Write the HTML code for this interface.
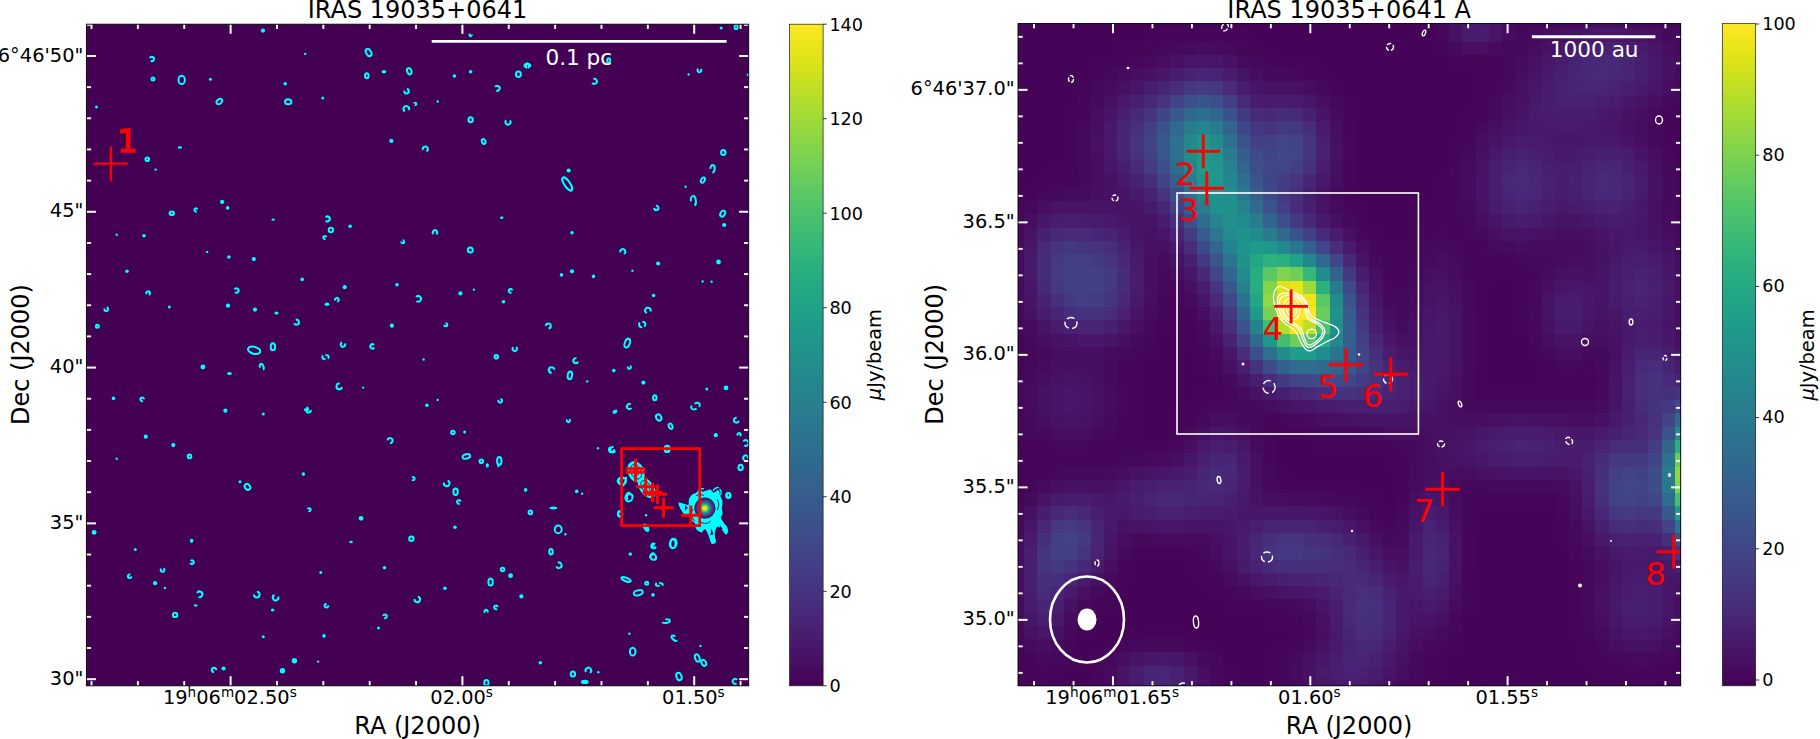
<!DOCTYPE html>
<html lang="en"><head><meta charset="utf-8"><title>IRAS 19035+0641</title>
<style>html,body{margin:0;padding:0;background:#fff;overflow:hidden}svg{display:block}text{font-family:'DejaVu Sans','Liberation Sans',sans-serif}</style>
</head><body>
<svg width="1820" height="739" viewBox="0 0 1820 739">
<defs>
<linearGradient id="vir" x1="0" y1="0" x2="0" y2="1"><stop offset="0.0000" stop-color="#fde725"/><stop offset="0.0312" stop-color="#ece51b"/><stop offset="0.0625" stop-color="#d8e219"/><stop offset="0.0938" stop-color="#c2df23"/><stop offset="0.1250" stop-color="#addc30"/><stop offset="0.1562" stop-color="#98d83e"/><stop offset="0.1875" stop-color="#84d44b"/><stop offset="0.2188" stop-color="#70cf57"/><stop offset="0.2500" stop-color="#5ec962"/><stop offset="0.2812" stop-color="#4ec36b"/><stop offset="0.3125" stop-color="#3fbc73"/><stop offset="0.3438" stop-color="#32b67a"/><stop offset="0.3750" stop-color="#28ae80"/><stop offset="0.4062" stop-color="#22a785"/><stop offset="0.4375" stop-color="#1fa088"/><stop offset="0.4688" stop-color="#1f988b"/><stop offset="0.5000" stop-color="#21918c"/><stop offset="0.5312" stop-color="#23898e"/><stop offset="0.5625" stop-color="#26828e"/><stop offset="0.5938" stop-color="#297a8e"/><stop offset="0.6250" stop-color="#2c728e"/><stop offset="0.6562" stop-color="#2f6b8e"/><stop offset="0.6875" stop-color="#33638d"/><stop offset="0.7188" stop-color="#375b8d"/><stop offset="0.7500" stop-color="#3b528b"/><stop offset="0.7812" stop-color="#3e4989"/><stop offset="0.8125" stop-color="#424086"/><stop offset="0.8438" stop-color="#453781"/><stop offset="0.8750" stop-color="#472d7b"/><stop offset="0.9062" stop-color="#482374"/><stop offset="0.9375" stop-color="#48186a"/><stop offset="0.9688" stop-color="#470d60"/><stop offset="1.0000" stop-color="#440154"/></linearGradient>
<clipPath id="c1"><rect x="86.40" y="24.20" width="662.30" height="661.60"/></clipPath>
<clipPath id="c2"><rect x="1018.00" y="23.60" width="662.70" height="662.20"/></clipPath>
</defs>
<rect x="0.00" y="0.00" width="1820.00" height="739.00" fill="#fff"/>
<rect x="86.40" y="24.20" width="662.30" height="661.60" fill="#440154"/>
<g clip-path="url(#c1)">
<ellipse cx="263.0" cy="30.6" rx="2.1" ry="2.1" fill="#00ffff"/>
<ellipse cx="305.2" cy="53.9" rx="1.2" ry="1.2" fill="#00ffff"/>
<ellipse cx="151.8" cy="59.0" rx="2.2" ry="2.2" fill="none" stroke="#00ffff" stroke-width="2.0" stroke-dasharray="9.7 3.8" transform="rotate(201 151.8 59.0)"/>
<ellipse cx="153.0" cy="79.0" rx="1.5" ry="1.5" fill="none" stroke="#00ffff" stroke-width="2.0"/>
<ellipse cx="181.7" cy="79.9" rx="3.2" ry="4.2" fill="none" stroke="#00ffff" stroke-width="2.0"/>
<ellipse cx="210.4" cy="79.3" rx="1.5" ry="1.5" fill="#00ffff"/>
<ellipse cx="285.2" cy="83.8" rx="1.8" ry="1.8" fill="#00ffff"/>
<ellipse cx="219.4" cy="101.5" rx="3.2" ry="2.2" fill="none" stroke="#00ffff" stroke-width="2.0" transform="rotate(-40 219.4 101.5)"/>
<ellipse cx="288.2" cy="101.8" rx="3.2" ry="2.5" fill="none" stroke="#00ffff" stroke-width="2.0"/>
<ellipse cx="96.5" cy="107.1" rx="1.5" ry="1.5" fill="#00ffff"/>
<ellipse cx="179.9" cy="147.5" rx="2.1" ry="1.2" fill="#00ffff"/>
<ellipse cx="147.3" cy="159.2" rx="1.8" ry="1.8" fill="none" stroke="#00ffff" stroke-width="2.0"/>
<ellipse cx="155.7" cy="169.6" rx="1.2" ry="1.2" fill="#00ffff"/>
<ellipse cx="222.1" cy="201.9" rx="2.1" ry="2.1" fill="#00ffff"/>
<ellipse cx="227.7" cy="207.9" rx="1.8" ry="1.8" fill="#00ffff"/>
<ellipse cx="171.8" cy="213.3" rx="2.2" ry="1.8" fill="none" stroke="#00ffff" stroke-width="2.0"/>
<ellipse cx="196.0" cy="210.0" rx="1.5" ry="1.5" fill="none" stroke="#00ffff" stroke-width="2.0" stroke-dasharray="6.6 2.6" transform="rotate(59 196.0 210.0)"/>
<ellipse cx="273.2" cy="219.6" rx="1.8" ry="1.2" fill="#00ffff"/>
<ellipse cx="116.8" cy="234.8" rx="1.2" ry="1.2" fill="#00ffff"/>
<ellipse cx="144.0" cy="235.7" rx="1.8" ry="1.8" fill="#00ffff"/>
<ellipse cx="470.6" cy="35.1" rx="1.1" ry="1.1" fill="none" stroke="#00ffff" stroke-width="2.0" stroke-dasharray="5.1 2.0" transform="rotate(327 470.6 35.1)"/>
<ellipse cx="368.6" cy="52.4" rx="2.5" ry="3.9" fill="none" stroke="#00ffff" stroke-width="2.0" transform="rotate(-30 368.6 52.4)"/>
<ellipse cx="366.8" cy="75.7" rx="1.8" ry="2.5" fill="none" stroke="#00ffff" stroke-width="2.0"/>
<ellipse cx="383.9" cy="71.8" rx="2.4" ry="1.8" fill="#00ffff"/>
<ellipse cx="409.3" cy="71.2" rx="2.2" ry="3.2" fill="none" stroke="#00ffff" stroke-width="2.0" transform="rotate(-20 409.3 71.2)"/>
<ellipse cx="454.4" cy="76.0" rx="1.8" ry="1.8" fill="#00ffff"/>
<ellipse cx="470.6" cy="71.8" rx="1.8" ry="1.8" fill="#00ffff"/>
<ellipse cx="518.4" cy="74.2" rx="2.5" ry="2.8" fill="none" stroke="#00ffff" stroke-width="2.0"/>
<ellipse cx="526.8" cy="65.9" rx="2.2" ry="2.2" fill="none" stroke="#00ffff" stroke-width="2.0" stroke-dasharray="9.7 3.8" transform="rotate(143 526.8 65.9)"/>
<ellipse cx="497.2" cy="88.3" rx="2.5" ry="2.5" fill="none" stroke="#00ffff" stroke-width="2.0" stroke-dasharray="11.3 4.4" transform="rotate(210 497.2 88.3)"/>
<ellipse cx="406.6" cy="91.3" rx="2.2" ry="2.2" fill="none" stroke="#00ffff" stroke-width="2.0" stroke-dasharray="9.7 3.8" transform="rotate(277 406.6 91.3)"/>
<ellipse cx="322.8" cy="97.9" rx="1.5" ry="1.5" fill="#00ffff"/>
<ellipse cx="437.7" cy="101.5" rx="1.2" ry="1.2" fill="#00ffff"/>
<ellipse cx="406.3" cy="108.9" rx="2.8" ry="2.8" fill="none" stroke="#00ffff" stroke-width="2.0" stroke-dasharray="12.8 5.0" transform="rotate(118 406.3 108.9)"/>
<ellipse cx="415.3" cy="103.8" rx="1.1" ry="1.1" fill="none" stroke="#00ffff" stroke-width="2.0" stroke-dasharray="5.1 2.0" transform="rotate(185 415.3 103.8)"/>
<ellipse cx="470.6" cy="119.7" rx="2.2" ry="2.5" fill="none" stroke="#00ffff" stroke-width="2.0"/>
<ellipse cx="508.0" cy="122.1" rx="2.5" ry="2.5" fill="none" stroke="#00ffff" stroke-width="2.0" stroke-dasharray="11.3 4.4" transform="rotate(319 508.0 122.1)"/>
<ellipse cx="391.3" cy="140.9" rx="2.1" ry="2.1" fill="#00ffff"/>
<ellipse cx="483.7" cy="141.5" rx="1.8" ry="2.5" fill="none" stroke="#00ffff" stroke-width="2.0" transform="rotate(-20 483.7 141.5)"/>
<ellipse cx="425.4" cy="149.0" rx="2.5" ry="2.5" fill="none" stroke="#00ffff" stroke-width="2.0" stroke-dasharray="11.3 4.4" transform="rotate(160 425.4 149.0)"/>
<ellipse cx="327.3" cy="219.0" rx="2.5" ry="2.5" fill="none" stroke="#00ffff" stroke-width="2.0" stroke-dasharray="11.3 4.4" transform="rotate(227 327.3 219.0)"/>
<ellipse cx="330.9" cy="230.0" rx="2.2" ry="2.2" fill="none" stroke="#00ffff" stroke-width="2.0"/>
<ellipse cx="350.1" cy="226.2" rx="1.8" ry="1.8" fill="#00ffff"/>
<ellipse cx="324.9" cy="237.5" rx="1.5" ry="1.5" fill="none" stroke="#00ffff" stroke-width="2.0" stroke-dasharray="6.6 2.6" transform="rotate(68 324.9 237.5)"/>
<ellipse cx="435.0" cy="232.4" rx="2.2" ry="2.2" fill="none" stroke="#00ffff" stroke-width="2.0" stroke-dasharray="9.7 3.8" transform="rotate(135 435.0 232.4)"/>
<ellipse cx="501.7" cy="217.8" rx="1.8" ry="1.2" fill="#00ffff"/>
<ellipse cx="402.7" cy="241.7" rx="1.5" ry="1.5" fill="none" stroke="#00ffff" stroke-width="2.0" stroke-dasharray="6.6 2.6" transform="rotate(269 402.7 241.7)"/>
<ellipse cx="721.2" cy="27.9" rx="1.5" ry="1.5" fill="#00ffff"/>
<ellipse cx="736.1" cy="27.0" rx="1.5" ry="2.2" fill="none" stroke="#00ffff" stroke-width="2.0"/>
<ellipse cx="528.0" cy="65.9" rx="2.2" ry="2.2" fill="none" stroke="#00ffff" stroke-width="2.0" stroke-dasharray="9.7 3.8" transform="rotate(110 528.0 65.9)"/>
<ellipse cx="608.7" cy="60.5" rx="1.5" ry="2.2" fill="none" stroke="#00ffff" stroke-width="2.0"/>
<ellipse cx="594.4" cy="81.4" rx="2.5" ry="2.5" fill="none" stroke="#00ffff" stroke-width="2.0" stroke-dasharray="11.3 4.4" transform="rotate(244 594.4 81.4)"/>
<ellipse cx="699.4" cy="70.4" rx="1.8" ry="1.8" fill="none" stroke="#00ffff" stroke-width="2.0" stroke-dasharray="8.2 3.2" transform="rotate(311 699.4 70.4)"/>
<ellipse cx="688.6" cy="74.5" rx="1.2" ry="1.2" fill="#00ffff"/>
<ellipse cx="747.8" cy="74.8" rx="1.2" ry="1.2" fill="#00ffff"/>
<ellipse cx="723.3" cy="152.6" rx="2.2" ry="2.5" fill="none" stroke="#00ffff" stroke-width="2.0"/>
<ellipse cx="712.5" cy="169.0" rx="2.2" ry="3.9" fill="none" stroke="#00ffff" stroke-width="2.0" stroke-dasharray="13.6 5.3" transform="rotate(189 712.5 169.0)"/>
<ellipse cx="702.9" cy="180.1" rx="1.8" ry="2.8" fill="none" stroke="#00ffff" stroke-width="2.0" transform="rotate(30 702.9 180.1)"/>
<ellipse cx="568.7" cy="170.5" rx="2.1" ry="2.1" fill="#00ffff"/>
<ellipse cx="567.2" cy="184.0" rx="2.8" ry="7.7" fill="none" stroke="#00ffff" stroke-width="2.0" transform="rotate(-35 567.2 184.0)"/>
<ellipse cx="685.6" cy="186.7" rx="1.2" ry="1.2" fill="#00ffff"/>
<ellipse cx="693.4" cy="201.0" rx="2.5" ry="4.9" fill="none" stroke="#00ffff" stroke-width="2.0" stroke-dasharray="16.7 6.5" transform="rotate(174 693.4 201.0)"/>
<ellipse cx="656.3" cy="207.9" rx="2.2" ry="2.2" fill="none" stroke="#00ffff" stroke-width="2.0" stroke-dasharray="9.7 3.8" transform="rotate(261 656.3 207.9)"/>
<ellipse cx="722.7" cy="213.6" rx="2.2" ry="3.2" fill="none" stroke="#00ffff" stroke-width="2.0" transform="rotate(30 722.7 213.6)"/>
<ellipse cx="724.2" cy="225.0" rx="2.1" ry="2.1" fill="#00ffff"/>
<ellipse cx="572.0" cy="232.7" rx="1.8" ry="1.8" fill="#00ffff"/>
<ellipse cx="207.1" cy="251.9" rx="1.2" ry="1.2" fill="#00ffff"/>
<ellipse cx="228.9" cy="257.0" rx="1.8" ry="1.8" fill="#00ffff"/>
<ellipse cx="253.8" cy="259.1" rx="2.1" ry="2.1" fill="#00ffff"/>
<ellipse cx="127.0" cy="271.3" rx="1.8" ry="1.8" fill="#00ffff"/>
<ellipse cx="302.2" cy="279.4" rx="1.8" ry="1.8" fill="#00ffff"/>
<ellipse cx="148.2" cy="293.1" rx="1.8" ry="1.8" fill="none" stroke="#00ffff" stroke-width="2.0" stroke-dasharray="8.2 3.2" transform="rotate(144 148.2 293.1)"/>
<ellipse cx="236.4" cy="290.5" rx="2.2" ry="2.2" fill="none" stroke="#00ffff" stroke-width="2.0" stroke-dasharray="9.7 3.8" transform="rotate(211 236.4 290.5)"/>
<ellipse cx="106.3" cy="309.3" rx="1.8" ry="1.8" fill="none" stroke="#00ffff" stroke-width="2.0" stroke-dasharray="8.2 3.2" transform="rotate(278 106.3 309.3)"/>
<ellipse cx="169.4" cy="306.9" rx="1.5" ry="1.5" fill="#00ffff"/>
<ellipse cx="228.0" cy="305.7" rx="2.1" ry="2.1" fill="#00ffff"/>
<ellipse cx="255.0" cy="309.6" rx="2.1" ry="2.1" fill="#00ffff"/>
<ellipse cx="276.5" cy="312.9" rx="2.1" ry="1.5" fill="#00ffff"/>
<ellipse cx="296.5" cy="322.2" rx="2.5" ry="2.5" fill="none" stroke="#00ffff" stroke-width="2.0" stroke-dasharray="11.3 4.4" transform="rotate(253 296.5 322.2)"/>
<ellipse cx="97.4" cy="326.3" rx="1.5" ry="1.5" fill="none" stroke="#00ffff" stroke-width="2.0"/>
<ellipse cx="272.9" cy="346.7" rx="2.2" ry="3.5" fill="none" stroke="#00ffff" stroke-width="2.0"/>
<ellipse cx="254.1" cy="350.3" rx="6.3" ry="3.5" fill="none" stroke="#00ffff" stroke-width="2.0" transform="rotate(15 254.1 350.3)"/>
<ellipse cx="261.8" cy="367.0" rx="1.8" ry="3.2" fill="none" stroke="#00ffff" stroke-width="2.0" stroke-dasharray="11.3 4.4" transform="rotate(161 261.8 367.0)"/>
<ellipse cx="202.9" cy="367.0" rx="2.4" ry="2.4" fill="#00ffff"/>
<ellipse cx="229.5" cy="373.6" rx="2.4" ry="1.5" fill="#00ffff"/>
<ellipse cx="113.5" cy="398.4" rx="1.8" ry="1.8" fill="#00ffff"/>
<ellipse cx="142.2" cy="399.3" rx="1.8" ry="1.8" fill="none" stroke="#00ffff" stroke-width="2.0" stroke-dasharray="8.2 3.2" transform="rotate(69 142.2 399.3)"/>
<ellipse cx="225.4" cy="410.7" rx="2.1" ry="2.1" fill="#00ffff"/>
<ellipse cx="263.3" cy="414.0" rx="1.5" ry="1.5" fill="#00ffff"/>
<ellipse cx="306.4" cy="408.9" rx="1.5" ry="1.5" fill="none" stroke="#00ffff" stroke-width="2.0" stroke-dasharray="6.6 2.6" transform="rotate(270 306.4 408.9)"/>
<ellipse cx="145.8" cy="436.7" rx="2.1" ry="2.1" fill="#00ffff"/>
<ellipse cx="173.3" cy="445.1" rx="2.1" ry="2.1" fill="#00ffff"/>
<ellipse cx="189.5" cy="456.4" rx="1.8" ry="1.8" fill="none" stroke="#00ffff" stroke-width="2.0"/>
<ellipse cx="116.8" cy="458.8" rx="1.2" ry="1.2" fill="#00ffff"/>
<ellipse cx="470.3" cy="250.1" rx="2.5" ry="2.5" fill="none" stroke="#00ffff" stroke-width="2.0"/>
<ellipse cx="344.7" cy="287.2" rx="2.1" ry="2.1" fill="#00ffff"/>
<ellipse cx="397.0" cy="284.8" rx="1.8" ry="1.8" fill="#00ffff"/>
<ellipse cx="327.0" cy="304.2" rx="2.4" ry="1.8" fill="#00ffff"/>
<ellipse cx="336.9" cy="299.7" rx="1.8" ry="1.8" fill="none" stroke="#00ffff" stroke-width="2.0" stroke-dasharray="8.2 3.2" transform="rotate(153 336.9 299.7)"/>
<ellipse cx="418.2" cy="298.8" rx="2.8" ry="2.8" fill="none" stroke="#00ffff" stroke-width="2.0" stroke-dasharray="12.8 5.0" transform="rotate(220 418.2 298.8)"/>
<ellipse cx="460.4" cy="293.4" rx="2.1" ry="2.1" fill="#00ffff"/>
<ellipse cx="473.9" cy="289.6" rx="1.2" ry="1.2" fill="#00ffff"/>
<ellipse cx="510.6" cy="290.8" rx="1.8" ry="1.8" fill="none" stroke="#00ffff" stroke-width="2.0" stroke-dasharray="8.2 3.2" transform="rotate(61 510.6 290.8)"/>
<ellipse cx="503.5" cy="301.8" rx="1.8" ry="1.8" fill="#00ffff"/>
<ellipse cx="391.9" cy="325.7" rx="2.1" ry="2.1" fill="#00ffff"/>
<ellipse cx="445.8" cy="324.8" rx="1.5" ry="1.5" fill="none" stroke="#00ffff" stroke-width="2.0" stroke-dasharray="6.6 2.6" transform="rotate(262 445.8 324.8)"/>
<ellipse cx="342.9" cy="344.6" rx="2.2" ry="2.2" fill="none" stroke="#00ffff" stroke-width="2.0" stroke-dasharray="9.7 3.8" transform="rotate(329 342.9 344.6)"/>
<ellipse cx="372.5" cy="346.4" rx="2.2" ry="2.2" fill="none" stroke="#00ffff" stroke-width="2.0" stroke-dasharray="9.7 3.8" transform="rotate(36 372.5 346.4)"/>
<ellipse cx="325.5" cy="357.1" rx="2.2" ry="3.2" fill="none" stroke="#00ffff" stroke-width="2.0" stroke-dasharray="6.0 2.3" transform="rotate(90 325.5 357.1)"/>
<ellipse cx="423.6" cy="359.5" rx="1.2" ry="1.2" fill="#00ffff"/>
<ellipse cx="496.3" cy="356.8" rx="1.8" ry="1.8" fill="none" stroke="#00ffff" stroke-width="2.0"/>
<ellipse cx="514.8" cy="348.8" rx="2.2" ry="2.2" fill="none" stroke="#00ffff" stroke-width="2.0" stroke-dasharray="9.7 3.8" transform="rotate(304 514.8 348.8)"/>
<ellipse cx="339.3" cy="386.4" rx="2.8" ry="2.8" fill="none" stroke="#00ffff" stroke-width="2.0" stroke-dasharray="12.8 5.0" transform="rotate(11 339.3 386.4)"/>
<ellipse cx="363.2" cy="387.6" rx="1.2" ry="1.2" fill="#00ffff"/>
<ellipse cx="426.9" cy="405.3" rx="1.8" ry="1.8" fill="#00ffff"/>
<ellipse cx="437.7" cy="399.9" rx="1.2" ry="1.2" fill="#00ffff"/>
<ellipse cx="500.2" cy="400.8" rx="1.8" ry="1.8" fill="none" stroke="#00ffff" stroke-width="2.0" stroke-dasharray="8.2 3.2" transform="rotate(279 500.2 400.8)"/>
<ellipse cx="308.5" cy="410.4" rx="2.2" ry="2.2" fill="none" stroke="#00ffff" stroke-width="2.0" stroke-dasharray="9.7 3.8" transform="rotate(346 308.5 410.4)"/>
<ellipse cx="452.9" cy="432.5" rx="1.8" ry="1.8" fill="none" stroke="#00ffff" stroke-width="2.0"/>
<ellipse cx="464.6" cy="431.9" rx="1.5" ry="1.5" fill="#00ffff"/>
<ellipse cx="390.1" cy="440.6" rx="2.5" ry="2.5" fill="none" stroke="#00ffff" stroke-width="2.0" stroke-dasharray="11.3 4.4" transform="rotate(187 390.1 440.6)"/>
<ellipse cx="466.4" cy="456.4" rx="3.9" ry="2.2" fill="none" stroke="#00ffff" stroke-width="2.0" transform="rotate(-15 466.4 456.4)"/>
<ellipse cx="481.3" cy="461.2" rx="1.8" ry="1.8" fill="none" stroke="#00ffff" stroke-width="2.0"/>
<ellipse cx="487.3" cy="464.8" rx="1.5" ry="1.5" fill="#00ffff"/>
<ellipse cx="499.3" cy="460.9" rx="2.2" ry="3.9" fill="none" stroke="#00ffff" stroke-width="2.0"/>
<ellipse cx="622.8" cy="251.6" rx="2.5" ry="2.5" fill="none" stroke="#00ffff" stroke-width="2.0" stroke-dasharray="11.3 4.4" transform="rotate(162 622.8 251.6)"/>
<ellipse cx="658.1" cy="263.5" rx="2.1" ry="2.1" fill="#00ffff"/>
<ellipse cx="718.5" cy="262.0" rx="2.4" ry="2.4" fill="#00ffff"/>
<ellipse cx="561.5" cy="274.9" rx="1.8" ry="1.8" fill="#00ffff"/>
<ellipse cx="572.0" cy="271.3" rx="2.1" ry="2.1" fill="#00ffff"/>
<ellipse cx="593.5" cy="276.4" rx="1.8" ry="1.8" fill="#00ffff"/>
<ellipse cx="632.4" cy="270.7" rx="1.2" ry="1.2" fill="#00ffff"/>
<ellipse cx="702.6" cy="281.5" rx="1.2" ry="1.2" fill="#00ffff"/>
<ellipse cx="711.6" cy="281.8" rx="1.2" ry="1.2" fill="#00ffff"/>
<ellipse cx="653.6" cy="295.5" rx="1.8" ry="1.8" fill="#00ffff"/>
<ellipse cx="647.9" cy="310.5" rx="2.8" ry="2.8" fill="none" stroke="#00ffff" stroke-width="2.0" stroke-dasharray="12.8 5.0" transform="rotate(112 647.9 310.5)"/>
<ellipse cx="548.3" cy="326.0" rx="2.5" ry="2.5" fill="none" stroke="#00ffff" stroke-width="2.0" stroke-dasharray="11.3 4.4" transform="rotate(179 548.3 326.0)"/>
<ellipse cx="642.2" cy="324.5" rx="2.8" ry="3.2" fill="none" stroke="#00ffff" stroke-width="2.0" stroke-dasharray="6.8 2.6" transform="rotate(90 642.2 324.5)"/>
<ellipse cx="627.3" cy="343.1" rx="2.5" ry="4.6" fill="none" stroke="#00ffff" stroke-width="2.0" transform="rotate(20 627.3 343.1)"/>
<ellipse cx="575.8" cy="360.7" rx="2.5" ry="2.5" fill="none" stroke="#00ffff" stroke-width="2.0" stroke-dasharray="11.3 4.4" transform="rotate(20 575.8 360.7)"/>
<ellipse cx="551.6" cy="370.0" rx="2.8" ry="2.8" fill="none" stroke="#00ffff" stroke-width="2.0" stroke-dasharray="12.8 5.0" transform="rotate(87 551.6 370.0)"/>
<ellipse cx="569.9" cy="375.4" rx="2.2" ry="3.9" fill="none" stroke="#00ffff" stroke-width="2.0" transform="rotate(10 569.9 375.4)"/>
<ellipse cx="613.8" cy="370.6" rx="1.8" ry="1.8" fill="#00ffff"/>
<ellipse cx="629.4" cy="367.3" rx="1.5" ry="1.5" fill="none" stroke="#00ffff" stroke-width="2.0" stroke-dasharray="6.6 2.6" transform="rotate(288 629.4 367.3)"/>
<ellipse cx="587.2" cy="381.4" rx="1.2" ry="1.2" fill="#00ffff"/>
<ellipse cx="643.4" cy="382.6" rx="2.1" ry="2.1" fill="#00ffff"/>
<ellipse cx="706.8" cy="389.1" rx="1.5" ry="1.5" fill="#00ffff"/>
<ellipse cx="726.0" cy="387.9" rx="2.4" ry="2.4" fill="#00ffff"/>
<ellipse cx="654.8" cy="397.8" rx="1.8" ry="2.5" fill="none" stroke="#00ffff" stroke-width="2.0"/>
<ellipse cx="695.5" cy="406.2" rx="2.8" ry="4.6" fill="none" stroke="#00ffff" stroke-width="2.0" stroke-dasharray="8.4 3.3" transform="rotate(65 695.5 406.2)"/>
<ellipse cx="629.4" cy="406.5" rx="2.5" ry="2.5" fill="none" stroke="#00ffff" stroke-width="2.0" stroke-dasharray="11.3 4.4" transform="rotate(37 629.4 406.5)"/>
<ellipse cx="615.0" cy="411.6" rx="2.7" ry="1.8" fill="#00ffff" transform="rotate(-30 615.0 411.6)"/>
<ellipse cx="658.7" cy="417.5" rx="2.5" ry="3.2" fill="none" stroke="#00ffff" stroke-width="2.0" transform="rotate(-30 658.7 417.5)"/>
<ellipse cx="670.6" cy="426.2" rx="1.8" ry="2.8" fill="none" stroke="#00ffff" stroke-width="2.0" transform="rotate(-20 670.6 426.2)"/>
<ellipse cx="568.4" cy="420.5" rx="1.5" ry="1.5" fill="none" stroke="#00ffff" stroke-width="2.0" stroke-dasharray="6.6 2.6" transform="rotate(305 568.4 420.5)"/>
<ellipse cx="736.4" cy="420.2" rx="2.5" ry="2.5" fill="none" stroke="#00ffff" stroke-width="2.0" stroke-dasharray="11.3 4.4" transform="rotate(12 736.4 420.2)"/>
<ellipse cx="715.8" cy="435.2" rx="2.1" ry="2.1" fill="#00ffff"/>
<ellipse cx="739.1" cy="434.6" rx="1.5" ry="1.5" fill="none" stroke="#00ffff" stroke-width="2.0" stroke-dasharray="6.6 2.6" transform="rotate(146 739.1 434.6)"/>
<ellipse cx="745.7" cy="443.0" rx="2.8" ry="2.8" fill="none" stroke="#00ffff" stroke-width="2.0" stroke-dasharray="12.8 5.0" transform="rotate(213 745.7 443.0)"/>
<ellipse cx="598.0" cy="448.3" rx="1.2" ry="1.2" fill="#00ffff"/>
<ellipse cx="611.4" cy="449.8" rx="2.5" ry="2.5" fill="none" stroke="#00ffff" stroke-width="2.0" stroke-dasharray="11.3 4.4" transform="rotate(347 611.4 449.8)"/>
<ellipse cx="666.8" cy="448.9" rx="1.8" ry="2.8" fill="none" stroke="#00ffff" stroke-width="2.0"/>
<ellipse cx="745.7" cy="457.9" rx="2.5" ry="2.5" fill="none" stroke="#00ffff" stroke-width="2.0" stroke-dasharray="11.3 4.4" transform="rotate(121 745.7 457.9)"/>
<ellipse cx="303.4" cy="474.1" rx="1.8" ry="1.8" fill="#00ffff"/>
<ellipse cx="240.0" cy="481.8" rx="1.5" ry="1.5" fill="#00ffff"/>
<ellipse cx="247.5" cy="486.9" rx="2.5" ry="3.2" fill="none" stroke="#00ffff" stroke-width="2.0" transform="rotate(-40 247.5 486.9)"/>
<ellipse cx="94.1" cy="532.4" rx="2.4" ry="2.4" fill="#00ffff"/>
<ellipse cx="191.6" cy="540.8" rx="1.8" ry="2.1" fill="#00ffff"/>
<ellipse cx="135.3" cy="549.4" rx="1.5" ry="1.5" fill="#00ffff"/>
<ellipse cx="191.9" cy="562.3" rx="1.8" ry="1.8" fill="none" stroke="#00ffff" stroke-width="2.0" stroke-dasharray="8.2 3.2" transform="rotate(230 191.9 562.3)"/>
<ellipse cx="162.6" cy="570.1" rx="1.8" ry="1.8" fill="none" stroke="#00ffff" stroke-width="2.0" stroke-dasharray="8.2 3.2" transform="rotate(297 162.6 570.1)"/>
<ellipse cx="129.7" cy="576.3" rx="1.8" ry="1.8" fill="none" stroke="#00ffff" stroke-width="2.0" stroke-dasharray="8.2 3.2" transform="rotate(4 129.7 576.3)"/>
<ellipse cx="155.1" cy="583.2" rx="2.1" ry="2.1" fill="#00ffff"/>
<ellipse cx="164.9" cy="588.0" rx="1.2" ry="1.2" fill="#00ffff"/>
<ellipse cx="199.6" cy="594.3" rx="2.8" ry="2.8" fill="none" stroke="#00ffff" stroke-width="2.0" stroke-dasharray="12.8 5.0" transform="rotate(205 199.6 594.3)"/>
<ellipse cx="256.8" cy="594.6" rx="2.8" ry="2.8" fill="none" stroke="#00ffff" stroke-width="2.0" stroke-dasharray="12.8 5.0" transform="rotate(272 256.8 594.6)"/>
<ellipse cx="275.6" cy="597.6" rx="2.8" ry="2.8" fill="none" stroke="#00ffff" stroke-width="2.0" stroke-dasharray="12.8 5.0" transform="rotate(339 275.6 597.6)"/>
<ellipse cx="195.7" cy="605.4" rx="1.8" ry="1.2" fill="#00ffff"/>
<ellipse cx="272.6" cy="610.1" rx="1.8" ry="1.5" fill="#00ffff"/>
<ellipse cx="175.1" cy="614.9" rx="2.2" ry="2.2" fill="none" stroke="#00ffff" stroke-width="2.0"/>
<ellipse cx="263.3" cy="636.8" rx="1.5" ry="1.5" fill="#00ffff"/>
<ellipse cx="294.4" cy="660.7" rx="2.7" ry="2.7" fill="#00ffff"/>
<ellipse cx="282.5" cy="670.8" rx="2.7" ry="2.7" fill="#00ffff"/>
<ellipse cx="214.0" cy="669.9" rx="2.2" ry="2.2" fill="none" stroke="#00ffff" stroke-width="2.0" stroke-dasharray="9.7 3.8" transform="rotate(88 214.0 669.9)"/>
<ellipse cx="223.6" cy="668.5" rx="2.1" ry="2.1" fill="#00ffff"/>
<ellipse cx="413.2" cy="478.6" rx="1.5" ry="1.5" fill="none" stroke="#00ffff" stroke-width="2.0" stroke-dasharray="6.6 2.6" transform="rotate(222 413.2 478.6)"/>
<ellipse cx="446.7" cy="483.3" rx="2.8" ry="2.8" fill="none" stroke="#00ffff" stroke-width="2.0" stroke-dasharray="12.8 5.0" transform="rotate(289 446.7 483.3)"/>
<ellipse cx="455.6" cy="491.7" rx="2.2" ry="3.2" fill="none" stroke="#00ffff" stroke-width="2.0"/>
<ellipse cx="458.9" cy="501.9" rx="1.8" ry="1.8" fill="none" stroke="#00ffff" stroke-width="2.0" stroke-dasharray="8.2 3.2" transform="rotate(63 458.9 501.9)"/>
<ellipse cx="525.6" cy="489.9" rx="1.8" ry="1.8" fill="#00ffff"/>
<ellipse cx="309.1" cy="509.7" rx="1.5" ry="1.5" fill="none" stroke="#00ffff" stroke-width="2.0" stroke-dasharray="6.6 2.6" transform="rotate(197 309.1 509.7)"/>
<ellipse cx="361.1" cy="518.3" rx="2.4" ry="2.4" fill="#00ffff"/>
<ellipse cx="455.0" cy="527.3" rx="1.8" ry="1.8" fill="#00ffff"/>
<ellipse cx="411.4" cy="538.7" rx="2.2" ry="2.2" fill="none" stroke="#00ffff" stroke-width="2.0"/>
<ellipse cx="351.0" cy="542.0" rx="1.8" ry="1.2" fill="#00ffff"/>
<ellipse cx="384.5" cy="567.7" rx="1.8" ry="1.8" fill="#00ffff"/>
<ellipse cx="320.8" cy="572.5" rx="1.5" ry="1.5" fill="#00ffff"/>
<ellipse cx="502.6" cy="569.5" rx="1.8" ry="1.8" fill="none" stroke="#00ffff" stroke-width="2.0"/>
<ellipse cx="510.6" cy="575.7" rx="2.4" ry="2.4" fill="#00ffff"/>
<ellipse cx="490.6" cy="582.0" rx="2.2" ry="3.5" fill="none" stroke="#00ffff" stroke-width="2.0"/>
<ellipse cx="444.9" cy="588.3" rx="1.8" ry="1.8" fill="#00ffff"/>
<ellipse cx="521.4" cy="596.4" rx="2.1" ry="2.1" fill="#00ffff"/>
<ellipse cx="417.3" cy="599.4" rx="2.8" ry="2.8" fill="none" stroke="#00ffff" stroke-width="2.0" stroke-dasharray="12.8 5.0" transform="rotate(281 417.3 599.4)"/>
<ellipse cx="326.4" cy="605.7" rx="1.8" ry="1.8" fill="none" stroke="#00ffff" stroke-width="2.0" stroke-dasharray="8.2 3.2" transform="rotate(348 326.4 605.7)"/>
<ellipse cx="496.0" cy="607.4" rx="1.8" ry="1.8" fill="none" stroke="#00ffff" stroke-width="2.0" stroke-dasharray="8.2 3.2" transform="rotate(55 496.0 607.4)"/>
<ellipse cx="486.1" cy="611.3" rx="1.5" ry="1.5" fill="none" stroke="#00ffff" stroke-width="2.0" stroke-dasharray="6.6 2.6" transform="rotate(122 486.1 611.3)"/>
<ellipse cx="385.1" cy="616.4" rx="1.8" ry="1.8" fill="none" stroke="#00ffff" stroke-width="2.0" stroke-dasharray="8.2 3.2" transform="rotate(189 385.1 616.4)"/>
<ellipse cx="378.5" cy="628.1" rx="1.5" ry="1.5" fill="#00ffff"/>
<ellipse cx="324.0" cy="635.9" rx="1.8" ry="1.8" fill="#00ffff"/>
<ellipse cx="318.1" cy="661.6" rx="1.2" ry="1.2" fill="#00ffff"/>
<ellipse cx="486.4" cy="682.8" rx="2.2" ry="2.8" fill="none" stroke="#00ffff" stroke-width="2.0"/>
<ellipse cx="487.3" cy="466.0" rx="1.5" ry="1.5" fill="#00ffff"/>
<ellipse cx="498.4" cy="466.0" rx="1.2" ry="1.2" fill="#00ffff"/>
<ellipse cx="740.6" cy="467.5" rx="2.2" ry="2.8" fill="none" stroke="#00ffff" stroke-width="2.0"/>
<ellipse cx="576.7" cy="491.4" rx="1.8" ry="1.8" fill="#00ffff"/>
<ellipse cx="582.1" cy="493.8" rx="1.2" ry="1.2" fill="#00ffff"/>
<ellipse cx="728.4" cy="495.3" rx="1.8" ry="2.2" fill="none" stroke="#00ffff" stroke-width="2.0"/>
<ellipse cx="553.4" cy="507.9" rx="3.9" ry="1.5" fill="#00ffff"/>
<ellipse cx="530.4" cy="512.4" rx="1.8" ry="1.8" fill="none" stroke="#00ffff" stroke-width="2.0"/>
<ellipse cx="558.2" cy="529.4" rx="3.5" ry="3.9" fill="none" stroke="#00ffff" stroke-width="2.0"/>
<ellipse cx="565.4" cy="534.2" rx="1.2" ry="1.2" fill="#00ffff"/>
<ellipse cx="724.5" cy="527.9" rx="1.8" ry="2.5" fill="none" stroke="#00ffff" stroke-width="2.0" transform="rotate(-30 724.5 527.9)"/>
<ellipse cx="551.0" cy="551.8" rx="1.8" ry="2.8" fill="none" stroke="#00ffff" stroke-width="2.0"/>
<ellipse cx="558.8" cy="565.3" rx="2.8" ry="2.8" fill="none" stroke="#00ffff" stroke-width="2.0" stroke-dasharray="12.8 5.0" transform="rotate(248 558.8 565.3)"/>
<ellipse cx="673.0" cy="543.8" rx="2.5" ry="4.2" fill="none" stroke="#00ffff" stroke-width="2.0"/>
<ellipse cx="653.9" cy="546.1" rx="1.5" ry="1.5" fill="none" stroke="#00ffff" stroke-width="2.0" stroke-dasharray="6.6 2.6" transform="rotate(22 653.9 546.1)"/>
<ellipse cx="630.3" cy="554.2" rx="1.5" ry="1.5" fill="#00ffff"/>
<ellipse cx="653.3" cy="557.2" rx="2.8" ry="2.8" fill="none" stroke="#00ffff" stroke-width="2.0" stroke-dasharray="12.8 5.0" transform="rotate(156 653.3 557.2)"/>
<ellipse cx="646.1" cy="527.6" rx="1.1" ry="2.8" fill="none" stroke="#00ffff" stroke-width="2.0" transform="rotate(-30 646.1 527.6)"/>
<ellipse cx="626.1" cy="579.6" rx="4.9" ry="1.8" fill="none" stroke="#00ffff" stroke-width="2.0" transform="rotate(20 626.1 579.6)"/>
<ellipse cx="646.7" cy="583.2" rx="1.5" ry="1.5" fill="none" stroke="#00ffff" stroke-width="2.0"/>
<ellipse cx="659.3" cy="584.4" rx="1.5" ry="3.5" fill="none" stroke="#00ffff" stroke-width="2.0" stroke-dasharray="5.6 2.2" transform="rotate(90 659.3 584.4)"/>
<ellipse cx="638.3" cy="592.8" rx="4.6" ry="2.5" fill="none" stroke="#00ffff" stroke-width="2.0" transform="rotate(-15 638.3 592.8)"/>
<ellipse cx="653.0" cy="594.9" rx="1.8" ry="1.8" fill="#00ffff"/>
<ellipse cx="665.9" cy="621.2" rx="1.8" ry="3.9" fill="none" stroke="#00ffff" stroke-width="2.0" stroke-dasharray="12.8 5.0" transform="rotate(265 665.9 621.2)"/>
<ellipse cx="629.4" cy="633.8" rx="1.2" ry="1.2" fill="#00ffff"/>
<ellipse cx="674.5" cy="638.2" rx="3.5" ry="1.8" fill="none" stroke="#00ffff" stroke-width="2.0" stroke-dasharray="12.1 4.7" transform="rotate(39 674.5 638.2)"/>
<ellipse cx="700.5" cy="646.0" rx="1.2" ry="1.2" fill="#00ffff"/>
<ellipse cx="632.7" cy="651.7" rx="2.8" ry="3.9" fill="none" stroke="#00ffff" stroke-width="2.0"/>
<ellipse cx="697.3" cy="658.0" rx="2.2" ry="3.9" fill="none" stroke="#00ffff" stroke-width="2.0" transform="rotate(-20 697.3 658.0)"/>
<ellipse cx="703.8" cy="662.8" rx="2.2" ry="3.2" fill="none" stroke="#00ffff" stroke-width="2.0" transform="rotate(-30 703.8 662.8)"/>
<ellipse cx="540.3" cy="662.8" rx="1.8" ry="1.8" fill="#00ffff"/>
<ellipse cx="572.9" cy="674.1" rx="2.2" ry="2.5" fill="none" stroke="#00ffff" stroke-width="2.0"/>
<ellipse cx="588.4" cy="670.5" rx="2.8" ry="2.8" fill="none" stroke="#00ffff" stroke-width="2.0" stroke-dasharray="12.8 5.0" transform="rotate(148 588.4 670.5)"/>
<ellipse cx="598.3" cy="672.3" rx="1.2" ry="1.2" fill="#00ffff"/>
<ellipse cx="584.8" cy="681.9" rx="3.9" ry="2.1" fill="#00ffff"/>
<ellipse cx="679.0" cy="676.5" rx="2.5" ry="3.9" fill="none" stroke="#00ffff" stroke-width="2.0" transform="rotate(-20 679.0 676.5)"/>
<ellipse cx="735.2" cy="681.3" rx="2.5" ry="2.5" fill="none" stroke="#00ffff" stroke-width="2.0" stroke-dasharray="11.3 4.4" transform="rotate(56 735.2 681.3)"/>
<ellipse cx="629.7" cy="496.8" rx="2.8" ry="2.8" fill="none" stroke="#00ffff" stroke-width="2.0" stroke-dasharray="12.8 5.0" transform="rotate(123 629.7 496.8)"/>
<ellipse cx="620.1" cy="513.8" rx="1.8" ry="2.5" fill="none" stroke="#00ffff" stroke-width="2.0"/>
<ellipse cx="646.1" cy="515.3" rx="1.2" ry="1.2" fill="#00ffff"/>
<ellipse cx="621.9" cy="481.0" rx="4.2" ry="3.5" fill="none" stroke="#00ffff" stroke-width="2.0"/>
<ellipse cx="636.0" cy="471.8" rx="8.3" ry="11.2" fill="#00ffff" transform="rotate(-25 636.0 471.8)"/>
<ellipse cx="636.0" cy="471.8" rx="5.0" ry="7.6" fill="none" stroke="#440154" stroke-width="0.8" transform="rotate(-25 636.0 471.8)"/>
<ellipse cx="636.0" cy="471.8" rx="2.2" ry="3.8" fill="none" stroke="#440154" stroke-width="0.7" transform="rotate(-25 636.0 471.8)"/>
<ellipse cx="646.8" cy="487.9" rx="7.0" ry="11.6" fill="#00ffff" transform="rotate(-36 646.8 487.9)"/>
<ellipse cx="646.8" cy="487.9" rx="4.2" ry="8.4" fill="none" stroke="#440154" stroke-width="0.8" transform="rotate(-36 646.8 487.9)"/>
<ellipse cx="646.8" cy="487.9" rx="1.8" ry="4.8" fill="none" stroke="#440154" stroke-width="0.7" transform="rotate(-36 646.8 487.9)"/>
<path d="M617.6 480.6 L626.4 477.6 L623.6 485.6 Z" fill="none" stroke="#00ffff" stroke-width="1.6" stroke-linejoin="round"/>
<ellipse cx="629.1" cy="497.2" rx="3.6" ry="4.4" fill="none" stroke="#00ffff" stroke-width="2.0" stroke-dasharray="18.1 7.0" transform="rotate(20 629.1 497.2)"/>
<ellipse cx="620.1" cy="513.9" rx="2.2" ry="2.8" fill="none" stroke="#00ffff" stroke-width="2.0" transform="rotate(0 620.1 513.9)"/>
<ellipse cx="667.2" cy="448.9" rx="2.6" ry="3.2" fill="none" stroke="#00ffff" stroke-width="2.0" transform="rotate(0 667.2 448.9)"/>
<ellipse cx="646.1" cy="515.2" rx="0.9" ry="0.9" fill="#00ffff"/>
<ellipse cx="646.1" cy="527.7" rx="1.6" ry="3.6" fill="none" stroke="#00ffff" stroke-width="2.0" transform="rotate(-30 646.1 527.7)"/>
<ellipse cx="673.2" cy="543.4" rx="3.4" ry="4.8" fill="none" stroke="#00ffff" stroke-width="2.0" transform="rotate(10 673.2 543.4)"/>
<ellipse cx="653.7" cy="545.9" rx="2.4" ry="2.4" fill="none" stroke="#00ffff" stroke-width="2.0" stroke-dasharray="10.9 4.2" transform="rotate(20 653.7 545.9)"/>
<ellipse cx="653.4" cy="556.6" rx="3.2" ry="3.2" fill="none" stroke="#00ffff" stroke-width="2.0" stroke-dasharray="14.5 5.6" transform="rotate(20 653.4 556.6)"/>
<ellipse cx="630.2" cy="553.7" rx="1.6" ry="1.2" fill="#00ffff"/>
<ellipse cx="728.4" cy="495.5" rx="2.2" ry="2.6" fill="none" stroke="#00ffff" stroke-width="2.0" transform="rotate(0 728.4 495.5)"/>
<ellipse cx="612.8" cy="449.7" rx="2.6" ry="2.6" fill="none" stroke="#00ffff" stroke-width="2.0" stroke-dasharray="11.8 4.6" transform="rotate(20 612.8 449.7)"/>
<path d="M704.9 491.1C706.2 490.8 708.9 489.2 710.4 489.5C711.9 489.8 712.4 492.7 713.7 492.8C715.0 492.9 717.0 489.5 718.1 490.1C719.2 490.6 719.6 494.2 720.3 496.1C721.0 498.0 722.2 499.6 722.5 501.6C722.8 503.6 721.9 506.2 721.9 508.2C721.9 510.2 722.7 512.1 722.5 513.7C722.3 515.4 720.7 516.6 720.9 518.1C721.0 519.6 722.4 520.5 723.6 522.5C724.8 524.5 727.6 528.2 728.0 530.2C728.4 532.2 726.9 534.8 725.8 534.6C724.7 534.4 722.9 530.4 721.4 529.1C719.9 527.8 718.1 526.0 717.0 526.9C715.9 527.8 715.0 532.0 714.8 534.6C714.6 537.2 716.4 540.8 715.9 542.3C715.4 543.8 712.8 544.7 711.5 543.4C710.2 542.1 709.3 537.0 708.2 534.6C707.1 532.2 706.0 529.5 704.9 529.1C703.8 528.7 703.1 532.4 701.6 532.4C700.1 532.4 697.2 530.6 696.1 529.1C695.0 527.6 695.9 525.2 695.0 523.6C694.1 522.0 691.5 520.9 690.6 519.2C689.7 517.6 690.4 514.4 689.5 513.7C688.6 513.0 686.6 515.5 685.1 514.8C683.6 514.1 681.8 511.3 680.7 509.3C679.6 507.3 678.0 503.6 678.5 502.7C679.0 501.8 682.4 503.4 684.0 503.8C685.6 504.2 687.6 505.6 688.4 504.9C689.2 504.2 688.4 501.0 688.9 499.4C689.5 497.8 690.5 496.1 691.7 495.0C692.9 493.9 694.8 493.8 696.1 492.8C697.4 491.8 698.3 489.1 699.4 488.9C700.5 488.8 701.8 491.3 702.7 491.7C703.6 492.1 703.6 491.5 704.9 491.1Z" fill="#00ffff"/>
<path d="M684.9 505.2 l3 2.5 l-3 3 z" fill="#440154"/>
<path d="M711.4 528.2 l2 6 l-3 1 z" fill="#440154"/>
<path d="M719.9 525.2 l3 4 l-3.4 0 z" fill="#440154"/>
<path d="M695.9 495.7 q4 -3 8 0" fill="none" stroke="#440154" stroke-width="0.9"/>
<path d="M717.4 499.2 q3 5 0 11" fill="none" stroke="#440154" stroke-width="0.9"/>
<path d="M692.9 509.2 q-4 6 2 12" fill="none" stroke="#440154" stroke-width="0.9"/>
<path d="M700.9 522.2 q5 3 10 -1" fill="none" stroke="#440154" stroke-width="0.9"/>
<path d="M698.9 490.2 q2 -3 5 -1" fill="none" stroke="#00ffff" stroke-width="1.4"/>
<path d="M712.9 490.7 q3 -4 6 -3" fill="none" stroke="#00ffff" stroke-width="1.4"/>
<path d="M719.4 489.2 q3 2 1 6" fill="none" stroke="#00ffff" stroke-width="1.4"/>
<defs><radialGradient id="src" cx="0.5" cy="0.5" r="0.5"><stop offset="0.000" stop-color="#fde725"/><stop offset="0.062" stop-color="#fde725"/><stop offset="0.125" stop-color="#eae51a"/><stop offset="0.188" stop-color="#c0df25"/><stop offset="0.250" stop-color="#8bd646"/><stop offset="0.312" stop-color="#54c568"/><stop offset="0.375" stop-color="#2ab07f"/><stop offset="0.438" stop-color="#1f988b"/><stop offset="0.500" stop-color="#26828e"/><stop offset="0.562" stop-color="#2f6c8e"/><stop offset="0.625" stop-color="#38588c"/><stop offset="0.688" stop-color="#404588"/><stop offset="0.750" stop-color="#453581"/><stop offset="0.812" stop-color="#482878"/><stop offset="0.875" stop-color="#481c6e"/><stop offset="0.938" stop-color="#481467"/><stop offset="1.000" stop-color="#470d60"/></radialGradient></defs>
<circle cx="704.9" cy="508.2" r="10.6" fill="url(#src)"/>
<rect x="621.6" y="448.6" width="78.1" height="77.0" fill="none" stroke="#ff0000" stroke-width="2.7"/>
<line x1="625.80" y1="468.70" x2="645.20" y2="468.70" stroke="#ff0000" stroke-width="3.00" />
<line x1="635.50" y1="459.00" x2="635.50" y2="478.40" stroke="#ff0000" stroke-width="3.00" />
<line x1="625.90" y1="472.30" x2="645.30" y2="472.30" stroke="#ff0000" stroke-width="3.00" />
<line x1="635.60" y1="462.60" x2="635.60" y2="482.00" stroke="#ff0000" stroke-width="3.00" />
<line x1="636.00" y1="486.70" x2="655.40" y2="486.70" stroke="#ff0000" stroke-width="3.00" />
<line x1="645.70" y1="477.00" x2="645.70" y2="496.40" stroke="#ff0000" stroke-width="3.00" />
<line x1="642.80" y1="492.60" x2="662.20" y2="492.60" stroke="#ff0000" stroke-width="3.00" />
<line x1="652.50" y1="482.90" x2="652.50" y2="502.30" stroke="#ff0000" stroke-width="3.00" />
<line x1="647.80" y1="494.30" x2="667.20" y2="494.30" stroke="#ff0000" stroke-width="3.00" />
<line x1="657.50" y1="484.60" x2="657.50" y2="504.00" stroke="#ff0000" stroke-width="3.00" />
<line x1="653.80" y1="507.80" x2="673.20" y2="507.80" stroke="#ff0000" stroke-width="3.00" />
<line x1="663.50" y1="498.10" x2="663.50" y2="517.50" stroke="#ff0000" stroke-width="3.00" />
<line x1="681.10" y1="515.20" x2="700.50" y2="515.20" stroke="#ff0000" stroke-width="3.00" />
<line x1="690.80" y1="505.50" x2="690.80" y2="524.90" stroke="#ff0000" stroke-width="3.00" />
<line x1="93.80" y1="163.70" x2="127.80" y2="163.70" stroke="#ff0000" stroke-width="2.30" />
<line x1="110.80" y1="146.70" x2="110.80" y2="180.70" stroke="#ff0000" stroke-width="2.30" />
<text x="127.20" y="152.20" font-size="32.20" text-anchor="middle" fill="#ff0000" stroke="#ff0000" stroke-width="1.3">1</text>
<line x1="431.70" y1="41.40" x2="726.60" y2="41.40" stroke="#fff" stroke-width="2.80" />
<text x="578.80" y="64.50" font-size="21.60" text-anchor="middle" fill="#fff" >0.1 pc</text>
</g>
<line x1="230.60" y1="24.20" x2="230.60" y2="33.80" stroke="#fff" stroke-width="2.00" />
<line x1="230.60" y1="685.80" x2="230.60" y2="676.20" stroke="#fff" stroke-width="2.00" />
<line x1="462.40" y1="24.20" x2="462.40" y2="33.80" stroke="#fff" stroke-width="2.00" />
<line x1="462.40" y1="685.80" x2="462.40" y2="676.20" stroke="#fff" stroke-width="2.00" />
<line x1="694.20" y1="24.20" x2="694.20" y2="33.80" stroke="#fff" stroke-width="2.00" />
<line x1="694.20" y1="685.80" x2="694.20" y2="676.20" stroke="#fff" stroke-width="2.00" />
<line x1="91.52" y1="24.20" x2="91.52" y2="28.90" stroke="#fff" stroke-width="1.90" />
<line x1="91.52" y1="685.80" x2="91.52" y2="681.10" stroke="#fff" stroke-width="1.90" />
<line x1="137.88" y1="24.20" x2="137.88" y2="28.90" stroke="#fff" stroke-width="1.90" />
<line x1="137.88" y1="685.80" x2="137.88" y2="681.10" stroke="#fff" stroke-width="1.90" />
<line x1="184.24" y1="24.20" x2="184.24" y2="28.90" stroke="#fff" stroke-width="1.90" />
<line x1="184.24" y1="685.80" x2="184.24" y2="681.10" stroke="#fff" stroke-width="1.90" />
<line x1="276.96" y1="24.20" x2="276.96" y2="28.90" stroke="#fff" stroke-width="1.90" />
<line x1="276.96" y1="685.80" x2="276.96" y2="681.10" stroke="#fff" stroke-width="1.90" />
<line x1="323.32" y1="24.20" x2="323.32" y2="28.90" stroke="#fff" stroke-width="1.90" />
<line x1="323.32" y1="685.80" x2="323.32" y2="681.10" stroke="#fff" stroke-width="1.90" />
<line x1="369.68" y1="24.20" x2="369.68" y2="28.90" stroke="#fff" stroke-width="1.90" />
<line x1="369.68" y1="685.80" x2="369.68" y2="681.10" stroke="#fff" stroke-width="1.90" />
<line x1="416.04" y1="24.20" x2="416.04" y2="28.90" stroke="#fff" stroke-width="1.90" />
<line x1="416.04" y1="685.80" x2="416.04" y2="681.10" stroke="#fff" stroke-width="1.90" />
<line x1="508.76" y1="24.20" x2="508.76" y2="28.90" stroke="#fff" stroke-width="1.90" />
<line x1="508.76" y1="685.80" x2="508.76" y2="681.10" stroke="#fff" stroke-width="1.90" />
<line x1="555.12" y1="24.20" x2="555.12" y2="28.90" stroke="#fff" stroke-width="1.90" />
<line x1="555.12" y1="685.80" x2="555.12" y2="681.10" stroke="#fff" stroke-width="1.90" />
<line x1="601.48" y1="24.20" x2="601.48" y2="28.90" stroke="#fff" stroke-width="1.90" />
<line x1="601.48" y1="685.80" x2="601.48" y2="681.10" stroke="#fff" stroke-width="1.90" />
<line x1="647.84" y1="24.20" x2="647.84" y2="28.90" stroke="#fff" stroke-width="1.90" />
<line x1="647.84" y1="685.80" x2="647.84" y2="681.10" stroke="#fff" stroke-width="1.90" />
<line x1="740.56" y1="24.20" x2="740.56" y2="28.90" stroke="#fff" stroke-width="1.90" />
<line x1="740.56" y1="685.80" x2="740.56" y2="681.10" stroke="#fff" stroke-width="1.90" />
<line x1="86.40" y1="55.97" x2="96.00" y2="55.97" stroke="#fff" stroke-width="2.00" />
<line x1="748.70" y1="55.97" x2="739.10" y2="55.97" stroke="#fff" stroke-width="2.00" />
<line x1="86.40" y1="211.77" x2="96.00" y2="211.77" stroke="#fff" stroke-width="2.00" />
<line x1="748.70" y1="211.77" x2="739.10" y2="211.77" stroke="#fff" stroke-width="2.00" />
<line x1="86.40" y1="367.57" x2="96.00" y2="367.57" stroke="#fff" stroke-width="2.00" />
<line x1="748.70" y1="367.57" x2="739.10" y2="367.57" stroke="#fff" stroke-width="2.00" />
<line x1="86.40" y1="523.37" x2="96.00" y2="523.37" stroke="#fff" stroke-width="2.00" />
<line x1="748.70" y1="523.37" x2="739.10" y2="523.37" stroke="#fff" stroke-width="2.00" />
<line x1="86.40" y1="679.17" x2="96.00" y2="679.17" stroke="#fff" stroke-width="2.00" />
<line x1="748.70" y1="679.17" x2="739.10" y2="679.17" stroke="#fff" stroke-width="2.00" />
<line x1="86.40" y1="24.81" x2="91.10" y2="24.81" stroke="#fff" stroke-width="1.90" />
<line x1="748.70" y1="24.81" x2="744.00" y2="24.81" stroke="#fff" stroke-width="1.90" />
<line x1="86.40" y1="87.13" x2="91.10" y2="87.13" stroke="#fff" stroke-width="1.90" />
<line x1="748.70" y1="87.13" x2="744.00" y2="87.13" stroke="#fff" stroke-width="1.90" />
<line x1="86.40" y1="118.29" x2="91.10" y2="118.29" stroke="#fff" stroke-width="1.90" />
<line x1="748.70" y1="118.29" x2="744.00" y2="118.29" stroke="#fff" stroke-width="1.90" />
<line x1="86.40" y1="149.45" x2="91.10" y2="149.45" stroke="#fff" stroke-width="1.90" />
<line x1="748.70" y1="149.45" x2="744.00" y2="149.45" stroke="#fff" stroke-width="1.90" />
<line x1="86.40" y1="180.61" x2="91.10" y2="180.61" stroke="#fff" stroke-width="1.90" />
<line x1="748.70" y1="180.61" x2="744.00" y2="180.61" stroke="#fff" stroke-width="1.90" />
<line x1="86.40" y1="242.93" x2="91.10" y2="242.93" stroke="#fff" stroke-width="1.90" />
<line x1="748.70" y1="242.93" x2="744.00" y2="242.93" stroke="#fff" stroke-width="1.90" />
<line x1="86.40" y1="274.09" x2="91.10" y2="274.09" stroke="#fff" stroke-width="1.90" />
<line x1="748.70" y1="274.09" x2="744.00" y2="274.09" stroke="#fff" stroke-width="1.90" />
<line x1="86.40" y1="305.25" x2="91.10" y2="305.25" stroke="#fff" stroke-width="1.90" />
<line x1="748.70" y1="305.25" x2="744.00" y2="305.25" stroke="#fff" stroke-width="1.90" />
<line x1="86.40" y1="336.41" x2="91.10" y2="336.41" stroke="#fff" stroke-width="1.90" />
<line x1="748.70" y1="336.41" x2="744.00" y2="336.41" stroke="#fff" stroke-width="1.90" />
<line x1="86.40" y1="398.73" x2="91.10" y2="398.73" stroke="#fff" stroke-width="1.90" />
<line x1="748.70" y1="398.73" x2="744.00" y2="398.73" stroke="#fff" stroke-width="1.90" />
<line x1="86.40" y1="429.89" x2="91.10" y2="429.89" stroke="#fff" stroke-width="1.90" />
<line x1="748.70" y1="429.89" x2="744.00" y2="429.89" stroke="#fff" stroke-width="1.90" />
<line x1="86.40" y1="461.05" x2="91.10" y2="461.05" stroke="#fff" stroke-width="1.90" />
<line x1="748.70" y1="461.05" x2="744.00" y2="461.05" stroke="#fff" stroke-width="1.90" />
<line x1="86.40" y1="492.21" x2="91.10" y2="492.21" stroke="#fff" stroke-width="1.90" />
<line x1="748.70" y1="492.21" x2="744.00" y2="492.21" stroke="#fff" stroke-width="1.90" />
<line x1="86.40" y1="554.53" x2="91.10" y2="554.53" stroke="#fff" stroke-width="1.90" />
<line x1="748.70" y1="554.53" x2="744.00" y2="554.53" stroke="#fff" stroke-width="1.90" />
<line x1="86.40" y1="585.69" x2="91.10" y2="585.69" stroke="#fff" stroke-width="1.90" />
<line x1="748.70" y1="585.69" x2="744.00" y2="585.69" stroke="#fff" stroke-width="1.90" />
<line x1="86.40" y1="616.85" x2="91.10" y2="616.85" stroke="#fff" stroke-width="1.90" />
<line x1="748.70" y1="616.85" x2="744.00" y2="616.85" stroke="#fff" stroke-width="1.90" />
<line x1="86.40" y1="648.01" x2="91.10" y2="648.01" stroke="#fff" stroke-width="1.90" />
<line x1="748.70" y1="648.01" x2="744.00" y2="648.01" stroke="#fff" stroke-width="1.90" />
<rect x="86.40" y="24.20" width="662.30" height="661.60" fill="none" stroke="#000" stroke-width="0.90"/>
<text x="229.80" y="703.70" font-size="19.40" text-anchor="middle" fill="#000" ><tspan dy="0.00" font-size="19.40">19</tspan><tspan dy="-6.98" font-size="13.58">h</tspan><tspan dy="6.98" font-size="19.40">06</tspan><tspan dy="-6.98" font-size="13.58">m</tspan><tspan dy="6.98" font-size="19.40">02.50</tspan><tspan dy="-6.98" font-size="13.58">s</tspan></text>
<text x="461.60" y="703.70" font-size="19.40" text-anchor="middle" fill="#000" ><tspan dy="0.00" font-size="19.40">02.00</tspan><tspan dy="-6.98" font-size="13.58">s</tspan></text>
<text x="693.40" y="703.70" font-size="19.40" text-anchor="middle" fill="#000" ><tspan dy="0.00" font-size="19.40">01.50</tspan><tspan dy="-6.98" font-size="13.58">s</tspan></text>
<text x="83.40" y="61.57" font-size="19.40" text-anchor="end" fill="#000" >6°46'50"</text>
<text x="83.40" y="217.37" font-size="19.40" text-anchor="end" fill="#000" >45"</text>
<text x="83.40" y="373.17" font-size="19.40" text-anchor="end" fill="#000" >40"</text>
<text x="83.40" y="528.97" font-size="19.40" text-anchor="end" fill="#000" >35"</text>
<text x="83.40" y="684.77" font-size="19.40" text-anchor="end" fill="#000" >30"</text>
<text x="417.50" y="733.70" font-size="24.00" text-anchor="middle" fill="#000" >RA (J2000)</text>
<text x="417.50" y="17.90" font-size="24.00" text-anchor="middle" fill="#000" >IRAS 19035+0641</text>
<text transform="translate(29.1,354.5) rotate(-90)" font-size="24.00" text-anchor="middle" fill="#000">Dec (J2000)</text>
<rect x="789.60" y="24.20" width="33.50" height="661.60" fill="url(#vir)" stroke="#1a1a1a" stroke-width="0.7"/>
<line x1="823.10" y1="685.80" x2="826.70" y2="685.80" stroke="#000" stroke-width="0.80" />
<text x="829.40" y="692.30" font-size="17.60" text-anchor="start" fill="#000" >0</text>
<line x1="823.10" y1="591.29" x2="826.70" y2="591.29" stroke="#000" stroke-width="0.80" />
<text x="829.40" y="597.79" font-size="17.60" text-anchor="start" fill="#000" >20</text>
<line x1="823.10" y1="496.77" x2="826.70" y2="496.77" stroke="#000" stroke-width="0.80" />
<text x="829.40" y="503.27" font-size="17.60" text-anchor="start" fill="#000" >40</text>
<line x1="823.10" y1="402.26" x2="826.70" y2="402.26" stroke="#000" stroke-width="0.80" />
<text x="829.40" y="408.76" font-size="17.60" text-anchor="start" fill="#000" >60</text>
<line x1="823.10" y1="307.74" x2="826.70" y2="307.74" stroke="#000" stroke-width="0.80" />
<text x="829.40" y="314.24" font-size="17.60" text-anchor="start" fill="#000" >80</text>
<line x1="823.10" y1="213.23" x2="826.70" y2="213.23" stroke="#000" stroke-width="0.80" />
<text x="829.40" y="219.73" font-size="17.60" text-anchor="start" fill="#000" >100</text>
<line x1="823.10" y1="118.71" x2="826.70" y2="118.71" stroke="#000" stroke-width="0.80" />
<text x="829.40" y="125.21" font-size="17.60" text-anchor="start" fill="#000" >120</text>
<line x1="823.10" y1="24.20" x2="826.70" y2="24.20" stroke="#000" stroke-width="0.80" />
<text x="829.40" y="30.70" font-size="17.60" text-anchor="start" fill="#000" >140</text>
<text transform="translate(881.0,354.6) rotate(-90)" font-size="19.40" text-anchor="middle" fill="#000"><tspan font-style="italic">μ</tspan>Jy/beam</text>
<rect x="1018.00" y="23.60" width="662.70" height="662.20" fill="#440154"/>
<g clip-path="url(#c2)">
<g shape-rendering="crispEdges">
<rect x="1010.92" y="15.04" width="172.94" height="13.58" fill="#450457"/>
<rect x="1183.56" y="15.04" width="40.14" height="13.58" fill="#450559"/>
<rect x="1223.40" y="15.04" width="212.78" height="13.58" fill="#450457"/>
<rect x="1435.88" y="15.04" width="13.58" height="13.58" fill="#46085c"/>
<rect x="1449.16" y="15.04" width="13.58" height="13.58" fill="#471164"/>
<rect x="1462.44" y="15.04" width="13.58" height="13.58" fill="#481c6e"/>
<rect x="1475.72" y="15.04" width="13.58" height="13.58" fill="#481d6f"/>
<rect x="1489.00" y="15.04" width="13.58" height="13.58" fill="#481467"/>
<rect x="1502.28" y="15.04" width="13.58" height="13.58" fill="#460b5e"/>
<rect x="1515.56" y="15.04" width="26.86" height="13.58" fill="#46075a"/>
<rect x="1542.12" y="15.04" width="13.58" height="13.58" fill="#46085c"/>
<rect x="1555.40" y="15.04" width="13.58" height="13.58" fill="#460a5d"/>
<rect x="1568.68" y="15.04" width="13.58" height="13.58" fill="#460b5e"/>
<rect x="1581.96" y="15.04" width="40.14" height="13.58" fill="#470d60"/>
<rect x="1621.80" y="15.04" width="13.58" height="13.58" fill="#460b5e"/>
<rect x="1635.08" y="15.04" width="13.58" height="13.58" fill="#460a5d"/>
<rect x="1648.36" y="15.04" width="13.58" height="13.58" fill="#46085c"/>
<rect x="1661.64" y="15.04" width="13.58" height="13.58" fill="#46075a"/>
<rect x="1674.92" y="15.04" width="13.58" height="13.58" fill="#450559"/>
<rect x="1010.92" y="28.32" width="133.10" height="13.58" fill="#450457"/>
<rect x="1143.72" y="28.32" width="26.86" height="13.58" fill="#450559"/>
<rect x="1170.28" y="28.32" width="66.70" height="13.58" fill="#46075a"/>
<rect x="1236.68" y="28.32" width="13.58" height="13.58" fill="#450559"/>
<rect x="1249.96" y="28.32" width="186.22" height="13.58" fill="#450457"/>
<rect x="1435.88" y="28.32" width="13.58" height="13.58" fill="#46085c"/>
<rect x="1449.16" y="28.32" width="13.58" height="13.58" fill="#471164"/>
<rect x="1462.44" y="28.32" width="13.58" height="13.58" fill="#481b6d"/>
<rect x="1475.72" y="28.32" width="13.58" height="13.58" fill="#481c6e"/>
<rect x="1489.00" y="28.32" width="13.58" height="13.58" fill="#481467"/>
<rect x="1502.28" y="28.32" width="13.58" height="13.58" fill="#460b5e"/>
<rect x="1515.56" y="28.32" width="13.58" height="13.58" fill="#46085c"/>
<rect x="1528.84" y="28.32" width="13.58" height="13.58" fill="#460a5d"/>
<rect x="1542.12" y="28.32" width="13.58" height="13.58" fill="#470d60"/>
<rect x="1555.40" y="28.32" width="13.58" height="13.58" fill="#471063"/>
<rect x="1568.68" y="28.32" width="13.58" height="13.58" fill="#471365"/>
<rect x="1581.96" y="28.32" width="13.58" height="13.58" fill="#481668"/>
<rect x="1595.24" y="28.32" width="26.86" height="13.58" fill="#481769"/>
<rect x="1621.80" y="28.32" width="13.58" height="13.58" fill="#481467"/>
<rect x="1635.08" y="28.32" width="13.58" height="13.58" fill="#471164"/>
<rect x="1648.36" y="28.32" width="13.58" height="13.58" fill="#470e61"/>
<rect x="1661.64" y="28.32" width="13.58" height="13.58" fill="#460a5d"/>
<rect x="1674.92" y="28.32" width="13.58" height="13.58" fill="#46085c"/>
<rect x="1010.92" y="41.60" width="106.54" height="13.58" fill="#450457"/>
<rect x="1117.16" y="41.60" width="26.86" height="13.58" fill="#450559"/>
<rect x="1143.72" y="41.60" width="13.58" height="13.58" fill="#46075a"/>
<rect x="1157.00" y="41.60" width="13.58" height="13.58" fill="#46085c"/>
<rect x="1170.28" y="41.60" width="13.58" height="13.58" fill="#460a5d"/>
<rect x="1183.56" y="41.60" width="13.58" height="13.58" fill="#460b5e"/>
<rect x="1196.84" y="41.60" width="13.58" height="13.58" fill="#470d60"/>
<rect x="1210.12" y="41.60" width="13.58" height="13.58" fill="#460b5e"/>
<rect x="1223.40" y="41.60" width="13.58" height="13.58" fill="#460a5d"/>
<rect x="1236.68" y="41.60" width="13.58" height="13.58" fill="#46075a"/>
<rect x="1249.96" y="41.60" width="13.58" height="13.58" fill="#450559"/>
<rect x="1263.24" y="41.60" width="172.94" height="13.58" fill="#450457"/>
<rect x="1435.88" y="41.60" width="13.58" height="13.58" fill="#450559"/>
<rect x="1449.16" y="41.60" width="13.58" height="13.58" fill="#460a5d"/>
<rect x="1462.44" y="41.60" width="26.86" height="13.58" fill="#470e61"/>
<rect x="1489.00" y="41.60" width="13.58" height="13.58" fill="#460b5e"/>
<rect x="1502.28" y="41.60" width="13.58" height="13.58" fill="#46085c"/>
<rect x="1515.56" y="41.60" width="13.58" height="13.58" fill="#460a5d"/>
<rect x="1528.84" y="41.60" width="13.58" height="13.58" fill="#470d60"/>
<rect x="1542.12" y="41.60" width="13.58" height="13.58" fill="#471164"/>
<rect x="1555.40" y="41.60" width="13.58" height="13.58" fill="#481769"/>
<rect x="1568.68" y="41.60" width="13.58" height="13.58" fill="#481c6e"/>
<rect x="1581.96" y="41.60" width="13.58" height="13.58" fill="#482071"/>
<rect x="1595.24" y="41.60" width="26.86" height="13.58" fill="#482173"/>
<rect x="1621.80" y="41.60" width="13.58" height="13.58" fill="#481d6f"/>
<rect x="1635.08" y="41.60" width="13.58" height="13.58" fill="#481a6c"/>
<rect x="1648.36" y="41.60" width="13.58" height="13.58" fill="#481467"/>
<rect x="1661.64" y="41.60" width="13.58" height="13.58" fill="#470e61"/>
<rect x="1674.92" y="41.60" width="13.58" height="13.58" fill="#460a5d"/>
<rect x="1010.92" y="54.88" width="79.98" height="13.58" fill="#450457"/>
<rect x="1090.60" y="54.88" width="26.86" height="13.58" fill="#450559"/>
<rect x="1117.16" y="54.88" width="13.58" height="13.58" fill="#46075a"/>
<rect x="1130.44" y="54.88" width="13.58" height="13.58" fill="#46085c"/>
<rect x="1143.72" y="54.88" width="13.58" height="13.58" fill="#460b5e"/>
<rect x="1157.00" y="54.88" width="13.58" height="13.58" fill="#470d60"/>
<rect x="1170.28" y="54.88" width="13.58" height="13.58" fill="#471164"/>
<rect x="1183.56" y="54.88" width="13.58" height="13.58" fill="#481668"/>
<rect x="1196.84" y="54.88" width="13.58" height="13.58" fill="#481769"/>
<rect x="1210.12" y="54.88" width="13.58" height="13.58" fill="#481668"/>
<rect x="1223.40" y="54.88" width="13.58" height="13.58" fill="#471164"/>
<rect x="1236.68" y="54.88" width="13.58" height="13.58" fill="#460b5e"/>
<rect x="1249.96" y="54.88" width="13.58" height="13.58" fill="#46085c"/>
<rect x="1263.24" y="54.88" width="13.58" height="13.58" fill="#46075a"/>
<rect x="1276.52" y="54.88" width="40.14" height="13.58" fill="#450559"/>
<rect x="1316.36" y="54.88" width="133.10" height="13.58" fill="#450457"/>
<rect x="1449.16" y="54.88" width="26.86" height="13.58" fill="#450559"/>
<rect x="1475.72" y="54.88" width="26.86" height="13.58" fill="#46075a"/>
<rect x="1502.28" y="54.88" width="13.58" height="13.58" fill="#46085c"/>
<rect x="1515.56" y="54.88" width="13.58" height="13.58" fill="#460b5e"/>
<rect x="1528.84" y="54.88" width="13.58" height="13.58" fill="#471063"/>
<rect x="1542.12" y="54.88" width="13.58" height="13.58" fill="#481769"/>
<rect x="1555.40" y="54.88" width="13.58" height="13.58" fill="#481c6e"/>
<rect x="1568.68" y="54.88" width="13.58" height="13.58" fill="#482374"/>
<rect x="1581.96" y="54.88" width="13.58" height="13.58" fill="#482878"/>
<rect x="1595.24" y="54.88" width="13.58" height="13.58" fill="#482979"/>
<rect x="1608.52" y="54.88" width="13.58" height="13.58" fill="#482878"/>
<rect x="1621.80" y="54.88" width="13.58" height="13.58" fill="#482475"/>
<rect x="1635.08" y="54.88" width="13.58" height="13.58" fill="#481f70"/>
<rect x="1648.36" y="54.88" width="13.58" height="13.58" fill="#48186a"/>
<rect x="1661.64" y="54.88" width="13.58" height="13.58" fill="#471164"/>
<rect x="1674.92" y="54.88" width="13.58" height="13.58" fill="#470d60"/>
<rect x="1010.92" y="68.16" width="79.98" height="13.58" fill="#450457"/>
<rect x="1090.60" y="68.16" width="13.58" height="13.58" fill="#450559"/>
<rect x="1103.88" y="68.16" width="13.58" height="13.58" fill="#46085c"/>
<rect x="1117.16" y="68.16" width="13.58" height="13.58" fill="#460b5e"/>
<rect x="1130.44" y="68.16" width="13.58" height="13.58" fill="#470e61"/>
<rect x="1143.72" y="68.16" width="13.58" height="13.58" fill="#471164"/>
<rect x="1157.00" y="68.16" width="13.58" height="13.58" fill="#481769"/>
<rect x="1170.28" y="68.16" width="13.58" height="13.58" fill="#481d6f"/>
<rect x="1183.56" y="68.16" width="13.58" height="13.58" fill="#482374"/>
<rect x="1196.84" y="68.16" width="13.58" height="13.58" fill="#482677"/>
<rect x="1210.12" y="68.16" width="13.58" height="13.58" fill="#482374"/>
<rect x="1223.40" y="68.16" width="13.58" height="13.58" fill="#481b6d"/>
<rect x="1236.68" y="68.16" width="13.58" height="13.58" fill="#471365"/>
<rect x="1249.96" y="68.16" width="13.58" height="13.58" fill="#470d60"/>
<rect x="1263.24" y="68.16" width="26.86" height="13.58" fill="#460a5d"/>
<rect x="1289.80" y="68.16" width="13.58" height="13.58" fill="#46085c"/>
<rect x="1303.08" y="68.16" width="13.58" height="13.58" fill="#46075a"/>
<rect x="1316.36" y="68.16" width="13.58" height="13.58" fill="#450559"/>
<rect x="1329.64" y="68.16" width="146.38" height="13.58" fill="#450457"/>
<rect x="1475.72" y="68.16" width="13.58" height="13.58" fill="#450559"/>
<rect x="1489.00" y="68.16" width="13.58" height="13.58" fill="#46075a"/>
<rect x="1502.28" y="68.16" width="13.58" height="13.58" fill="#46085c"/>
<rect x="1515.56" y="68.16" width="13.58" height="13.58" fill="#470d60"/>
<rect x="1528.84" y="68.16" width="13.58" height="13.58" fill="#471365"/>
<rect x="1542.12" y="68.16" width="13.58" height="13.58" fill="#481a6c"/>
<rect x="1555.40" y="68.16" width="13.58" height="13.58" fill="#482071"/>
<rect x="1568.68" y="68.16" width="13.58" height="13.58" fill="#482576"/>
<rect x="1581.96" y="68.16" width="13.58" height="13.58" fill="#482979"/>
<rect x="1595.24" y="68.16" width="13.58" height="13.58" fill="#472a7a"/>
<rect x="1608.52" y="68.16" width="13.58" height="13.58" fill="#482979"/>
<rect x="1621.80" y="68.16" width="13.58" height="13.58" fill="#482576"/>
<rect x="1635.08" y="68.16" width="13.58" height="13.58" fill="#481f70"/>
<rect x="1648.36" y="68.16" width="13.58" height="13.58" fill="#48186a"/>
<rect x="1661.64" y="68.16" width="13.58" height="13.58" fill="#471164"/>
<rect x="1674.92" y="68.16" width="13.58" height="13.58" fill="#460b5e"/>
<rect x="1010.92" y="81.44" width="66.70" height="13.58" fill="#450457"/>
<rect x="1077.32" y="81.44" width="13.58" height="13.58" fill="#450559"/>
<rect x="1090.60" y="81.44" width="13.58" height="13.58" fill="#46085c"/>
<rect x="1103.88" y="81.44" width="13.58" height="13.58" fill="#460b5e"/>
<rect x="1117.16" y="81.44" width="13.58" height="13.58" fill="#471063"/>
<rect x="1130.44" y="81.44" width="13.58" height="13.58" fill="#481668"/>
<rect x="1143.72" y="81.44" width="13.58" height="13.58" fill="#481c6e"/>
<rect x="1157.00" y="81.44" width="13.58" height="13.58" fill="#482475"/>
<rect x="1170.28" y="81.44" width="13.58" height="13.58" fill="#472e7c"/>
<rect x="1183.56" y="81.44" width="13.58" height="13.58" fill="#453882"/>
<rect x="1196.84" y="81.44" width="13.58" height="13.58" fill="#443b84"/>
<rect x="1210.12" y="81.44" width="13.58" height="13.58" fill="#453781"/>
<rect x="1223.40" y="81.44" width="13.58" height="13.58" fill="#472a7a"/>
<rect x="1236.68" y="81.44" width="13.58" height="13.58" fill="#481d6f"/>
<rect x="1249.96" y="81.44" width="13.58" height="13.58" fill="#481467"/>
<rect x="1263.24" y="81.44" width="26.86" height="13.58" fill="#471164"/>
<rect x="1289.80" y="81.44" width="13.58" height="13.58" fill="#471063"/>
<rect x="1303.08" y="81.44" width="13.58" height="13.58" fill="#470d60"/>
<rect x="1316.36" y="81.44" width="13.58" height="13.58" fill="#46085c"/>
<rect x="1329.64" y="81.44" width="13.58" height="13.58" fill="#450559"/>
<rect x="1342.92" y="81.44" width="133.10" height="13.58" fill="#450457"/>
<rect x="1475.72" y="81.44" width="13.58" height="13.58" fill="#450559"/>
<rect x="1489.00" y="81.44" width="13.58" height="13.58" fill="#46075a"/>
<rect x="1502.28" y="81.44" width="13.58" height="13.58" fill="#460a5d"/>
<rect x="1515.56" y="81.44" width="13.58" height="13.58" fill="#471063"/>
<rect x="1528.84" y="81.44" width="13.58" height="13.58" fill="#481668"/>
<rect x="1542.12" y="81.44" width="13.58" height="13.58" fill="#481c6e"/>
<rect x="1555.40" y="81.44" width="13.58" height="13.58" fill="#482173"/>
<rect x="1568.68" y="81.44" width="13.58" height="13.58" fill="#482576"/>
<rect x="1581.96" y="81.44" width="13.58" height="13.58" fill="#482677"/>
<rect x="1595.24" y="81.44" width="13.58" height="13.58" fill="#482576"/>
<rect x="1608.52" y="81.44" width="13.58" height="13.58" fill="#482374"/>
<rect x="1621.80" y="81.44" width="13.58" height="13.58" fill="#481f70"/>
<rect x="1635.08" y="81.44" width="13.58" height="13.58" fill="#481a6c"/>
<rect x="1648.36" y="81.44" width="13.58" height="13.58" fill="#481467"/>
<rect x="1661.64" y="81.44" width="13.58" height="13.58" fill="#470e61"/>
<rect x="1674.92" y="81.44" width="13.58" height="13.58" fill="#460a5d"/>
<rect x="1010.92" y="94.72" width="66.70" height="13.58" fill="#450457"/>
<rect x="1077.32" y="94.72" width="13.58" height="13.58" fill="#46075a"/>
<rect x="1090.60" y="94.72" width="13.58" height="13.58" fill="#460a5d"/>
<rect x="1103.88" y="94.72" width="13.58" height="13.58" fill="#471063"/>
<rect x="1117.16" y="94.72" width="13.58" height="13.58" fill="#48186a"/>
<rect x="1130.44" y="94.72" width="13.58" height="13.58" fill="#482071"/>
<rect x="1143.72" y="94.72" width="13.58" height="13.58" fill="#482979"/>
<rect x="1157.00" y="94.72" width="13.58" height="13.58" fill="#463480"/>
<rect x="1170.28" y="94.72" width="13.58" height="13.58" fill="#414287"/>
<rect x="1183.56" y="94.72" width="13.58" height="13.58" fill="#3c508b"/>
<rect x="1196.84" y="94.72" width="13.58" height="13.58" fill="#39558c"/>
<rect x="1210.12" y="94.72" width="13.58" height="13.58" fill="#3c4f8a"/>
<rect x="1223.40" y="94.72" width="13.58" height="13.58" fill="#433e85"/>
<rect x="1236.68" y="94.72" width="13.58" height="13.58" fill="#472a7a"/>
<rect x="1249.96" y="94.72" width="13.58" height="13.58" fill="#481d6f"/>
<rect x="1263.24" y="94.72" width="13.58" height="13.58" fill="#481b6d"/>
<rect x="1276.52" y="94.72" width="13.58" height="13.58" fill="#481c6e"/>
<rect x="1289.80" y="94.72" width="13.58" height="13.58" fill="#481b6d"/>
<rect x="1303.08" y="94.72" width="13.58" height="13.58" fill="#481668"/>
<rect x="1316.36" y="94.72" width="13.58" height="13.58" fill="#470e61"/>
<rect x="1329.64" y="94.72" width="13.58" height="13.58" fill="#46085c"/>
<rect x="1342.92" y="94.72" width="13.58" height="13.58" fill="#450559"/>
<rect x="1356.20" y="94.72" width="119.82" height="13.58" fill="#450457"/>
<rect x="1475.72" y="94.72" width="13.58" height="13.58" fill="#450559"/>
<rect x="1489.00" y="94.72" width="13.58" height="13.58" fill="#46085c"/>
<rect x="1502.28" y="94.72" width="13.58" height="13.58" fill="#470d60"/>
<rect x="1515.56" y="94.72" width="13.58" height="13.58" fill="#471164"/>
<rect x="1528.84" y="94.72" width="13.58" height="13.58" fill="#48186a"/>
<rect x="1542.12" y="94.72" width="13.58" height="13.58" fill="#481d6f"/>
<rect x="1555.40" y="94.72" width="40.14" height="13.58" fill="#482173"/>
<rect x="1595.24" y="94.72" width="13.58" height="13.58" fill="#481f70"/>
<rect x="1608.52" y="94.72" width="13.58" height="13.58" fill="#481b6d"/>
<rect x="1621.80" y="94.72" width="13.58" height="13.58" fill="#481769"/>
<rect x="1635.08" y="94.72" width="13.58" height="13.58" fill="#471365"/>
<rect x="1648.36" y="94.72" width="13.58" height="13.58" fill="#470e61"/>
<rect x="1661.64" y="94.72" width="13.58" height="13.58" fill="#460a5d"/>
<rect x="1674.92" y="94.72" width="13.58" height="13.58" fill="#46085c"/>
<rect x="1010.92" y="108.00" width="53.42" height="13.58" fill="#450457"/>
<rect x="1064.04" y="108.00" width="13.58" height="13.58" fill="#450559"/>
<rect x="1077.32" y="108.00" width="13.58" height="13.58" fill="#46075a"/>
<rect x="1090.60" y="108.00" width="13.58" height="13.58" fill="#470d60"/>
<rect x="1103.88" y="108.00" width="13.58" height="13.58" fill="#481467"/>
<rect x="1117.16" y="108.00" width="13.58" height="13.58" fill="#481f70"/>
<rect x="1130.44" y="108.00" width="13.58" height="13.58" fill="#482979"/>
<rect x="1143.72" y="108.00" width="13.58" height="13.58" fill="#453581"/>
<rect x="1157.00" y="108.00" width="13.58" height="13.58" fill="#404588"/>
<rect x="1170.28" y="108.00" width="13.58" height="13.58" fill="#38588c"/>
<rect x="1183.56" y="108.00" width="13.58" height="13.58" fill="#31688e"/>
<rect x="1196.84" y="108.00" width="13.58" height="13.58" fill="#2e6f8e"/>
<rect x="1210.12" y="108.00" width="13.58" height="13.58" fill="#31678e"/>
<rect x="1223.40" y="108.00" width="13.58" height="13.58" fill="#3b518b"/>
<rect x="1236.68" y="108.00" width="13.58" height="13.58" fill="#443983"/>
<rect x="1249.96" y="108.00" width="13.58" height="13.58" fill="#472a7a"/>
<rect x="1263.24" y="108.00" width="13.58" height="13.58" fill="#482878"/>
<rect x="1276.52" y="108.00" width="13.58" height="13.58" fill="#472c7a"/>
<rect x="1289.80" y="108.00" width="13.58" height="13.58" fill="#482979"/>
<rect x="1303.08" y="108.00" width="13.58" height="13.58" fill="#482071"/>
<rect x="1316.36" y="108.00" width="13.58" height="13.58" fill="#481467"/>
<rect x="1329.64" y="108.00" width="13.58" height="13.58" fill="#460b5e"/>
<rect x="1342.92" y="108.00" width="13.58" height="13.58" fill="#450559"/>
<rect x="1356.20" y="108.00" width="106.54" height="13.58" fill="#450457"/>
<rect x="1462.44" y="108.00" width="13.58" height="13.58" fill="#450559"/>
<rect x="1475.72" y="108.00" width="13.58" height="13.58" fill="#46075a"/>
<rect x="1489.00" y="108.00" width="13.58" height="13.58" fill="#460a5d"/>
<rect x="1502.28" y="108.00" width="13.58" height="13.58" fill="#471063"/>
<rect x="1515.56" y="108.00" width="13.58" height="13.58" fill="#481467"/>
<rect x="1528.84" y="108.00" width="13.58" height="13.58" fill="#481a6c"/>
<rect x="1542.12" y="108.00" width="13.58" height="13.58" fill="#481c6e"/>
<rect x="1555.40" y="108.00" width="26.86" height="13.58" fill="#481d6f"/>
<rect x="1581.96" y="108.00" width="13.58" height="13.58" fill="#481c6e"/>
<rect x="1595.24" y="108.00" width="13.58" height="13.58" fill="#48186a"/>
<rect x="1608.52" y="108.00" width="13.58" height="13.58" fill="#481668"/>
<rect x="1621.80" y="108.00" width="13.58" height="13.58" fill="#471164"/>
<rect x="1635.08" y="108.00" width="13.58" height="13.58" fill="#470d60"/>
<rect x="1648.36" y="108.00" width="13.58" height="13.58" fill="#460a5d"/>
<rect x="1661.64" y="108.00" width="13.58" height="13.58" fill="#46075a"/>
<rect x="1674.92" y="108.00" width="13.58" height="13.58" fill="#450559"/>
<rect x="1010.92" y="121.28" width="53.42" height="13.58" fill="#450457"/>
<rect x="1064.04" y="121.28" width="13.58" height="13.58" fill="#450559"/>
<rect x="1077.32" y="121.28" width="13.58" height="13.58" fill="#46085c"/>
<rect x="1090.60" y="121.28" width="13.58" height="13.58" fill="#470e61"/>
<rect x="1103.88" y="121.28" width="13.58" height="13.58" fill="#48186a"/>
<rect x="1117.16" y="121.28" width="13.58" height="13.58" fill="#482475"/>
<rect x="1130.44" y="121.28" width="13.58" height="13.58" fill="#46307e"/>
<rect x="1143.72" y="121.28" width="13.58" height="13.58" fill="#423f85"/>
<rect x="1157.00" y="121.28" width="13.58" height="13.58" fill="#3b528b"/>
<rect x="1170.28" y="121.28" width="13.58" height="13.58" fill="#31688e"/>
<rect x="1183.56" y="121.28" width="13.58" height="13.58" fill="#287c8e"/>
<rect x="1196.84" y="121.28" width="13.58" height="13.58" fill="#25858e"/>
<rect x="1210.12" y="121.28" width="13.58" height="13.58" fill="#287c8e"/>
<rect x="1223.40" y="121.28" width="13.58" height="13.58" fill="#32648e"/>
<rect x="1236.68" y="121.28" width="13.58" height="13.58" fill="#3f4788"/>
<rect x="1249.96" y="121.28" width="13.58" height="13.58" fill="#453781"/>
<rect x="1263.24" y="121.28" width="13.58" height="13.58" fill="#453581"/>
<rect x="1276.52" y="121.28" width="13.58" height="13.58" fill="#443a83"/>
<rect x="1289.80" y="121.28" width="13.58" height="13.58" fill="#453882"/>
<rect x="1303.08" y="121.28" width="13.58" height="13.58" fill="#472c7a"/>
<rect x="1316.36" y="121.28" width="13.58" height="13.58" fill="#481b6d"/>
<rect x="1329.64" y="121.28" width="13.58" height="13.58" fill="#470e61"/>
<rect x="1342.92" y="121.28" width="13.58" height="13.58" fill="#46075a"/>
<rect x="1356.20" y="121.28" width="106.54" height="13.58" fill="#450457"/>
<rect x="1462.44" y="121.28" width="13.58" height="13.58" fill="#450559"/>
<rect x="1475.72" y="121.28" width="13.58" height="13.58" fill="#460a5d"/>
<rect x="1489.00" y="121.28" width="13.58" height="13.58" fill="#470e61"/>
<rect x="1502.28" y="121.28" width="13.58" height="13.58" fill="#471365"/>
<rect x="1515.56" y="121.28" width="13.58" height="13.58" fill="#481769"/>
<rect x="1528.84" y="121.28" width="53.42" height="13.58" fill="#481a6c"/>
<rect x="1581.96" y="121.28" width="13.58" height="13.58" fill="#48186a"/>
<rect x="1595.24" y="121.28" width="13.58" height="13.58" fill="#481769"/>
<rect x="1608.52" y="121.28" width="13.58" height="13.58" fill="#481467"/>
<rect x="1621.80" y="121.28" width="13.58" height="13.58" fill="#471063"/>
<rect x="1635.08" y="121.28" width="13.58" height="13.58" fill="#470d60"/>
<rect x="1648.36" y="121.28" width="13.58" height="13.58" fill="#46085c"/>
<rect x="1661.64" y="121.28" width="13.58" height="13.58" fill="#46075a"/>
<rect x="1674.92" y="121.28" width="13.58" height="13.58" fill="#450559"/>
<rect x="1010.92" y="134.56" width="53.42" height="13.58" fill="#450457"/>
<rect x="1064.04" y="134.56" width="13.58" height="13.58" fill="#450559"/>
<rect x="1077.32" y="134.56" width="13.58" height="13.58" fill="#46085c"/>
<rect x="1090.60" y="134.56" width="13.58" height="13.58" fill="#471063"/>
<rect x="1103.88" y="134.56" width="13.58" height="13.58" fill="#481a6c"/>
<rect x="1117.16" y="134.56" width="13.58" height="13.58" fill="#482576"/>
<rect x="1130.44" y="134.56" width="13.58" height="13.58" fill="#463480"/>
<rect x="1143.72" y="134.56" width="13.58" height="13.58" fill="#414487"/>
<rect x="1157.00" y="134.56" width="13.58" height="13.58" fill="#38598c"/>
<rect x="1170.28" y="134.56" width="13.58" height="13.58" fill="#2c718e"/>
<rect x="1183.56" y="134.56" width="13.58" height="13.58" fill="#23898e"/>
<rect x="1196.84" y="134.56" width="13.58" height="13.58" fill="#1f958b"/>
<rect x="1210.12" y="134.56" width="13.58" height="13.58" fill="#228c8d"/>
<rect x="1223.40" y="134.56" width="13.58" height="13.58" fill="#2c718e"/>
<rect x="1236.68" y="134.56" width="13.58" height="13.58" fill="#3a538b"/>
<rect x="1249.96" y="134.56" width="13.58" height="13.58" fill="#424186"/>
<rect x="1263.24" y="134.56" width="13.58" height="13.58" fill="#424086"/>
<rect x="1276.52" y="134.56" width="13.58" height="13.58" fill="#404688"/>
<rect x="1289.80" y="134.56" width="13.58" height="13.58" fill="#414287"/>
<rect x="1303.08" y="134.56" width="13.58" height="13.58" fill="#463480"/>
<rect x="1316.36" y="134.56" width="13.58" height="13.58" fill="#482071"/>
<rect x="1329.64" y="134.56" width="13.58" height="13.58" fill="#471063"/>
<rect x="1342.92" y="134.56" width="13.58" height="13.58" fill="#46085c"/>
<rect x="1356.20" y="134.56" width="93.26" height="13.58" fill="#450457"/>
<rect x="1449.16" y="134.56" width="13.58" height="13.58" fill="#450559"/>
<rect x="1462.44" y="134.56" width="13.58" height="13.58" fill="#46075a"/>
<rect x="1475.72" y="134.56" width="13.58" height="13.58" fill="#470d60"/>
<rect x="1489.00" y="134.56" width="13.58" height="13.58" fill="#471365"/>
<rect x="1502.28" y="134.56" width="13.58" height="13.58" fill="#48186a"/>
<rect x="1515.56" y="134.56" width="26.86" height="13.58" fill="#481b6d"/>
<rect x="1542.12" y="134.56" width="13.58" height="13.58" fill="#48186a"/>
<rect x="1555.40" y="134.56" width="26.86" height="13.58" fill="#481769"/>
<rect x="1581.96" y="134.56" width="13.58" height="13.58" fill="#48186a"/>
<rect x="1595.24" y="134.56" width="13.58" height="13.58" fill="#481a6c"/>
<rect x="1608.52" y="134.56" width="13.58" height="13.58" fill="#48186a"/>
<rect x="1621.80" y="134.56" width="13.58" height="13.58" fill="#481467"/>
<rect x="1635.08" y="134.56" width="13.58" height="13.58" fill="#470e61"/>
<rect x="1648.36" y="134.56" width="13.58" height="13.58" fill="#460a5d"/>
<rect x="1661.64" y="134.56" width="13.58" height="13.58" fill="#46075a"/>
<rect x="1674.92" y="134.56" width="13.58" height="13.58" fill="#450559"/>
<rect x="1010.92" y="147.84" width="53.42" height="13.58" fill="#450457"/>
<rect x="1064.04" y="147.84" width="13.58" height="13.58" fill="#450559"/>
<rect x="1077.32" y="147.84" width="13.58" height="13.58" fill="#46085c"/>
<rect x="1090.60" y="147.84" width="13.58" height="13.58" fill="#470e61"/>
<rect x="1103.88" y="147.84" width="13.58" height="13.58" fill="#48186a"/>
<rect x="1117.16" y="147.84" width="13.58" height="13.58" fill="#482475"/>
<rect x="1130.44" y="147.84" width="13.58" height="13.58" fill="#46327e"/>
<rect x="1143.72" y="147.84" width="13.58" height="13.58" fill="#424186"/>
<rect x="1157.00" y="147.84" width="13.58" height="13.58" fill="#38588c"/>
<rect x="1170.28" y="147.84" width="13.58" height="13.58" fill="#2c728e"/>
<rect x="1183.56" y="147.84" width="13.58" height="13.58" fill="#228d8d"/>
<rect x="1196.84" y="147.84" width="13.58" height="13.58" fill="#1e9c89"/>
<rect x="1210.12" y="147.84" width="13.58" height="13.58" fill="#1f958b"/>
<rect x="1223.40" y="147.84" width="13.58" height="13.58" fill="#297b8e"/>
<rect x="1236.68" y="147.84" width="13.58" height="13.58" fill="#365d8d"/>
<rect x="1249.96" y="147.84" width="13.58" height="13.58" fill="#3f4889"/>
<rect x="1263.24" y="147.84" width="13.58" height="13.58" fill="#404588"/>
<rect x="1276.52" y="147.84" width="13.58" height="13.58" fill="#3f4889"/>
<rect x="1289.80" y="147.84" width="13.58" height="13.58" fill="#404588"/>
<rect x="1303.08" y="147.84" width="13.58" height="13.58" fill="#453581"/>
<rect x="1316.36" y="147.84" width="13.58" height="13.58" fill="#482173"/>
<rect x="1329.64" y="147.84" width="13.58" height="13.58" fill="#471164"/>
<rect x="1342.92" y="147.84" width="13.58" height="13.58" fill="#46085c"/>
<rect x="1356.20" y="147.84" width="93.26" height="13.58" fill="#450457"/>
<rect x="1449.16" y="147.84" width="13.58" height="13.58" fill="#450559"/>
<rect x="1462.44" y="147.84" width="13.58" height="13.58" fill="#460a5d"/>
<rect x="1475.72" y="147.84" width="13.58" height="13.58" fill="#471063"/>
<rect x="1489.00" y="147.84" width="13.58" height="13.58" fill="#48186a"/>
<rect x="1502.28" y="147.84" width="13.58" height="13.58" fill="#481f70"/>
<rect x="1515.56" y="147.84" width="13.58" height="13.58" fill="#482173"/>
<rect x="1528.84" y="147.84" width="13.58" height="13.58" fill="#481f70"/>
<rect x="1542.12" y="147.84" width="13.58" height="13.58" fill="#481b6d"/>
<rect x="1555.40" y="147.84" width="13.58" height="13.58" fill="#48186a"/>
<rect x="1568.68" y="147.84" width="13.58" height="13.58" fill="#481a6c"/>
<rect x="1581.96" y="147.84" width="13.58" height="13.58" fill="#481d6f"/>
<rect x="1595.24" y="147.84" width="13.58" height="13.58" fill="#482071"/>
<rect x="1608.52" y="147.84" width="13.58" height="13.58" fill="#481f70"/>
<rect x="1621.80" y="147.84" width="13.58" height="13.58" fill="#481b6d"/>
<rect x="1635.08" y="147.84" width="13.58" height="13.58" fill="#481467"/>
<rect x="1648.36" y="147.84" width="13.58" height="13.58" fill="#470d60"/>
<rect x="1661.64" y="147.84" width="13.58" height="13.58" fill="#46085c"/>
<rect x="1674.92" y="147.84" width="13.58" height="13.58" fill="#450559"/>
<rect x="1010.92" y="161.12" width="40.14" height="13.58" fill="#450457"/>
<rect x="1050.76" y="161.12" width="26.86" height="13.58" fill="#450559"/>
<rect x="1077.32" y="161.12" width="13.58" height="13.58" fill="#46085c"/>
<rect x="1090.60" y="161.12" width="13.58" height="13.58" fill="#470d60"/>
<rect x="1103.88" y="161.12" width="13.58" height="13.58" fill="#481668"/>
<rect x="1117.16" y="161.12" width="13.58" height="13.58" fill="#481f70"/>
<rect x="1130.44" y="161.12" width="13.58" height="13.58" fill="#472a7a"/>
<rect x="1143.72" y="161.12" width="13.58" height="13.58" fill="#443983"/>
<rect x="1157.00" y="161.12" width="13.58" height="13.58" fill="#3c4f8a"/>
<rect x="1170.28" y="161.12" width="13.58" height="13.58" fill="#2f6c8e"/>
<rect x="1183.56" y="161.12" width="13.58" height="13.58" fill="#23888e"/>
<rect x="1196.84" y="161.12" width="13.58" height="13.58" fill="#1e9b8a"/>
<rect x="1210.12" y="161.12" width="13.58" height="13.58" fill="#1f988b"/>
<rect x="1223.40" y="161.12" width="13.58" height="13.58" fill="#26828e"/>
<rect x="1236.68" y="161.12" width="13.58" height="13.58" fill="#32658e"/>
<rect x="1249.96" y="161.12" width="13.58" height="13.58" fill="#3c4f8a"/>
<rect x="1263.24" y="161.12" width="13.58" height="13.58" fill="#404688"/>
<rect x="1276.52" y="161.12" width="13.58" height="13.58" fill="#404588"/>
<rect x="1289.80" y="161.12" width="13.58" height="13.58" fill="#423f85"/>
<rect x="1303.08" y="161.12" width="13.58" height="13.58" fill="#46307e"/>
<rect x="1316.36" y="161.12" width="13.58" height="13.58" fill="#481d6f"/>
<rect x="1329.64" y="161.12" width="13.58" height="13.58" fill="#471063"/>
<rect x="1342.92" y="161.12" width="13.58" height="13.58" fill="#46075a"/>
<rect x="1356.20" y="161.12" width="93.26" height="13.58" fill="#450457"/>
<rect x="1449.16" y="161.12" width="13.58" height="13.58" fill="#46075a"/>
<rect x="1462.44" y="161.12" width="13.58" height="13.58" fill="#460b5e"/>
<rect x="1475.72" y="161.12" width="13.58" height="13.58" fill="#471365"/>
<rect x="1489.00" y="161.12" width="13.58" height="13.58" fill="#481c6e"/>
<rect x="1502.28" y="161.12" width="13.58" height="13.58" fill="#482475"/>
<rect x="1515.56" y="161.12" width="13.58" height="13.58" fill="#482878"/>
<rect x="1528.84" y="161.12" width="13.58" height="13.58" fill="#482475"/>
<rect x="1542.12" y="161.12" width="13.58" height="13.58" fill="#481f70"/>
<rect x="1555.40" y="161.12" width="13.58" height="13.58" fill="#481c6e"/>
<rect x="1568.68" y="161.12" width="13.58" height="13.58" fill="#481d6f"/>
<rect x="1581.96" y="161.12" width="13.58" height="13.58" fill="#482374"/>
<rect x="1595.24" y="161.12" width="26.86" height="13.58" fill="#482677"/>
<rect x="1621.80" y="161.12" width="13.58" height="13.58" fill="#482071"/>
<rect x="1635.08" y="161.12" width="13.58" height="13.58" fill="#48186a"/>
<rect x="1648.36" y="161.12" width="13.58" height="13.58" fill="#471063"/>
<rect x="1661.64" y="161.12" width="13.58" height="13.58" fill="#460a5d"/>
<rect x="1674.92" y="161.12" width="13.58" height="13.58" fill="#450559"/>
<rect x="1010.92" y="174.40" width="26.86" height="13.58" fill="#450457"/>
<rect x="1037.48" y="174.40" width="13.58" height="13.58" fill="#450559"/>
<rect x="1050.76" y="174.40" width="26.86" height="13.58" fill="#46075a"/>
<rect x="1077.32" y="174.40" width="13.58" height="13.58" fill="#46085c"/>
<rect x="1090.60" y="174.40" width="13.58" height="13.58" fill="#470d60"/>
<rect x="1103.88" y="174.40" width="13.58" height="13.58" fill="#471164"/>
<rect x="1117.16" y="174.40" width="13.58" height="13.58" fill="#48186a"/>
<rect x="1130.44" y="174.40" width="13.58" height="13.58" fill="#482173"/>
<rect x="1143.72" y="174.40" width="13.58" height="13.58" fill="#472e7c"/>
<rect x="1157.00" y="174.40" width="13.58" height="13.58" fill="#414287"/>
<rect x="1170.28" y="174.40" width="13.58" height="13.58" fill="#355f8d"/>
<rect x="1183.56" y="174.40" width="13.58" height="13.58" fill="#287d8e"/>
<rect x="1196.84" y="174.40" width="13.58" height="13.58" fill="#20938c"/>
<rect x="1210.12" y="174.40" width="13.58" height="13.58" fill="#1f988b"/>
<rect x="1223.40" y="174.40" width="13.58" height="13.58" fill="#23888e"/>
<rect x="1236.68" y="174.40" width="13.58" height="13.58" fill="#2e6e8e"/>
<rect x="1249.96" y="174.40" width="13.58" height="13.58" fill="#39558c"/>
<rect x="1263.24" y="174.40" width="13.58" height="13.58" fill="#404588"/>
<rect x="1276.52" y="174.40" width="13.58" height="13.58" fill="#433d84"/>
<rect x="1289.80" y="174.40" width="13.58" height="13.58" fill="#463480"/>
<rect x="1303.08" y="174.40" width="13.58" height="13.58" fill="#482677"/>
<rect x="1316.36" y="174.40" width="13.58" height="13.58" fill="#48186a"/>
<rect x="1329.64" y="174.40" width="13.58" height="13.58" fill="#470d60"/>
<rect x="1342.92" y="174.40" width="13.58" height="13.58" fill="#46075a"/>
<rect x="1356.20" y="174.40" width="79.98" height="13.58" fill="#450457"/>
<rect x="1435.88" y="174.40" width="13.58" height="13.58" fill="#450559"/>
<rect x="1449.16" y="174.40" width="13.58" height="13.58" fill="#46075a"/>
<rect x="1462.44" y="174.40" width="13.58" height="13.58" fill="#460b5e"/>
<rect x="1475.72" y="174.40" width="13.58" height="13.58" fill="#481467"/>
<rect x="1489.00" y="174.40" width="13.58" height="13.58" fill="#481f70"/>
<rect x="1502.28" y="174.40" width="13.58" height="13.58" fill="#482878"/>
<rect x="1515.56" y="174.40" width="13.58" height="13.58" fill="#472a7a"/>
<rect x="1528.84" y="174.40" width="13.58" height="13.58" fill="#482677"/>
<rect x="1542.12" y="174.40" width="13.58" height="13.58" fill="#482173"/>
<rect x="1555.40" y="174.40" width="13.58" height="13.58" fill="#481d6f"/>
<rect x="1568.68" y="174.40" width="13.58" height="13.58" fill="#482071"/>
<rect x="1581.96" y="174.40" width="13.58" height="13.58" fill="#482576"/>
<rect x="1595.24" y="174.40" width="13.58" height="13.58" fill="#472a7a"/>
<rect x="1608.52" y="174.40" width="13.58" height="13.58" fill="#482979"/>
<rect x="1621.80" y="174.40" width="13.58" height="13.58" fill="#482475"/>
<rect x="1635.08" y="174.40" width="13.58" height="13.58" fill="#481b6d"/>
<rect x="1648.36" y="174.40" width="13.58" height="13.58" fill="#471164"/>
<rect x="1661.64" y="174.40" width="13.58" height="13.58" fill="#460a5d"/>
<rect x="1674.92" y="174.40" width="13.58" height="13.58" fill="#46075a"/>
<rect x="1010.92" y="187.68" width="13.58" height="13.58" fill="#450457"/>
<rect x="1024.20" y="187.68" width="13.58" height="13.58" fill="#450559"/>
<rect x="1037.48" y="187.68" width="13.58" height="13.58" fill="#46085c"/>
<rect x="1050.76" y="187.68" width="13.58" height="13.58" fill="#460a5d"/>
<rect x="1064.04" y="187.68" width="26.86" height="13.58" fill="#460b5e"/>
<rect x="1090.60" y="187.68" width="13.58" height="13.58" fill="#470e61"/>
<rect x="1103.88" y="187.68" width="13.58" height="13.58" fill="#471063"/>
<rect x="1117.16" y="187.68" width="13.58" height="13.58" fill="#481467"/>
<rect x="1130.44" y="187.68" width="13.58" height="13.58" fill="#481a6c"/>
<rect x="1143.72" y="187.68" width="13.58" height="13.58" fill="#482374"/>
<rect x="1157.00" y="187.68" width="13.58" height="13.58" fill="#463480"/>
<rect x="1170.28" y="187.68" width="13.58" height="13.58" fill="#3c508b"/>
<rect x="1183.56" y="187.68" width="13.58" height="13.58" fill="#2e6f8e"/>
<rect x="1196.84" y="187.68" width="13.58" height="13.58" fill="#23898e"/>
<rect x="1210.12" y="187.68" width="13.58" height="13.58" fill="#1f958b"/>
<rect x="1223.40" y="187.68" width="13.58" height="13.58" fill="#218e8d"/>
<rect x="1236.68" y="187.68" width="13.58" height="13.58" fill="#2a788e"/>
<rect x="1249.96" y="187.68" width="13.58" height="13.58" fill="#355f8d"/>
<rect x="1263.24" y="187.68" width="13.58" height="13.58" fill="#3f4889"/>
<rect x="1276.52" y="187.68" width="13.58" height="13.58" fill="#443983"/>
<rect x="1289.80" y="187.68" width="13.58" height="13.58" fill="#472d7b"/>
<rect x="1303.08" y="187.68" width="13.58" height="13.58" fill="#481f70"/>
<rect x="1316.36" y="187.68" width="13.58" height="13.58" fill="#471365"/>
<rect x="1329.64" y="187.68" width="13.58" height="13.58" fill="#460a5d"/>
<rect x="1342.92" y="187.68" width="13.58" height="13.58" fill="#450559"/>
<rect x="1356.20" y="187.68" width="79.98" height="13.58" fill="#450457"/>
<rect x="1435.88" y="187.68" width="13.58" height="13.58" fill="#450559"/>
<rect x="1449.16" y="187.68" width="13.58" height="13.58" fill="#46075a"/>
<rect x="1462.44" y="187.68" width="13.58" height="13.58" fill="#460b5e"/>
<rect x="1475.72" y="187.68" width="13.58" height="13.58" fill="#481467"/>
<rect x="1489.00" y="187.68" width="13.58" height="13.58" fill="#481d6f"/>
<rect x="1502.28" y="187.68" width="13.58" height="13.58" fill="#482677"/>
<rect x="1515.56" y="187.68" width="13.58" height="13.58" fill="#482979"/>
<rect x="1528.84" y="187.68" width="13.58" height="13.58" fill="#482576"/>
<rect x="1542.12" y="187.68" width="13.58" height="13.58" fill="#482071"/>
<rect x="1555.40" y="187.68" width="13.58" height="13.58" fill="#481c6e"/>
<rect x="1568.68" y="187.68" width="13.58" height="13.58" fill="#481f70"/>
<rect x="1581.96" y="187.68" width="13.58" height="13.58" fill="#482475"/>
<rect x="1595.24" y="187.68" width="26.86" height="13.58" fill="#482878"/>
<rect x="1621.80" y="187.68" width="13.58" height="13.58" fill="#482374"/>
<rect x="1635.08" y="187.68" width="13.58" height="13.58" fill="#481a6c"/>
<rect x="1648.36" y="187.68" width="13.58" height="13.58" fill="#471164"/>
<rect x="1661.64" y="187.68" width="13.58" height="13.58" fill="#460a5d"/>
<rect x="1674.92" y="187.68" width="13.58" height="13.58" fill="#46075a"/>
<rect x="1010.92" y="200.96" width="13.58" height="13.58" fill="#450559"/>
<rect x="1024.20" y="200.96" width="13.58" height="13.58" fill="#46085c"/>
<rect x="1037.48" y="200.96" width="13.58" height="13.58" fill="#470e61"/>
<rect x="1050.76" y="200.96" width="79.98" height="13.58" fill="#471365"/>
<rect x="1130.44" y="200.96" width="13.58" height="13.58" fill="#481467"/>
<rect x="1143.72" y="200.96" width="13.58" height="13.58" fill="#481a6c"/>
<rect x="1157.00" y="200.96" width="13.58" height="13.58" fill="#482677"/>
<rect x="1170.28" y="200.96" width="13.58" height="13.58" fill="#423f85"/>
<rect x="1183.56" y="200.96" width="13.58" height="13.58" fill="#355f8d"/>
<rect x="1196.84" y="200.96" width="13.58" height="13.58" fill="#287c8e"/>
<rect x="1210.12" y="200.96" width="13.58" height="13.58" fill="#218f8d"/>
<rect x="1223.40" y="200.96" width="13.58" height="13.58" fill="#21918c"/>
<rect x="1236.68" y="200.96" width="13.58" height="13.58" fill="#26828e"/>
<rect x="1249.96" y="200.96" width="13.58" height="13.58" fill="#2f6b8e"/>
<rect x="1263.24" y="200.96" width="13.58" height="13.58" fill="#3a538b"/>
<rect x="1276.52" y="200.96" width="13.58" height="13.58" fill="#433e85"/>
<rect x="1289.80" y="200.96" width="13.58" height="13.58" fill="#472d7b"/>
<rect x="1303.08" y="200.96" width="13.58" height="13.58" fill="#481f70"/>
<rect x="1316.36" y="200.96" width="13.58" height="13.58" fill="#471365"/>
<rect x="1329.64" y="200.96" width="13.58" height="13.58" fill="#460b5e"/>
<rect x="1342.92" y="200.96" width="13.58" height="13.58" fill="#46075a"/>
<rect x="1356.20" y="200.96" width="13.58" height="13.58" fill="#450559"/>
<rect x="1369.48" y="200.96" width="53.42" height="13.58" fill="#450457"/>
<rect x="1422.60" y="200.96" width="26.86" height="13.58" fill="#450559"/>
<rect x="1449.16" y="200.96" width="13.58" height="13.58" fill="#46075a"/>
<rect x="1462.44" y="200.96" width="13.58" height="13.58" fill="#460a5d"/>
<rect x="1475.72" y="200.96" width="13.58" height="13.58" fill="#471164"/>
<rect x="1489.00" y="200.96" width="13.58" height="13.58" fill="#481a6c"/>
<rect x="1502.28" y="200.96" width="13.58" height="13.58" fill="#482173"/>
<rect x="1515.56" y="200.96" width="13.58" height="13.58" fill="#482475"/>
<rect x="1528.84" y="200.96" width="13.58" height="13.58" fill="#482071"/>
<rect x="1542.12" y="200.96" width="13.58" height="13.58" fill="#481b6d"/>
<rect x="1555.40" y="200.96" width="13.58" height="13.58" fill="#48186a"/>
<rect x="1568.68" y="200.96" width="13.58" height="13.58" fill="#481a6c"/>
<rect x="1581.96" y="200.96" width="13.58" height="13.58" fill="#481d6f"/>
<rect x="1595.24" y="200.96" width="26.86" height="13.58" fill="#482173"/>
<rect x="1621.80" y="200.96" width="13.58" height="13.58" fill="#481d6f"/>
<rect x="1635.08" y="200.96" width="13.58" height="13.58" fill="#481769"/>
<rect x="1648.36" y="200.96" width="13.58" height="13.58" fill="#471063"/>
<rect x="1661.64" y="200.96" width="13.58" height="13.58" fill="#460a5d"/>
<rect x="1674.92" y="200.96" width="13.58" height="13.58" fill="#46075a"/>
<rect x="1010.92" y="214.24" width="13.58" height="13.58" fill="#46075a"/>
<rect x="1024.20" y="214.24" width="13.58" height="13.58" fill="#470d60"/>
<rect x="1037.48" y="214.24" width="13.58" height="13.58" fill="#481769"/>
<rect x="1050.76" y="214.24" width="13.58" height="13.58" fill="#481d6f"/>
<rect x="1064.04" y="214.24" width="13.58" height="13.58" fill="#481f70"/>
<rect x="1077.32" y="214.24" width="13.58" height="13.58" fill="#481d6f"/>
<rect x="1090.60" y="214.24" width="13.58" height="13.58" fill="#481b6d"/>
<rect x="1103.88" y="214.24" width="13.58" height="13.58" fill="#481a6c"/>
<rect x="1117.16" y="214.24" width="13.58" height="13.58" fill="#481668"/>
<rect x="1130.44" y="214.24" width="26.86" height="13.58" fill="#471365"/>
<rect x="1157.00" y="214.24" width="13.58" height="13.58" fill="#481c6e"/>
<rect x="1170.28" y="214.24" width="13.58" height="13.58" fill="#46307e"/>
<rect x="1183.56" y="214.24" width="13.58" height="13.58" fill="#3d4e8a"/>
<rect x="1196.84" y="214.24" width="13.58" height="13.58" fill="#2e6d8e"/>
<rect x="1210.12" y="214.24" width="13.58" height="13.58" fill="#25848e"/>
<rect x="1223.40" y="214.24" width="13.58" height="13.58" fill="#21908d"/>
<rect x="1236.68" y="214.24" width="13.58" height="13.58" fill="#228b8d"/>
<rect x="1249.96" y="214.24" width="13.58" height="13.58" fill="#297b8e"/>
<rect x="1263.24" y="214.24" width="13.58" height="13.58" fill="#32658e"/>
<rect x="1276.52" y="214.24" width="13.58" height="13.58" fill="#3d4e8a"/>
<rect x="1289.80" y="214.24" width="13.58" height="13.58" fill="#443983"/>
<rect x="1303.08" y="214.24" width="13.58" height="13.58" fill="#482878"/>
<rect x="1316.36" y="214.24" width="13.58" height="13.58" fill="#481a6c"/>
<rect x="1329.64" y="214.24" width="13.58" height="13.58" fill="#471063"/>
<rect x="1342.92" y="214.24" width="13.58" height="13.58" fill="#460a5d"/>
<rect x="1356.20" y="214.24" width="13.58" height="13.58" fill="#450559"/>
<rect x="1369.48" y="214.24" width="40.14" height="13.58" fill="#450457"/>
<rect x="1409.32" y="214.24" width="26.86" height="13.58" fill="#450559"/>
<rect x="1435.88" y="214.24" width="26.86" height="13.58" fill="#46075a"/>
<rect x="1462.44" y="214.24" width="13.58" height="13.58" fill="#46085c"/>
<rect x="1475.72" y="214.24" width="13.58" height="13.58" fill="#470e61"/>
<rect x="1489.00" y="214.24" width="13.58" height="13.58" fill="#481467"/>
<rect x="1502.28" y="214.24" width="13.58" height="13.58" fill="#481a6c"/>
<rect x="1515.56" y="214.24" width="13.58" height="13.58" fill="#481c6e"/>
<rect x="1528.84" y="214.24" width="13.58" height="13.58" fill="#481a6c"/>
<rect x="1542.12" y="214.24" width="13.58" height="13.58" fill="#481668"/>
<rect x="1555.40" y="214.24" width="26.86" height="13.58" fill="#471365"/>
<rect x="1581.96" y="214.24" width="13.58" height="13.58" fill="#481769"/>
<rect x="1595.24" y="214.24" width="13.58" height="13.58" fill="#481a6c"/>
<rect x="1608.52" y="214.24" width="13.58" height="13.58" fill="#481b6d"/>
<rect x="1621.80" y="214.24" width="13.58" height="13.58" fill="#481a6c"/>
<rect x="1635.08" y="214.24" width="13.58" height="13.58" fill="#481668"/>
<rect x="1648.36" y="214.24" width="13.58" height="13.58" fill="#471063"/>
<rect x="1661.64" y="214.24" width="13.58" height="13.58" fill="#460b5e"/>
<rect x="1674.92" y="214.24" width="13.58" height="13.58" fill="#46075a"/>
<rect x="1010.92" y="227.52" width="13.58" height="13.58" fill="#46085c"/>
<rect x="1024.20" y="227.52" width="13.58" height="13.58" fill="#471365"/>
<rect x="1037.48" y="227.52" width="13.58" height="13.58" fill="#482071"/>
<rect x="1050.76" y="227.52" width="13.58" height="13.58" fill="#482979"/>
<rect x="1064.04" y="227.52" width="13.58" height="13.58" fill="#472c7a"/>
<rect x="1077.32" y="227.52" width="13.58" height="13.58" fill="#472a7a"/>
<rect x="1090.60" y="227.52" width="13.58" height="13.58" fill="#482677"/>
<rect x="1103.88" y="227.52" width="13.58" height="13.58" fill="#482374"/>
<rect x="1117.16" y="227.52" width="13.58" height="13.58" fill="#481b6d"/>
<rect x="1130.44" y="227.52" width="13.58" height="13.58" fill="#481467"/>
<rect x="1143.72" y="227.52" width="13.58" height="13.58" fill="#471063"/>
<rect x="1157.00" y="227.52" width="13.58" height="13.58" fill="#481668"/>
<rect x="1170.28" y="227.52" width="13.58" height="13.58" fill="#482475"/>
<rect x="1183.56" y="227.52" width="13.58" height="13.58" fill="#433d84"/>
<rect x="1196.84" y="227.52" width="13.58" height="13.58" fill="#375b8d"/>
<rect x="1210.12" y="227.52" width="13.58" height="13.58" fill="#2a778e"/>
<rect x="1223.40" y="227.52" width="13.58" height="13.58" fill="#228b8d"/>
<rect x="1236.68" y="227.52" width="13.58" height="13.58" fill="#20928c"/>
<rect x="1249.96" y="227.52" width="13.58" height="13.58" fill="#228b8d"/>
<rect x="1263.24" y="227.52" width="13.58" height="13.58" fill="#287c8e"/>
<rect x="1276.52" y="227.52" width="13.58" height="13.58" fill="#31688e"/>
<rect x="1289.80" y="227.52" width="13.58" height="13.58" fill="#3a538b"/>
<rect x="1303.08" y="227.52" width="13.58" height="13.58" fill="#433e85"/>
<rect x="1316.36" y="227.52" width="13.58" height="13.58" fill="#472a7a"/>
<rect x="1329.64" y="227.52" width="13.58" height="13.58" fill="#481b6d"/>
<rect x="1342.92" y="227.52" width="13.58" height="13.58" fill="#471063"/>
<rect x="1356.20" y="227.52" width="13.58" height="13.58" fill="#46085c"/>
<rect x="1369.48" y="227.52" width="13.58" height="13.58" fill="#450559"/>
<rect x="1382.76" y="227.52" width="26.86" height="13.58" fill="#450457"/>
<rect x="1409.32" y="227.52" width="13.58" height="13.58" fill="#450559"/>
<rect x="1422.60" y="227.52" width="13.58" height="13.58" fill="#46075a"/>
<rect x="1435.88" y="227.52" width="13.58" height="13.58" fill="#46085c"/>
<rect x="1449.16" y="227.52" width="13.58" height="13.58" fill="#46075a"/>
<rect x="1462.44" y="227.52" width="13.58" height="13.58" fill="#46085c"/>
<rect x="1475.72" y="227.52" width="13.58" height="13.58" fill="#460a5d"/>
<rect x="1489.00" y="227.52" width="13.58" height="13.58" fill="#470e61"/>
<rect x="1502.28" y="227.52" width="13.58" height="13.58" fill="#471365"/>
<rect x="1515.56" y="227.52" width="13.58" height="13.58" fill="#481467"/>
<rect x="1528.84" y="227.52" width="13.58" height="13.58" fill="#471164"/>
<rect x="1542.12" y="227.52" width="13.58" height="13.58" fill="#471063"/>
<rect x="1555.40" y="227.52" width="13.58" height="13.58" fill="#470d60"/>
<rect x="1568.68" y="227.52" width="13.58" height="13.58" fill="#470e61"/>
<rect x="1581.96" y="227.52" width="13.58" height="13.58" fill="#471063"/>
<rect x="1595.24" y="227.52" width="13.58" height="13.58" fill="#481467"/>
<rect x="1608.52" y="227.52" width="13.58" height="13.58" fill="#481769"/>
<rect x="1621.80" y="227.52" width="13.58" height="13.58" fill="#48186a"/>
<rect x="1635.08" y="227.52" width="13.58" height="13.58" fill="#481668"/>
<rect x="1648.36" y="227.52" width="13.58" height="13.58" fill="#471164"/>
<rect x="1661.64" y="227.52" width="13.58" height="13.58" fill="#470d60"/>
<rect x="1674.92" y="227.52" width="13.58" height="13.58" fill="#46085c"/>
<rect x="1010.92" y="240.80" width="13.58" height="13.58" fill="#460b5e"/>
<rect x="1024.20" y="240.80" width="13.58" height="13.58" fill="#481769"/>
<rect x="1037.48" y="240.80" width="13.58" height="13.58" fill="#482878"/>
<rect x="1050.76" y="240.80" width="13.58" height="13.58" fill="#463480"/>
<rect x="1064.04" y="240.80" width="13.58" height="13.58" fill="#453882"/>
<rect x="1077.32" y="240.80" width="13.58" height="13.58" fill="#453581"/>
<rect x="1090.60" y="240.80" width="13.58" height="13.58" fill="#46327e"/>
<rect x="1103.88" y="240.80" width="13.58" height="13.58" fill="#472d7b"/>
<rect x="1117.16" y="240.80" width="13.58" height="13.58" fill="#482374"/>
<rect x="1130.44" y="240.80" width="13.58" height="13.58" fill="#481769"/>
<rect x="1143.72" y="240.80" width="26.86" height="13.58" fill="#471063"/>
<rect x="1170.28" y="240.80" width="13.58" height="13.58" fill="#481a6c"/>
<rect x="1183.56" y="240.80" width="13.58" height="13.58" fill="#472d7b"/>
<rect x="1196.84" y="240.80" width="13.58" height="13.58" fill="#3e4989"/>
<rect x="1210.12" y="240.80" width="13.58" height="13.58" fill="#31678e"/>
<rect x="1223.40" y="240.80" width="13.58" height="13.58" fill="#26828e"/>
<rect x="1236.68" y="240.80" width="13.58" height="13.58" fill="#1f948c"/>
<rect x="1249.96" y="240.80" width="13.58" height="13.58" fill="#1e9b8a"/>
<rect x="1263.24" y="240.80" width="13.58" height="13.58" fill="#1f978b"/>
<rect x="1276.52" y="240.80" width="13.58" height="13.58" fill="#23898e"/>
<rect x="1289.80" y="240.80" width="13.58" height="13.58" fill="#2a768e"/>
<rect x="1303.08" y="240.80" width="13.58" height="13.58" fill="#34608d"/>
<rect x="1316.36" y="240.80" width="13.58" height="13.58" fill="#404688"/>
<rect x="1329.64" y="240.80" width="13.58" height="13.58" fill="#472d7b"/>
<rect x="1342.92" y="240.80" width="13.58" height="13.58" fill="#481a6c"/>
<rect x="1356.20" y="240.80" width="13.58" height="13.58" fill="#470e61"/>
<rect x="1369.48" y="240.80" width="13.58" height="13.58" fill="#46075a"/>
<rect x="1382.76" y="240.80" width="26.86" height="13.58" fill="#450559"/>
<rect x="1409.32" y="240.80" width="13.58" height="13.58" fill="#46075a"/>
<rect x="1422.60" y="240.80" width="13.58" height="13.58" fill="#46085c"/>
<rect x="1435.88" y="240.80" width="13.58" height="13.58" fill="#460a5d"/>
<rect x="1449.16" y="240.80" width="13.58" height="13.58" fill="#46085c"/>
<rect x="1462.44" y="240.80" width="26.86" height="13.58" fill="#46075a"/>
<rect x="1489.00" y="240.80" width="13.58" height="13.58" fill="#460a5d"/>
<rect x="1502.28" y="240.80" width="13.58" height="13.58" fill="#460b5e"/>
<rect x="1515.56" y="240.80" width="13.58" height="13.58" fill="#470d60"/>
<rect x="1528.84" y="240.80" width="53.42" height="13.58" fill="#460b5e"/>
<rect x="1581.96" y="240.80" width="13.58" height="13.58" fill="#470d60"/>
<rect x="1595.24" y="240.80" width="13.58" height="13.58" fill="#471164"/>
<rect x="1608.52" y="240.80" width="13.58" height="13.58" fill="#481668"/>
<rect x="1621.80" y="240.80" width="26.86" height="13.58" fill="#481a6c"/>
<rect x="1648.36" y="240.80" width="13.58" height="13.58" fill="#481668"/>
<rect x="1661.64" y="240.80" width="13.58" height="13.58" fill="#471063"/>
<rect x="1674.92" y="240.80" width="13.58" height="13.58" fill="#460a5d"/>
<rect x="1010.92" y="254.08" width="13.58" height="13.58" fill="#460b5e"/>
<rect x="1024.20" y="254.08" width="13.58" height="13.58" fill="#481a6c"/>
<rect x="1037.48" y="254.08" width="13.58" height="13.58" fill="#472c7a"/>
<rect x="1050.76" y="254.08" width="13.58" height="13.58" fill="#443a83"/>
<rect x="1064.04" y="254.08" width="13.58" height="13.58" fill="#423f85"/>
<rect x="1077.32" y="254.08" width="13.58" height="13.58" fill="#433e85"/>
<rect x="1090.60" y="254.08" width="13.58" height="13.58" fill="#443a83"/>
<rect x="1103.88" y="254.08" width="13.58" height="13.58" fill="#463480"/>
<rect x="1117.16" y="254.08" width="13.58" height="13.58" fill="#482878"/>
<rect x="1130.44" y="254.08" width="13.58" height="13.58" fill="#481a6c"/>
<rect x="1143.72" y="254.08" width="13.58" height="13.58" fill="#470e61"/>
<rect x="1157.00" y="254.08" width="13.58" height="13.58" fill="#460b5e"/>
<rect x="1170.28" y="254.08" width="13.58" height="13.58" fill="#471164"/>
<rect x="1183.56" y="254.08" width="13.58" height="13.58" fill="#482071"/>
<rect x="1196.84" y="254.08" width="13.58" height="13.58" fill="#453882"/>
<rect x="1210.12" y="254.08" width="13.58" height="13.58" fill="#39568c"/>
<rect x="1223.40" y="254.08" width="13.58" height="13.58" fill="#2b758e"/>
<rect x="1236.68" y="254.08" width="13.58" height="13.58" fill="#20928c"/>
<rect x="1249.96" y="254.08" width="13.58" height="13.58" fill="#22a785"/>
<rect x="1263.24" y="254.08" width="13.58" height="13.58" fill="#2db27d"/>
<rect x="1276.52" y="254.08" width="13.58" height="13.58" fill="#2ab07f"/>
<rect x="1289.80" y="254.08" width="13.58" height="13.58" fill="#1fa287"/>
<rect x="1303.08" y="254.08" width="13.58" height="13.58" fill="#23888e"/>
<rect x="1316.36" y="254.08" width="13.58" height="13.58" fill="#31688e"/>
<rect x="1329.64" y="254.08" width="13.58" height="13.58" fill="#404688"/>
<rect x="1342.92" y="254.08" width="13.58" height="13.58" fill="#482878"/>
<rect x="1356.20" y="254.08" width="13.58" height="13.58" fill="#481467"/>
<rect x="1369.48" y="254.08" width="13.58" height="13.58" fill="#460a5d"/>
<rect x="1382.76" y="254.08" width="26.86" height="13.58" fill="#450559"/>
<rect x="1409.32" y="254.08" width="13.58" height="13.58" fill="#46075a"/>
<rect x="1422.60" y="254.08" width="13.58" height="13.58" fill="#460b5e"/>
<rect x="1435.88" y="254.08" width="13.58" height="13.58" fill="#470d60"/>
<rect x="1449.16" y="254.08" width="13.58" height="13.58" fill="#460a5d"/>
<rect x="1462.44" y="254.08" width="13.58" height="13.58" fill="#46075a"/>
<rect x="1475.72" y="254.08" width="13.58" height="13.58" fill="#450559"/>
<rect x="1489.00" y="254.08" width="26.86" height="13.58" fill="#46075a"/>
<rect x="1515.56" y="254.08" width="26.86" height="13.58" fill="#46085c"/>
<rect x="1542.12" y="254.08" width="13.58" height="13.58" fill="#460a5d"/>
<rect x="1555.40" y="254.08" width="13.58" height="13.58" fill="#460b5e"/>
<rect x="1568.68" y="254.08" width="26.86" height="13.58" fill="#470d60"/>
<rect x="1595.24" y="254.08" width="13.58" height="13.58" fill="#471164"/>
<rect x="1608.52" y="254.08" width="13.58" height="13.58" fill="#48186a"/>
<rect x="1621.80" y="254.08" width="13.58" height="13.58" fill="#481d6f"/>
<rect x="1635.08" y="254.08" width="13.58" height="13.58" fill="#481f70"/>
<rect x="1648.36" y="254.08" width="13.58" height="13.58" fill="#481b6d"/>
<rect x="1661.64" y="254.08" width="13.58" height="13.58" fill="#481467"/>
<rect x="1674.92" y="254.08" width="13.58" height="13.58" fill="#470d60"/>
<rect x="1010.92" y="267.36" width="13.58" height="13.58" fill="#460b5e"/>
<rect x="1024.20" y="267.36" width="13.58" height="13.58" fill="#481a6c"/>
<rect x="1037.48" y="267.36" width="13.58" height="13.58" fill="#472c7a"/>
<rect x="1050.76" y="267.36" width="13.58" height="13.58" fill="#443b84"/>
<rect x="1064.04" y="267.36" width="26.86" height="13.58" fill="#424186"/>
<rect x="1090.60" y="267.36" width="13.58" height="13.58" fill="#423f85"/>
<rect x="1103.88" y="267.36" width="13.58" height="13.58" fill="#443983"/>
<rect x="1117.16" y="267.36" width="13.58" height="13.58" fill="#472c7a"/>
<rect x="1130.44" y="267.36" width="13.58" height="13.58" fill="#481b6d"/>
<rect x="1143.72" y="267.36" width="13.58" height="13.58" fill="#470e61"/>
<rect x="1157.00" y="267.36" width="13.58" height="13.58" fill="#460a5d"/>
<rect x="1170.28" y="267.36" width="13.58" height="13.58" fill="#470d60"/>
<rect x="1183.56" y="267.36" width="13.58" height="13.58" fill="#481769"/>
<rect x="1196.84" y="267.36" width="13.58" height="13.58" fill="#482979"/>
<rect x="1210.12" y="267.36" width="13.58" height="13.58" fill="#404688"/>
<rect x="1223.40" y="267.36" width="13.58" height="13.58" fill="#31678e"/>
<rect x="1236.68" y="267.36" width="13.58" height="13.58" fill="#228b8d"/>
<rect x="1249.96" y="267.36" width="13.58" height="13.58" fill="#27ad81"/>
<rect x="1263.24" y="267.36" width="13.58" height="13.58" fill="#5ac864"/>
<rect x="1276.52" y="267.36" width="13.58" height="13.58" fill="#7fd34e"/>
<rect x="1289.80" y="267.36" width="13.58" height="13.58" fill="#6ece58"/>
<rect x="1303.08" y="267.36" width="13.58" height="13.58" fill="#35b779"/>
<rect x="1316.36" y="267.36" width="13.58" height="13.58" fill="#218e8d"/>
<rect x="1329.64" y="267.36" width="13.58" height="13.58" fill="#33628d"/>
<rect x="1342.92" y="267.36" width="13.58" height="13.58" fill="#443983"/>
<rect x="1356.20" y="267.36" width="13.58" height="13.58" fill="#481d6f"/>
<rect x="1369.48" y="267.36" width="13.58" height="13.58" fill="#470d60"/>
<rect x="1382.76" y="267.36" width="13.58" height="13.58" fill="#46075a"/>
<rect x="1396.04" y="267.36" width="13.58" height="13.58" fill="#450559"/>
<rect x="1409.32" y="267.36" width="13.58" height="13.58" fill="#46085c"/>
<rect x="1422.60" y="267.36" width="13.58" height="13.58" fill="#470e61"/>
<rect x="1435.88" y="267.36" width="13.58" height="13.58" fill="#471063"/>
<rect x="1449.16" y="267.36" width="13.58" height="13.58" fill="#460b5e"/>
<rect x="1462.44" y="267.36" width="13.58" height="13.58" fill="#46075a"/>
<rect x="1475.72" y="267.36" width="53.42" height="13.58" fill="#450559"/>
<rect x="1528.84" y="267.36" width="13.58" height="13.58" fill="#46075a"/>
<rect x="1542.12" y="267.36" width="13.58" height="13.58" fill="#460b5e"/>
<rect x="1555.40" y="267.36" width="13.58" height="13.58" fill="#471063"/>
<rect x="1568.68" y="267.36" width="13.58" height="13.58" fill="#471164"/>
<rect x="1581.96" y="267.36" width="13.58" height="13.58" fill="#471063"/>
<rect x="1595.24" y="267.36" width="13.58" height="13.58" fill="#471365"/>
<rect x="1608.52" y="267.36" width="13.58" height="13.58" fill="#481a6c"/>
<rect x="1621.80" y="267.36" width="13.58" height="13.58" fill="#482071"/>
<rect x="1635.08" y="267.36" width="13.58" height="13.58" fill="#482374"/>
<rect x="1648.36" y="267.36" width="13.58" height="13.58" fill="#481f70"/>
<rect x="1661.64" y="267.36" width="13.58" height="13.58" fill="#481769"/>
<rect x="1674.92" y="267.36" width="13.58" height="13.58" fill="#470e61"/>
<rect x="1010.92" y="280.64" width="13.58" height="13.58" fill="#460b5e"/>
<rect x="1024.20" y="280.64" width="13.58" height="13.58" fill="#481769"/>
<rect x="1037.48" y="280.64" width="13.58" height="13.58" fill="#482878"/>
<rect x="1050.76" y="280.64" width="13.58" height="13.58" fill="#453781"/>
<rect x="1064.04" y="280.64" width="13.58" height="13.58" fill="#423f85"/>
<rect x="1077.32" y="280.64" width="13.58" height="13.58" fill="#424186"/>
<rect x="1090.60" y="280.64" width="13.58" height="13.58" fill="#424086"/>
<rect x="1103.88" y="280.64" width="13.58" height="13.58" fill="#443983"/>
<rect x="1117.16" y="280.64" width="13.58" height="13.58" fill="#472c7a"/>
<rect x="1130.44" y="280.64" width="13.58" height="13.58" fill="#481b6d"/>
<rect x="1143.72" y="280.64" width="13.58" height="13.58" fill="#470e61"/>
<rect x="1157.00" y="280.64" width="26.86" height="13.58" fill="#46085c"/>
<rect x="1183.56" y="280.64" width="13.58" height="13.58" fill="#471063"/>
<rect x="1196.84" y="280.64" width="13.58" height="13.58" fill="#481d6f"/>
<rect x="1210.12" y="280.64" width="13.58" height="13.58" fill="#453581"/>
<rect x="1223.40" y="280.64" width="13.58" height="13.58" fill="#38588c"/>
<rect x="1236.68" y="280.64" width="13.58" height="13.58" fill="#27808e"/>
<rect x="1249.96" y="280.64" width="13.58" height="13.58" fill="#27ad81"/>
<rect x="1263.24" y="280.64" width="13.58" height="13.58" fill="#84d44b"/>
<rect x="1276.52" y="280.64" width="13.58" height="13.58" fill="#dde318"/>
<rect x="1289.80" y="280.64" width="13.58" height="13.58" fill="#eae51a"/>
<rect x="1303.08" y="280.64" width="13.58" height="13.58" fill="#9dd93b"/>
<rect x="1316.36" y="280.64" width="13.58" height="13.58" fill="#2cb17e"/>
<rect x="1329.64" y="280.64" width="13.58" height="13.58" fill="#297a8e"/>
<rect x="1342.92" y="280.64" width="13.58" height="13.58" fill="#3e4989"/>
<rect x="1356.20" y="280.64" width="13.58" height="13.58" fill="#482576"/>
<rect x="1369.48" y="280.64" width="13.58" height="13.58" fill="#471164"/>
<rect x="1382.76" y="280.64" width="13.58" height="13.58" fill="#46085c"/>
<rect x="1396.04" y="280.64" width="13.58" height="13.58" fill="#46075a"/>
<rect x="1409.32" y="280.64" width="13.58" height="13.58" fill="#460a5d"/>
<rect x="1422.60" y="280.64" width="13.58" height="13.58" fill="#471164"/>
<rect x="1435.88" y="280.64" width="13.58" height="13.58" fill="#471365"/>
<rect x="1449.16" y="280.64" width="13.58" height="13.58" fill="#470e61"/>
<rect x="1462.44" y="280.64" width="13.58" height="13.58" fill="#46085c"/>
<rect x="1475.72" y="280.64" width="13.58" height="13.58" fill="#450559"/>
<rect x="1489.00" y="280.64" width="26.86" height="13.58" fill="#450457"/>
<rect x="1515.56" y="280.64" width="13.58" height="13.58" fill="#450559"/>
<rect x="1528.84" y="280.64" width="13.58" height="13.58" fill="#46085c"/>
<rect x="1542.12" y="280.64" width="13.58" height="13.58" fill="#470e61"/>
<rect x="1555.40" y="280.64" width="13.58" height="13.58" fill="#481668"/>
<rect x="1568.68" y="280.64" width="13.58" height="13.58" fill="#481769"/>
<rect x="1581.96" y="280.64" width="26.86" height="13.58" fill="#481467"/>
<rect x="1608.52" y="280.64" width="13.58" height="13.58" fill="#481b6d"/>
<rect x="1621.80" y="280.64" width="13.58" height="13.58" fill="#482173"/>
<rect x="1635.08" y="280.64" width="13.58" height="13.58" fill="#482475"/>
<rect x="1648.36" y="280.64" width="13.58" height="13.58" fill="#482071"/>
<rect x="1661.64" y="280.64" width="13.58" height="13.58" fill="#48186a"/>
<rect x="1674.92" y="280.64" width="13.58" height="13.58" fill="#470e61"/>
<rect x="1010.92" y="293.92" width="13.58" height="13.58" fill="#460a5d"/>
<rect x="1024.20" y="293.92" width="13.58" height="13.58" fill="#481467"/>
<rect x="1037.48" y="293.92" width="13.58" height="13.58" fill="#482374"/>
<rect x="1050.76" y="293.92" width="13.58" height="13.58" fill="#46307e"/>
<rect x="1064.04" y="293.92" width="13.58" height="13.58" fill="#443983"/>
<rect x="1077.32" y="293.92" width="13.58" height="13.58" fill="#433e85"/>
<rect x="1090.60" y="293.92" width="13.58" height="13.58" fill="#433d84"/>
<rect x="1103.88" y="293.92" width="13.58" height="13.58" fill="#453581"/>
<rect x="1117.16" y="293.92" width="13.58" height="13.58" fill="#482878"/>
<rect x="1130.44" y="293.92" width="13.58" height="13.58" fill="#48186a"/>
<rect x="1143.72" y="293.92" width="13.58" height="13.58" fill="#470d60"/>
<rect x="1157.00" y="293.92" width="26.86" height="13.58" fill="#46075a"/>
<rect x="1183.56" y="293.92" width="13.58" height="13.58" fill="#460b5e"/>
<rect x="1196.84" y="293.92" width="13.58" height="13.58" fill="#481668"/>
<rect x="1210.12" y="293.92" width="13.58" height="13.58" fill="#482878"/>
<rect x="1223.40" y="293.92" width="13.58" height="13.58" fill="#3f4788"/>
<rect x="1236.68" y="293.92" width="13.58" height="13.58" fill="#2c728e"/>
<rect x="1249.96" y="293.92" width="13.58" height="13.58" fill="#22a785"/>
<rect x="1263.24" y="293.92" width="13.58" height="13.58" fill="#90d743"/>
<rect x="1276.52" y="293.92" width="26.86" height="13.58" fill="#fde725"/>
<rect x="1303.08" y="293.92" width="13.58" height="13.58" fill="#efe51c"/>
<rect x="1316.36" y="293.92" width="13.58" height="13.58" fill="#5ac864"/>
<rect x="1329.64" y="293.92" width="13.58" height="13.58" fill="#228c8d"/>
<rect x="1342.92" y="293.92" width="13.58" height="13.58" fill="#39558c"/>
<rect x="1356.20" y="293.92" width="13.58" height="13.58" fill="#472d7b"/>
<rect x="1369.48" y="293.92" width="13.58" height="13.58" fill="#481668"/>
<rect x="1382.76" y="293.92" width="13.58" height="13.58" fill="#460a5d"/>
<rect x="1396.04" y="293.92" width="13.58" height="13.58" fill="#46085c"/>
<rect x="1409.32" y="293.92" width="13.58" height="13.58" fill="#460b5e"/>
<rect x="1422.60" y="293.92" width="13.58" height="13.58" fill="#471365"/>
<rect x="1435.88" y="293.92" width="13.58" height="13.58" fill="#481668"/>
<rect x="1449.16" y="293.92" width="13.58" height="13.58" fill="#471063"/>
<rect x="1462.44" y="293.92" width="13.58" height="13.58" fill="#46085c"/>
<rect x="1475.72" y="293.92" width="13.58" height="13.58" fill="#450559"/>
<rect x="1489.00" y="293.92" width="26.86" height="13.58" fill="#450457"/>
<rect x="1515.56" y="293.92" width="13.58" height="13.58" fill="#450559"/>
<rect x="1528.84" y="293.92" width="13.58" height="13.58" fill="#46085c"/>
<rect x="1542.12" y="293.92" width="13.58" height="13.58" fill="#471365"/>
<rect x="1555.40" y="293.92" width="26.86" height="13.58" fill="#481b6d"/>
<rect x="1581.96" y="293.92" width="13.58" height="13.58" fill="#481769"/>
<rect x="1595.24" y="293.92" width="13.58" height="13.58" fill="#481467"/>
<rect x="1608.52" y="293.92" width="13.58" height="13.58" fill="#481a6c"/>
<rect x="1621.80" y="293.92" width="13.58" height="13.58" fill="#482071"/>
<rect x="1635.08" y="293.92" width="13.58" height="13.58" fill="#482374"/>
<rect x="1648.36" y="293.92" width="13.58" height="13.58" fill="#481f70"/>
<rect x="1661.64" y="293.92" width="13.58" height="13.58" fill="#481769"/>
<rect x="1674.92" y="293.92" width="13.58" height="13.58" fill="#470e61"/>
<rect x="1010.92" y="307.20" width="13.58" height="13.58" fill="#46085c"/>
<rect x="1024.20" y="307.20" width="13.58" height="13.58" fill="#471164"/>
<rect x="1037.48" y="307.20" width="13.58" height="13.58" fill="#481c6e"/>
<rect x="1050.76" y="307.20" width="13.58" height="13.58" fill="#482677"/>
<rect x="1064.04" y="307.20" width="13.58" height="13.58" fill="#472f7d"/>
<rect x="1077.32" y="307.20" width="26.86" height="13.58" fill="#46337f"/>
<rect x="1103.88" y="307.20" width="13.58" height="13.58" fill="#472d7b"/>
<rect x="1117.16" y="307.20" width="13.58" height="13.58" fill="#482173"/>
<rect x="1130.44" y="307.20" width="13.58" height="13.58" fill="#481467"/>
<rect x="1143.72" y="307.20" width="13.58" height="13.58" fill="#460b5e"/>
<rect x="1157.00" y="307.20" width="13.58" height="13.58" fill="#46075a"/>
<rect x="1170.28" y="307.20" width="13.58" height="13.58" fill="#450559"/>
<rect x="1183.56" y="307.20" width="13.58" height="13.58" fill="#46075a"/>
<rect x="1196.84" y="307.20" width="13.58" height="13.58" fill="#470e61"/>
<rect x="1210.12" y="307.20" width="13.58" height="13.58" fill="#481d6f"/>
<rect x="1223.40" y="307.20" width="13.58" height="13.58" fill="#443983"/>
<rect x="1236.68" y="307.20" width="13.58" height="13.58" fill="#33638d"/>
<rect x="1249.96" y="307.20" width="13.58" height="13.58" fill="#1f998a"/>
<rect x="1263.24" y="307.20" width="13.58" height="13.58" fill="#77d153"/>
<rect x="1276.52" y="307.20" width="40.14" height="13.58" fill="#fde725"/>
<rect x="1316.36" y="307.20" width="13.58" height="13.58" fill="#69cd5b"/>
<rect x="1329.64" y="307.20" width="13.58" height="13.58" fill="#20928c"/>
<rect x="1342.92" y="307.20" width="13.58" height="13.58" fill="#365d8d"/>
<rect x="1356.20" y="307.20" width="13.58" height="13.58" fill="#46337f"/>
<rect x="1369.48" y="307.20" width="13.58" height="13.58" fill="#481a6c"/>
<rect x="1382.76" y="307.20" width="13.58" height="13.58" fill="#470d60"/>
<rect x="1396.04" y="307.20" width="13.58" height="13.58" fill="#460a5d"/>
<rect x="1409.32" y="307.20" width="13.58" height="13.58" fill="#470d60"/>
<rect x="1422.60" y="307.20" width="13.58" height="13.58" fill="#481668"/>
<rect x="1435.88" y="307.20" width="13.58" height="13.58" fill="#48186a"/>
<rect x="1449.16" y="307.20" width="13.58" height="13.58" fill="#471365"/>
<rect x="1462.44" y="307.20" width="13.58" height="13.58" fill="#460a5d"/>
<rect x="1475.72" y="307.20" width="13.58" height="13.58" fill="#450559"/>
<rect x="1489.00" y="307.20" width="26.86" height="13.58" fill="#450457"/>
<rect x="1515.56" y="307.20" width="13.58" height="13.58" fill="#450559"/>
<rect x="1528.84" y="307.20" width="13.58" height="13.58" fill="#460a5d"/>
<rect x="1542.12" y="307.20" width="13.58" height="13.58" fill="#471365"/>
<rect x="1555.40" y="307.20" width="26.86" height="13.58" fill="#481c6e"/>
<rect x="1581.96" y="307.20" width="13.58" height="13.58" fill="#481668"/>
<rect x="1595.24" y="307.20" width="13.58" height="13.58" fill="#471365"/>
<rect x="1608.52" y="307.20" width="13.58" height="13.58" fill="#481668"/>
<rect x="1621.80" y="307.20" width="13.58" height="13.58" fill="#481c6e"/>
<rect x="1635.08" y="307.20" width="13.58" height="13.58" fill="#481f70"/>
<rect x="1648.36" y="307.20" width="13.58" height="13.58" fill="#481c6e"/>
<rect x="1661.64" y="307.20" width="13.58" height="13.58" fill="#481668"/>
<rect x="1674.92" y="307.20" width="13.58" height="13.58" fill="#470d60"/>
<rect x="1010.92" y="320.48" width="13.58" height="13.58" fill="#46075a"/>
<rect x="1024.20" y="320.48" width="13.58" height="13.58" fill="#460b5e"/>
<rect x="1037.48" y="320.48" width="13.58" height="13.58" fill="#471365"/>
<rect x="1050.76" y="320.48" width="13.58" height="13.58" fill="#481b6d"/>
<rect x="1064.04" y="320.48" width="13.58" height="13.58" fill="#482173"/>
<rect x="1077.32" y="320.48" width="26.86" height="13.58" fill="#482475"/>
<rect x="1103.88" y="320.48" width="13.58" height="13.58" fill="#482071"/>
<rect x="1117.16" y="320.48" width="13.58" height="13.58" fill="#481769"/>
<rect x="1130.44" y="320.48" width="13.58" height="13.58" fill="#470e61"/>
<rect x="1143.72" y="320.48" width="13.58" height="13.58" fill="#46085c"/>
<rect x="1157.00" y="320.48" width="13.58" height="13.58" fill="#450559"/>
<rect x="1170.28" y="320.48" width="13.58" height="13.58" fill="#450457"/>
<rect x="1183.56" y="320.48" width="13.58" height="13.58" fill="#450559"/>
<rect x="1196.84" y="320.48" width="13.58" height="13.58" fill="#460a5d"/>
<rect x="1210.12" y="320.48" width="13.58" height="13.58" fill="#481668"/>
<rect x="1223.40" y="320.48" width="13.58" height="13.58" fill="#472d7b"/>
<rect x="1236.68" y="320.48" width="13.58" height="13.58" fill="#3b528b"/>
<rect x="1249.96" y="320.48" width="13.58" height="13.58" fill="#25838e"/>
<rect x="1263.24" y="320.48" width="13.58" height="13.58" fill="#3dbc74"/>
<rect x="1276.52" y="320.48" width="13.58" height="13.58" fill="#b5de2b"/>
<rect x="1289.80" y="320.48" width="13.58" height="13.58" fill="#efe51c"/>
<rect x="1303.08" y="320.48" width="13.58" height="13.58" fill="#c2df23"/>
<rect x="1316.36" y="320.48" width="13.58" height="13.58" fill="#4ec36b"/>
<rect x="1329.64" y="320.48" width="13.58" height="13.58" fill="#21908d"/>
<rect x="1342.92" y="320.48" width="13.58" height="13.58" fill="#34608d"/>
<rect x="1356.20" y="320.48" width="13.58" height="13.58" fill="#443a83"/>
<rect x="1369.48" y="320.48" width="13.58" height="13.58" fill="#481f70"/>
<rect x="1382.76" y="320.48" width="13.58" height="13.58" fill="#471164"/>
<rect x="1396.04" y="320.48" width="13.58" height="13.58" fill="#460b5e"/>
<rect x="1409.32" y="320.48" width="13.58" height="13.58" fill="#471063"/>
<rect x="1422.60" y="320.48" width="13.58" height="13.58" fill="#481769"/>
<rect x="1435.88" y="320.48" width="13.58" height="13.58" fill="#481a6c"/>
<rect x="1449.16" y="320.48" width="13.58" height="13.58" fill="#471365"/>
<rect x="1462.44" y="320.48" width="13.58" height="13.58" fill="#460a5d"/>
<rect x="1475.72" y="320.48" width="13.58" height="13.58" fill="#450559"/>
<rect x="1489.00" y="320.48" width="26.86" height="13.58" fill="#450457"/>
<rect x="1515.56" y="320.48" width="13.58" height="13.58" fill="#450559"/>
<rect x="1528.84" y="320.48" width="13.58" height="13.58" fill="#46085c"/>
<rect x="1542.12" y="320.48" width="13.58" height="13.58" fill="#471164"/>
<rect x="1555.40" y="320.48" width="26.86" height="13.58" fill="#481a6c"/>
<rect x="1581.96" y="320.48" width="13.58" height="13.58" fill="#471365"/>
<rect x="1595.24" y="320.48" width="13.58" height="13.58" fill="#471063"/>
<rect x="1608.52" y="320.48" width="13.58" height="13.58" fill="#471365"/>
<rect x="1621.80" y="320.48" width="13.58" height="13.58" fill="#481a6c"/>
<rect x="1635.08" y="320.48" width="13.58" height="13.58" fill="#481d6f"/>
<rect x="1648.36" y="320.48" width="13.58" height="13.58" fill="#481b6d"/>
<rect x="1661.64" y="320.48" width="13.58" height="13.58" fill="#481467"/>
<rect x="1674.92" y="320.48" width="13.58" height="13.58" fill="#470d60"/>
<rect x="1010.92" y="333.76" width="13.58" height="13.58" fill="#450559"/>
<rect x="1024.20" y="333.76" width="13.58" height="13.58" fill="#46085c"/>
<rect x="1037.48" y="333.76" width="13.58" height="13.58" fill="#470d60"/>
<rect x="1050.76" y="333.76" width="13.58" height="13.58" fill="#471164"/>
<rect x="1064.04" y="333.76" width="13.58" height="13.58" fill="#481467"/>
<rect x="1077.32" y="333.76" width="26.86" height="13.58" fill="#481769"/>
<rect x="1103.88" y="333.76" width="13.58" height="13.58" fill="#481467"/>
<rect x="1117.16" y="333.76" width="13.58" height="13.58" fill="#470e61"/>
<rect x="1130.44" y="333.76" width="13.58" height="13.58" fill="#460a5d"/>
<rect x="1143.72" y="333.76" width="13.58" height="13.58" fill="#46075a"/>
<rect x="1157.00" y="333.76" width="26.86" height="13.58" fill="#450457"/>
<rect x="1183.56" y="333.76" width="13.58" height="13.58" fill="#450559"/>
<rect x="1196.84" y="333.76" width="13.58" height="13.58" fill="#46085c"/>
<rect x="1210.12" y="333.76" width="13.58" height="13.58" fill="#471063"/>
<rect x="1223.40" y="333.76" width="13.58" height="13.58" fill="#482173"/>
<rect x="1236.68" y="333.76" width="13.58" height="13.58" fill="#424086"/>
<rect x="1249.96" y="333.76" width="13.58" height="13.58" fill="#306a8e"/>
<rect x="1263.24" y="333.76" width="13.58" height="13.58" fill="#1f988b"/>
<rect x="1276.52" y="333.76" width="13.58" height="13.58" fill="#42be71"/>
<rect x="1289.80" y="333.76" width="13.58" height="13.58" fill="#6ece58"/>
<rect x="1303.08" y="333.76" width="13.58" height="13.58" fill="#58c765"/>
<rect x="1316.36" y="333.76" width="13.58" height="13.58" fill="#25ab82"/>
<rect x="1329.64" y="333.76" width="13.58" height="13.58" fill="#25848e"/>
<rect x="1342.92" y="333.76" width="13.58" height="13.58" fill="#34608d"/>
<rect x="1356.20" y="333.76" width="13.58" height="13.58" fill="#424086"/>
<rect x="1369.48" y="333.76" width="13.58" height="13.58" fill="#482677"/>
<rect x="1382.76" y="333.76" width="13.58" height="13.58" fill="#481769"/>
<rect x="1396.04" y="333.76" width="13.58" height="13.58" fill="#471063"/>
<rect x="1409.32" y="333.76" width="13.58" height="13.58" fill="#471164"/>
<rect x="1422.60" y="333.76" width="13.58" height="13.58" fill="#48186a"/>
<rect x="1435.88" y="333.76" width="13.58" height="13.58" fill="#481a6c"/>
<rect x="1449.16" y="333.76" width="13.58" height="13.58" fill="#471365"/>
<rect x="1462.44" y="333.76" width="13.58" height="13.58" fill="#460a5d"/>
<rect x="1475.72" y="333.76" width="13.58" height="13.58" fill="#450559"/>
<rect x="1489.00" y="333.76" width="40.14" height="13.58" fill="#450457"/>
<rect x="1528.84" y="333.76" width="13.58" height="13.58" fill="#46075a"/>
<rect x="1542.12" y="333.76" width="13.58" height="13.58" fill="#470d60"/>
<rect x="1555.40" y="333.76" width="26.86" height="13.58" fill="#471365"/>
<rect x="1581.96" y="333.76" width="13.58" height="13.58" fill="#470e61"/>
<rect x="1595.24" y="333.76" width="13.58" height="13.58" fill="#470d60"/>
<rect x="1608.52" y="333.76" width="13.58" height="13.58" fill="#471063"/>
<rect x="1621.80" y="333.76" width="13.58" height="13.58" fill="#48186a"/>
<rect x="1635.08" y="333.76" width="13.58" height="13.58" fill="#481f70"/>
<rect x="1648.36" y="333.76" width="13.58" height="13.58" fill="#481d6f"/>
<rect x="1661.64" y="333.76" width="13.58" height="13.58" fill="#481769"/>
<rect x="1674.92" y="333.76" width="13.58" height="13.58" fill="#470e61"/>
<rect x="1010.92" y="347.04" width="13.58" height="13.58" fill="#450559"/>
<rect x="1024.20" y="347.04" width="13.58" height="13.58" fill="#46075a"/>
<rect x="1037.48" y="347.04" width="13.58" height="13.58" fill="#460a5d"/>
<rect x="1050.76" y="347.04" width="13.58" height="13.58" fill="#470d60"/>
<rect x="1064.04" y="347.04" width="40.14" height="13.58" fill="#470e61"/>
<rect x="1103.88" y="347.04" width="13.58" height="13.58" fill="#460b5e"/>
<rect x="1117.16" y="347.04" width="13.58" height="13.58" fill="#460a5d"/>
<rect x="1130.44" y="347.04" width="13.58" height="13.58" fill="#46075a"/>
<rect x="1143.72" y="347.04" width="13.58" height="13.58" fill="#450559"/>
<rect x="1157.00" y="347.04" width="40.14" height="13.58" fill="#450457"/>
<rect x="1196.84" y="347.04" width="13.58" height="13.58" fill="#450559"/>
<rect x="1210.12" y="347.04" width="13.58" height="13.58" fill="#460b5e"/>
<rect x="1223.40" y="347.04" width="13.58" height="13.58" fill="#481769"/>
<rect x="1236.68" y="347.04" width="13.58" height="13.58" fill="#472d7b"/>
<rect x="1249.96" y="347.04" width="13.58" height="13.58" fill="#3d4e8a"/>
<rect x="1263.24" y="347.04" width="13.58" height="13.58" fill="#2d718e"/>
<rect x="1276.52" y="347.04" width="13.58" height="13.58" fill="#218e8d"/>
<rect x="1289.80" y="347.04" width="13.58" height="13.58" fill="#1e9d89"/>
<rect x="1303.08" y="347.04" width="13.58" height="13.58" fill="#1e9b8a"/>
<rect x="1316.36" y="347.04" width="13.58" height="13.58" fill="#228b8d"/>
<rect x="1329.64" y="347.04" width="13.58" height="13.58" fill="#2b748e"/>
<rect x="1342.92" y="347.04" width="13.58" height="13.58" fill="#365d8d"/>
<rect x="1356.20" y="347.04" width="13.58" height="13.58" fill="#414487"/>
<rect x="1369.48" y="347.04" width="13.58" height="13.58" fill="#472e7c"/>
<rect x="1382.76" y="347.04" width="13.58" height="13.58" fill="#481d6f"/>
<rect x="1396.04" y="347.04" width="13.58" height="13.58" fill="#481668"/>
<rect x="1409.32" y="347.04" width="13.58" height="13.58" fill="#481467"/>
<rect x="1422.60" y="347.04" width="13.58" height="13.58" fill="#48186a"/>
<rect x="1435.88" y="347.04" width="13.58" height="13.58" fill="#481a6c"/>
<rect x="1449.16" y="347.04" width="13.58" height="13.58" fill="#471365"/>
<rect x="1462.44" y="347.04" width="13.58" height="13.58" fill="#460a5d"/>
<rect x="1475.72" y="347.04" width="13.58" height="13.58" fill="#450559"/>
<rect x="1489.00" y="347.04" width="40.14" height="13.58" fill="#450457"/>
<rect x="1528.84" y="347.04" width="13.58" height="13.58" fill="#450559"/>
<rect x="1542.12" y="347.04" width="13.58" height="13.58" fill="#46085c"/>
<rect x="1555.40" y="347.04" width="26.86" height="13.58" fill="#470d60"/>
<rect x="1581.96" y="347.04" width="26.86" height="13.58" fill="#460a5d"/>
<rect x="1608.52" y="347.04" width="13.58" height="13.58" fill="#471063"/>
<rect x="1621.80" y="347.04" width="13.58" height="13.58" fill="#481b6d"/>
<rect x="1635.08" y="347.04" width="26.86" height="13.58" fill="#482475"/>
<rect x="1661.64" y="347.04" width="13.58" height="13.58" fill="#481c6e"/>
<rect x="1674.92" y="347.04" width="13.58" height="13.58" fill="#471365"/>
<rect x="1010.92" y="360.32" width="13.58" height="13.58" fill="#450559"/>
<rect x="1024.20" y="360.32" width="13.58" height="13.58" fill="#46085c"/>
<rect x="1037.48" y="360.32" width="13.58" height="13.58" fill="#460b5e"/>
<rect x="1050.76" y="360.32" width="40.14" height="13.58" fill="#470e61"/>
<rect x="1090.60" y="360.32" width="13.58" height="13.58" fill="#470d60"/>
<rect x="1103.88" y="360.32" width="13.58" height="13.58" fill="#460a5d"/>
<rect x="1117.16" y="360.32" width="13.58" height="13.58" fill="#46075a"/>
<rect x="1130.44" y="360.32" width="13.58" height="13.58" fill="#450559"/>
<rect x="1143.72" y="360.32" width="53.42" height="13.58" fill="#450457"/>
<rect x="1196.84" y="360.32" width="13.58" height="13.58" fill="#450559"/>
<rect x="1210.12" y="360.32" width="13.58" height="13.58" fill="#46085c"/>
<rect x="1223.40" y="360.32" width="13.58" height="13.58" fill="#471063"/>
<rect x="1236.68" y="360.32" width="13.58" height="13.58" fill="#481d6f"/>
<rect x="1249.96" y="360.32" width="13.58" height="13.58" fill="#46337f"/>
<rect x="1263.24" y="360.32" width="13.58" height="13.58" fill="#3e4c8a"/>
<rect x="1276.52" y="360.32" width="13.58" height="13.58" fill="#34608d"/>
<rect x="1289.80" y="360.32" width="13.58" height="13.58" fill="#2f6c8e"/>
<rect x="1303.08" y="360.32" width="13.58" height="13.58" fill="#2e6f8e"/>
<rect x="1316.36" y="360.32" width="13.58" height="13.58" fill="#306a8e"/>
<rect x="1329.64" y="360.32" width="13.58" height="13.58" fill="#34618d"/>
<rect x="1342.92" y="360.32" width="13.58" height="13.58" fill="#3a548c"/>
<rect x="1356.20" y="360.32" width="13.58" height="13.58" fill="#414487"/>
<rect x="1369.48" y="360.32" width="13.58" height="13.58" fill="#46327e"/>
<rect x="1382.76" y="360.32" width="13.58" height="13.58" fill="#482475"/>
<rect x="1396.04" y="360.32" width="13.58" height="13.58" fill="#481c6e"/>
<rect x="1409.32" y="360.32" width="13.58" height="13.58" fill="#48186a"/>
<rect x="1422.60" y="360.32" width="13.58" height="13.58" fill="#481a6c"/>
<rect x="1435.88" y="360.32" width="13.58" height="13.58" fill="#48186a"/>
<rect x="1449.16" y="360.32" width="13.58" height="13.58" fill="#471164"/>
<rect x="1462.44" y="360.32" width="13.58" height="13.58" fill="#460a5d"/>
<rect x="1475.72" y="360.32" width="13.58" height="13.58" fill="#450559"/>
<rect x="1489.00" y="360.32" width="53.42" height="13.58" fill="#450457"/>
<rect x="1542.12" y="360.32" width="13.58" height="13.58" fill="#450559"/>
<rect x="1555.40" y="360.32" width="26.86" height="13.58" fill="#46085c"/>
<rect x="1581.96" y="360.32" width="13.58" height="13.58" fill="#46075a"/>
<rect x="1595.24" y="360.32" width="13.58" height="13.58" fill="#460a5d"/>
<rect x="1608.52" y="360.32" width="13.58" height="13.58" fill="#471164"/>
<rect x="1621.80" y="360.32" width="13.58" height="13.58" fill="#481f70"/>
<rect x="1635.08" y="360.32" width="13.58" height="13.58" fill="#472a7a"/>
<rect x="1648.36" y="360.32" width="13.58" height="13.58" fill="#472d7b"/>
<rect x="1661.64" y="360.32" width="13.58" height="13.58" fill="#482475"/>
<rect x="1674.92" y="360.32" width="13.58" height="13.58" fill="#481a6c"/>
<rect x="1010.92" y="373.60" width="13.58" height="13.58" fill="#46075a"/>
<rect x="1024.20" y="373.60" width="13.58" height="13.58" fill="#460a5d"/>
<rect x="1037.48" y="373.60" width="13.58" height="13.58" fill="#470e61"/>
<rect x="1050.76" y="373.60" width="13.58" height="13.58" fill="#471164"/>
<rect x="1064.04" y="373.60" width="13.58" height="13.58" fill="#471365"/>
<rect x="1077.32" y="373.60" width="13.58" height="13.58" fill="#471164"/>
<rect x="1090.60" y="373.60" width="13.58" height="13.58" fill="#470e61"/>
<rect x="1103.88" y="373.60" width="13.58" height="13.58" fill="#460a5d"/>
<rect x="1117.16" y="373.60" width="13.58" height="13.58" fill="#46075a"/>
<rect x="1130.44" y="373.60" width="13.58" height="13.58" fill="#450559"/>
<rect x="1143.72" y="373.60" width="66.70" height="13.58" fill="#450457"/>
<rect x="1210.12" y="373.60" width="13.58" height="13.58" fill="#46075a"/>
<rect x="1223.40" y="373.60" width="13.58" height="13.58" fill="#460a5d"/>
<rect x="1236.68" y="373.60" width="13.58" height="13.58" fill="#471365"/>
<rect x="1249.96" y="373.60" width="13.58" height="13.58" fill="#481d6f"/>
<rect x="1263.24" y="373.60" width="13.58" height="13.58" fill="#472d7b"/>
<rect x="1276.52" y="373.60" width="13.58" height="13.58" fill="#443a83"/>
<rect x="1289.80" y="373.60" width="13.58" height="13.58" fill="#414487"/>
<rect x="1303.08" y="373.60" width="13.58" height="13.58" fill="#3f4889"/>
<rect x="1316.36" y="373.60" width="26.86" height="13.58" fill="#3e4a89"/>
<rect x="1342.92" y="373.60" width="13.58" height="13.58" fill="#404588"/>
<rect x="1356.20" y="373.60" width="13.58" height="13.58" fill="#443b84"/>
<rect x="1369.48" y="373.60" width="13.58" height="13.58" fill="#46327e"/>
<rect x="1382.76" y="373.60" width="13.58" height="13.58" fill="#482878"/>
<rect x="1396.04" y="373.60" width="13.58" height="13.58" fill="#482173"/>
<rect x="1409.32" y="373.60" width="13.58" height="13.58" fill="#481c6e"/>
<rect x="1422.60" y="373.60" width="13.58" height="13.58" fill="#481a6c"/>
<rect x="1435.88" y="373.60" width="13.58" height="13.58" fill="#481769"/>
<rect x="1449.16" y="373.60" width="13.58" height="13.58" fill="#471063"/>
<rect x="1462.44" y="373.60" width="13.58" height="13.58" fill="#46085c"/>
<rect x="1475.72" y="373.60" width="13.58" height="13.58" fill="#450559"/>
<rect x="1489.00" y="373.60" width="53.42" height="13.58" fill="#450457"/>
<rect x="1542.12" y="373.60" width="53.42" height="13.58" fill="#450559"/>
<rect x="1595.24" y="373.60" width="13.58" height="13.58" fill="#46085c"/>
<rect x="1608.52" y="373.60" width="13.58" height="13.58" fill="#471365"/>
<rect x="1621.80" y="373.60" width="13.58" height="13.58" fill="#482173"/>
<rect x="1635.08" y="373.60" width="13.58" height="13.58" fill="#472f7d"/>
<rect x="1648.36" y="373.60" width="13.58" height="13.58" fill="#46327e"/>
<rect x="1661.64" y="373.60" width="13.58" height="13.58" fill="#472a7a"/>
<rect x="1674.92" y="373.60" width="13.58" height="13.58" fill="#482475"/>
<rect x="1010.92" y="386.88" width="13.58" height="13.58" fill="#46085c"/>
<rect x="1024.20" y="386.88" width="13.58" height="13.58" fill="#460b5e"/>
<rect x="1037.48" y="386.88" width="13.58" height="13.58" fill="#471164"/>
<rect x="1050.76" y="386.88" width="13.58" height="13.58" fill="#481467"/>
<rect x="1064.04" y="386.88" width="13.58" height="13.58" fill="#481668"/>
<rect x="1077.32" y="386.88" width="13.58" height="13.58" fill="#481467"/>
<rect x="1090.60" y="386.88" width="13.58" height="13.58" fill="#471063"/>
<rect x="1103.88" y="386.88" width="13.58" height="13.58" fill="#460b5e"/>
<rect x="1117.16" y="386.88" width="13.58" height="13.58" fill="#46085c"/>
<rect x="1130.44" y="386.88" width="13.58" height="13.58" fill="#450559"/>
<rect x="1143.72" y="386.88" width="53.42" height="13.58" fill="#450457"/>
<rect x="1196.84" y="386.88" width="26.86" height="13.58" fill="#450559"/>
<rect x="1223.40" y="386.88" width="13.58" height="13.58" fill="#46085c"/>
<rect x="1236.68" y="386.88" width="13.58" height="13.58" fill="#460b5e"/>
<rect x="1249.96" y="386.88" width="13.58" height="13.58" fill="#471164"/>
<rect x="1263.24" y="386.88" width="13.58" height="13.58" fill="#48186a"/>
<rect x="1276.52" y="386.88" width="13.58" height="13.58" fill="#482071"/>
<rect x="1289.80" y="386.88" width="13.58" height="13.58" fill="#482576"/>
<rect x="1303.08" y="386.88" width="13.58" height="13.58" fill="#472a7a"/>
<rect x="1316.36" y="386.88" width="13.58" height="13.58" fill="#472f7d"/>
<rect x="1329.64" y="386.88" width="26.86" height="13.58" fill="#46327e"/>
<rect x="1356.20" y="386.88" width="13.58" height="13.58" fill="#472f7d"/>
<rect x="1369.48" y="386.88" width="13.58" height="13.58" fill="#472a7a"/>
<rect x="1382.76" y="386.88" width="13.58" height="13.58" fill="#482677"/>
<rect x="1396.04" y="386.88" width="13.58" height="13.58" fill="#482173"/>
<rect x="1409.32" y="386.88" width="13.58" height="13.58" fill="#481c6e"/>
<rect x="1422.60" y="386.88" width="13.58" height="13.58" fill="#48186a"/>
<rect x="1435.88" y="386.88" width="13.58" height="13.58" fill="#481467"/>
<rect x="1449.16" y="386.88" width="13.58" height="13.58" fill="#470e61"/>
<rect x="1462.44" y="386.88" width="13.58" height="13.58" fill="#46085c"/>
<rect x="1475.72" y="386.88" width="119.82" height="13.58" fill="#450559"/>
<rect x="1595.24" y="386.88" width="13.58" height="13.58" fill="#460a5d"/>
<rect x="1608.52" y="386.88" width="13.58" height="13.58" fill="#471365"/>
<rect x="1621.80" y="386.88" width="13.58" height="13.58" fill="#482173"/>
<rect x="1635.08" y="386.88" width="13.58" height="13.58" fill="#472f7d"/>
<rect x="1648.36" y="386.88" width="13.58" height="13.58" fill="#46337f"/>
<rect x="1661.64" y="386.88" width="13.58" height="13.58" fill="#46307e"/>
<rect x="1674.92" y="386.88" width="13.58" height="13.58" fill="#46337f"/>
<rect x="1010.92" y="400.16" width="13.58" height="13.58" fill="#46085c"/>
<rect x="1024.20" y="400.16" width="13.58" height="13.58" fill="#460b5e"/>
<rect x="1037.48" y="400.16" width="13.58" height="13.58" fill="#471063"/>
<rect x="1050.76" y="400.16" width="13.58" height="13.58" fill="#481467"/>
<rect x="1064.04" y="400.16" width="13.58" height="13.58" fill="#481668"/>
<rect x="1077.32" y="400.16" width="13.58" height="13.58" fill="#481467"/>
<rect x="1090.60" y="400.16" width="13.58" height="13.58" fill="#471063"/>
<rect x="1103.88" y="400.16" width="13.58" height="13.58" fill="#460b5e"/>
<rect x="1117.16" y="400.16" width="13.58" height="13.58" fill="#46085c"/>
<rect x="1130.44" y="400.16" width="13.58" height="13.58" fill="#450559"/>
<rect x="1143.72" y="400.16" width="40.14" height="13.58" fill="#450457"/>
<rect x="1183.56" y="400.16" width="13.58" height="13.58" fill="#450559"/>
<rect x="1196.84" y="400.16" width="13.58" height="13.58" fill="#46075a"/>
<rect x="1210.12" y="400.16" width="40.14" height="13.58" fill="#46085c"/>
<rect x="1249.96" y="400.16" width="13.58" height="13.58" fill="#460a5d"/>
<rect x="1263.24" y="400.16" width="13.58" height="13.58" fill="#470d60"/>
<rect x="1276.52" y="400.16" width="13.58" height="13.58" fill="#471063"/>
<rect x="1289.80" y="400.16" width="13.58" height="13.58" fill="#481467"/>
<rect x="1303.08" y="400.16" width="13.58" height="13.58" fill="#481769"/>
<rect x="1316.36" y="400.16" width="13.58" height="13.58" fill="#481b6d"/>
<rect x="1329.64" y="400.16" width="13.58" height="13.58" fill="#481d6f"/>
<rect x="1342.92" y="400.16" width="40.14" height="13.58" fill="#482071"/>
<rect x="1382.76" y="400.16" width="13.58" height="13.58" fill="#481f70"/>
<rect x="1396.04" y="400.16" width="13.58" height="13.58" fill="#481c6e"/>
<rect x="1409.32" y="400.16" width="13.58" height="13.58" fill="#48186a"/>
<rect x="1422.60" y="400.16" width="13.58" height="13.58" fill="#481668"/>
<rect x="1435.88" y="400.16" width="13.58" height="13.58" fill="#471164"/>
<rect x="1449.16" y="400.16" width="13.58" height="13.58" fill="#470d60"/>
<rect x="1462.44" y="400.16" width="13.58" height="13.58" fill="#460a5d"/>
<rect x="1475.72" y="400.16" width="119.82" height="13.58" fill="#46085c"/>
<rect x="1595.24" y="400.16" width="13.58" height="13.58" fill="#460b5e"/>
<rect x="1608.52" y="400.16" width="13.58" height="13.58" fill="#481467"/>
<rect x="1621.80" y="400.16" width="13.58" height="13.58" fill="#482071"/>
<rect x="1635.08" y="400.16" width="13.58" height="13.58" fill="#472c7a"/>
<rect x="1648.36" y="400.16" width="13.58" height="13.58" fill="#46327e"/>
<rect x="1661.64" y="400.16" width="13.58" height="13.58" fill="#453882"/>
<rect x="1674.92" y="400.16" width="13.58" height="13.58" fill="#3e4989"/>
<rect x="1010.92" y="413.44" width="13.58" height="13.58" fill="#46075a"/>
<rect x="1024.20" y="413.44" width="13.58" height="13.58" fill="#460a5d"/>
<rect x="1037.48" y="413.44" width="13.58" height="13.58" fill="#470e61"/>
<rect x="1050.76" y="413.44" width="13.58" height="13.58" fill="#471164"/>
<rect x="1064.04" y="413.44" width="13.58" height="13.58" fill="#471365"/>
<rect x="1077.32" y="413.44" width="13.58" height="13.58" fill="#471164"/>
<rect x="1090.60" y="413.44" width="13.58" height="13.58" fill="#470e61"/>
<rect x="1103.88" y="413.44" width="13.58" height="13.58" fill="#460a5d"/>
<rect x="1117.16" y="413.44" width="13.58" height="13.58" fill="#46075a"/>
<rect x="1130.44" y="413.44" width="13.58" height="13.58" fill="#450559"/>
<rect x="1143.72" y="413.44" width="26.86" height="13.58" fill="#450457"/>
<rect x="1170.28" y="413.44" width="13.58" height="13.58" fill="#450559"/>
<rect x="1183.56" y="413.44" width="13.58" height="13.58" fill="#46075a"/>
<rect x="1196.84" y="413.44" width="13.58" height="13.58" fill="#460a5d"/>
<rect x="1210.12" y="413.44" width="26.86" height="13.58" fill="#470d60"/>
<rect x="1236.68" y="413.44" width="13.58" height="13.58" fill="#460a5d"/>
<rect x="1249.96" y="413.44" width="13.58" height="13.58" fill="#46085c"/>
<rect x="1263.24" y="413.44" width="13.58" height="13.58" fill="#46075a"/>
<rect x="1276.52" y="413.44" width="13.58" height="13.58" fill="#46085c"/>
<rect x="1289.80" y="413.44" width="13.58" height="13.58" fill="#460a5d"/>
<rect x="1303.08" y="413.44" width="13.58" height="13.58" fill="#460b5e"/>
<rect x="1316.36" y="413.44" width="13.58" height="13.58" fill="#470e61"/>
<rect x="1329.64" y="413.44" width="13.58" height="13.58" fill="#471063"/>
<rect x="1342.92" y="413.44" width="13.58" height="13.58" fill="#471164"/>
<rect x="1356.20" y="413.44" width="13.58" height="13.58" fill="#471365"/>
<rect x="1369.48" y="413.44" width="40.14" height="13.58" fill="#481467"/>
<rect x="1409.32" y="413.44" width="13.58" height="13.58" fill="#471365"/>
<rect x="1422.60" y="413.44" width="13.58" height="13.58" fill="#471164"/>
<rect x="1435.88" y="413.44" width="13.58" height="13.58" fill="#471063"/>
<rect x="1449.16" y="413.44" width="13.58" height="13.58" fill="#470e61"/>
<rect x="1462.44" y="413.44" width="13.58" height="13.58" fill="#470d60"/>
<rect x="1475.72" y="413.44" width="13.58" height="13.58" fill="#470e61"/>
<rect x="1489.00" y="413.44" width="13.58" height="13.58" fill="#471063"/>
<rect x="1502.28" y="413.44" width="13.58" height="13.58" fill="#471164"/>
<rect x="1515.56" y="413.44" width="13.58" height="13.58" fill="#471365"/>
<rect x="1528.84" y="413.44" width="26.86" height="13.58" fill="#471164"/>
<rect x="1555.40" y="413.44" width="13.58" height="13.58" fill="#471063"/>
<rect x="1568.68" y="413.44" width="26.86" height="13.58" fill="#470e61"/>
<rect x="1595.24" y="413.44" width="13.58" height="13.58" fill="#471164"/>
<rect x="1608.52" y="413.44" width="13.58" height="13.58" fill="#48186a"/>
<rect x="1621.80" y="413.44" width="13.58" height="13.58" fill="#482071"/>
<rect x="1635.08" y="413.44" width="13.58" height="13.58" fill="#482979"/>
<rect x="1648.36" y="413.44" width="13.58" height="13.58" fill="#46327e"/>
<rect x="1661.64" y="413.44" width="13.58" height="13.58" fill="#414487"/>
<rect x="1674.92" y="413.44" width="13.58" height="13.58" fill="#31688e"/>
<rect x="1010.92" y="426.72" width="13.58" height="13.58" fill="#450559"/>
<rect x="1024.20" y="426.72" width="13.58" height="13.58" fill="#46085c"/>
<rect x="1037.48" y="426.72" width="13.58" height="13.58" fill="#460a5d"/>
<rect x="1050.76" y="426.72" width="40.14" height="13.58" fill="#470d60"/>
<rect x="1090.60" y="426.72" width="13.58" height="13.58" fill="#460a5d"/>
<rect x="1103.88" y="426.72" width="13.58" height="13.58" fill="#46085c"/>
<rect x="1117.16" y="426.72" width="26.86" height="13.58" fill="#450559"/>
<rect x="1143.72" y="426.72" width="26.86" height="13.58" fill="#450457"/>
<rect x="1170.28" y="426.72" width="13.58" height="13.58" fill="#450559"/>
<rect x="1183.56" y="426.72" width="13.58" height="13.58" fill="#460a5d"/>
<rect x="1196.84" y="426.72" width="13.58" height="13.58" fill="#471063"/>
<rect x="1210.12" y="426.72" width="13.58" height="13.58" fill="#481668"/>
<rect x="1223.40" y="426.72" width="13.58" height="13.58" fill="#481467"/>
<rect x="1236.68" y="426.72" width="13.58" height="13.58" fill="#471063"/>
<rect x="1249.96" y="426.72" width="13.58" height="13.58" fill="#460a5d"/>
<rect x="1263.24" y="426.72" width="13.58" height="13.58" fill="#46075a"/>
<rect x="1276.52" y="426.72" width="26.86" height="13.58" fill="#450559"/>
<rect x="1303.08" y="426.72" width="26.86" height="13.58" fill="#46075a"/>
<rect x="1329.64" y="426.72" width="26.86" height="13.58" fill="#46085c"/>
<rect x="1356.20" y="426.72" width="13.58" height="13.58" fill="#460a5d"/>
<rect x="1369.48" y="426.72" width="13.58" height="13.58" fill="#460b5e"/>
<rect x="1382.76" y="426.72" width="40.14" height="13.58" fill="#470d60"/>
<rect x="1422.60" y="426.72" width="13.58" height="13.58" fill="#470e61"/>
<rect x="1435.88" y="426.72" width="13.58" height="13.58" fill="#471063"/>
<rect x="1449.16" y="426.72" width="13.58" height="13.58" fill="#471164"/>
<rect x="1462.44" y="426.72" width="13.58" height="13.58" fill="#471365"/>
<rect x="1475.72" y="426.72" width="13.58" height="13.58" fill="#481769"/>
<rect x="1489.00" y="426.72" width="13.58" height="13.58" fill="#481a6c"/>
<rect x="1502.28" y="426.72" width="13.58" height="13.58" fill="#481c6e"/>
<rect x="1515.56" y="426.72" width="26.86" height="13.58" fill="#481d6f"/>
<rect x="1542.12" y="426.72" width="13.58" height="13.58" fill="#481b6d"/>
<rect x="1555.40" y="426.72" width="13.58" height="13.58" fill="#48186a"/>
<rect x="1568.68" y="426.72" width="26.86" height="13.58" fill="#481769"/>
<rect x="1595.24" y="426.72" width="13.58" height="13.58" fill="#481b6d"/>
<rect x="1608.52" y="426.72" width="13.58" height="13.58" fill="#482071"/>
<rect x="1621.80" y="426.72" width="13.58" height="13.58" fill="#482576"/>
<rect x="1635.08" y="426.72" width="13.58" height="13.58" fill="#472a7a"/>
<rect x="1648.36" y="426.72" width="13.58" height="13.58" fill="#463480"/>
<rect x="1661.64" y="426.72" width="13.58" height="13.58" fill="#3a538b"/>
<rect x="1674.92" y="426.72" width="13.58" height="13.58" fill="#228c8d"/>
<rect x="1010.92" y="440.00" width="26.86" height="13.58" fill="#450559"/>
<rect x="1037.48" y="440.00" width="13.58" height="13.58" fill="#46075a"/>
<rect x="1050.76" y="440.00" width="40.14" height="13.58" fill="#46085c"/>
<rect x="1090.60" y="440.00" width="26.86" height="13.58" fill="#46075a"/>
<rect x="1117.16" y="440.00" width="40.14" height="13.58" fill="#450559"/>
<rect x="1157.00" y="440.00" width="13.58" height="13.58" fill="#46075a"/>
<rect x="1170.28" y="440.00" width="13.58" height="13.58" fill="#46085c"/>
<rect x="1183.56" y="440.00" width="13.58" height="13.58" fill="#470e61"/>
<rect x="1196.84" y="440.00" width="13.58" height="13.58" fill="#48186a"/>
<rect x="1210.12" y="440.00" width="13.58" height="13.58" fill="#481f70"/>
<rect x="1223.40" y="440.00" width="13.58" height="13.58" fill="#481d6f"/>
<rect x="1236.68" y="440.00" width="13.58" height="13.58" fill="#481668"/>
<rect x="1249.96" y="440.00" width="13.58" height="13.58" fill="#460b5e"/>
<rect x="1263.24" y="440.00" width="13.58" height="13.58" fill="#46075a"/>
<rect x="1276.52" y="440.00" width="40.14" height="13.58" fill="#450457"/>
<rect x="1316.36" y="440.00" width="53.42" height="13.58" fill="#450559"/>
<rect x="1369.48" y="440.00" width="26.86" height="13.58" fill="#46075a"/>
<rect x="1396.04" y="440.00" width="13.58" height="13.58" fill="#46085c"/>
<rect x="1409.32" y="440.00" width="13.58" height="13.58" fill="#460a5d"/>
<rect x="1422.60" y="440.00" width="13.58" height="13.58" fill="#470e61"/>
<rect x="1435.88" y="440.00" width="13.58" height="13.58" fill="#471164"/>
<rect x="1449.16" y="440.00" width="13.58" height="13.58" fill="#471365"/>
<rect x="1462.44" y="440.00" width="13.58" height="13.58" fill="#481668"/>
<rect x="1475.72" y="440.00" width="13.58" height="13.58" fill="#481b6d"/>
<rect x="1489.00" y="440.00" width="13.58" height="13.58" fill="#481f70"/>
<rect x="1502.28" y="440.00" width="13.58" height="13.58" fill="#482173"/>
<rect x="1515.56" y="440.00" width="13.58" height="13.58" fill="#482475"/>
<rect x="1528.84" y="440.00" width="13.58" height="13.58" fill="#482374"/>
<rect x="1542.12" y="440.00" width="13.58" height="13.58" fill="#482071"/>
<rect x="1555.40" y="440.00" width="13.58" height="13.58" fill="#481d6f"/>
<rect x="1568.68" y="440.00" width="13.58" height="13.58" fill="#481c6e"/>
<rect x="1581.96" y="440.00" width="13.58" height="13.58" fill="#481d6f"/>
<rect x="1595.24" y="440.00" width="13.58" height="13.58" fill="#482475"/>
<rect x="1608.52" y="440.00" width="13.58" height="13.58" fill="#472c7a"/>
<rect x="1621.80" y="440.00" width="13.58" height="13.58" fill="#472f7d"/>
<rect x="1635.08" y="440.00" width="13.58" height="13.58" fill="#46307e"/>
<rect x="1648.36" y="440.00" width="13.58" height="13.58" fill="#433d84"/>
<rect x="1661.64" y="440.00" width="13.58" height="13.58" fill="#32658e"/>
<rect x="1674.92" y="440.00" width="13.58" height="13.58" fill="#2cb17e"/>
<rect x="1010.92" y="453.28" width="13.58" height="13.58" fill="#450457"/>
<rect x="1024.20" y="453.28" width="26.86" height="13.58" fill="#450559"/>
<rect x="1050.76" y="453.28" width="66.70" height="13.58" fill="#46075a"/>
<rect x="1117.16" y="453.28" width="26.86" height="13.58" fill="#46085c"/>
<rect x="1143.72" y="453.28" width="13.58" height="13.58" fill="#460a5d"/>
<rect x="1157.00" y="453.28" width="13.58" height="13.58" fill="#460b5e"/>
<rect x="1170.28" y="453.28" width="13.58" height="13.58" fill="#470e61"/>
<rect x="1183.56" y="453.28" width="13.58" height="13.58" fill="#481668"/>
<rect x="1196.84" y="453.28" width="13.58" height="13.58" fill="#481f70"/>
<rect x="1210.12" y="453.28" width="13.58" height="13.58" fill="#482677"/>
<rect x="1223.40" y="453.28" width="13.58" height="13.58" fill="#482576"/>
<rect x="1236.68" y="453.28" width="13.58" height="13.58" fill="#481a6c"/>
<rect x="1249.96" y="453.28" width="13.58" height="13.58" fill="#470e61"/>
<rect x="1263.24" y="453.28" width="13.58" height="13.58" fill="#46075a"/>
<rect x="1276.52" y="453.28" width="106.54" height="13.58" fill="#450457"/>
<rect x="1382.76" y="453.28" width="13.58" height="13.58" fill="#450559"/>
<rect x="1396.04" y="453.28" width="13.58" height="13.58" fill="#46075a"/>
<rect x="1409.32" y="453.28" width="13.58" height="13.58" fill="#460a5d"/>
<rect x="1422.60" y="453.28" width="13.58" height="13.58" fill="#470d60"/>
<rect x="1435.88" y="453.28" width="13.58" height="13.58" fill="#471063"/>
<rect x="1449.16" y="453.28" width="13.58" height="13.58" fill="#471164"/>
<rect x="1462.44" y="453.28" width="13.58" height="13.58" fill="#481467"/>
<rect x="1475.72" y="453.28" width="13.58" height="13.58" fill="#481769"/>
<rect x="1489.00" y="453.28" width="13.58" height="13.58" fill="#481b6d"/>
<rect x="1502.28" y="453.28" width="13.58" height="13.58" fill="#481d6f"/>
<rect x="1515.56" y="453.28" width="26.86" height="13.58" fill="#481f70"/>
<rect x="1542.12" y="453.28" width="13.58" height="13.58" fill="#481d6f"/>
<rect x="1555.40" y="453.28" width="26.86" height="13.58" fill="#481b6d"/>
<rect x="1581.96" y="453.28" width="13.58" height="13.58" fill="#482173"/>
<rect x="1595.24" y="453.28" width="13.58" height="13.58" fill="#472c7a"/>
<rect x="1608.52" y="453.28" width="13.58" height="13.58" fill="#453781"/>
<rect x="1621.80" y="453.28" width="13.58" height="13.58" fill="#443a83"/>
<rect x="1635.08" y="453.28" width="13.58" height="13.58" fill="#443983"/>
<rect x="1648.36" y="453.28" width="13.58" height="13.58" fill="#404588"/>
<rect x="1661.64" y="453.28" width="13.58" height="13.58" fill="#2c738e"/>
<rect x="1674.92" y="453.28" width="13.58" height="13.58" fill="#69cd5b"/>
<rect x="1010.92" y="466.56" width="13.58" height="13.58" fill="#450457"/>
<rect x="1024.20" y="466.56" width="13.58" height="13.58" fill="#450559"/>
<rect x="1037.48" y="466.56" width="13.58" height="13.58" fill="#46075a"/>
<rect x="1050.76" y="466.56" width="13.58" height="13.58" fill="#46085c"/>
<rect x="1064.04" y="466.56" width="40.14" height="13.58" fill="#460a5d"/>
<rect x="1103.88" y="466.56" width="13.58" height="13.58" fill="#460b5e"/>
<rect x="1117.16" y="466.56" width="13.58" height="13.58" fill="#470d60"/>
<rect x="1130.44" y="466.56" width="13.58" height="13.58" fill="#471164"/>
<rect x="1143.72" y="466.56" width="13.58" height="13.58" fill="#481467"/>
<rect x="1157.00" y="466.56" width="13.58" height="13.58" fill="#481668"/>
<rect x="1170.28" y="466.56" width="13.58" height="13.58" fill="#48186a"/>
<rect x="1183.56" y="466.56" width="13.58" height="13.58" fill="#481d6f"/>
<rect x="1196.84" y="466.56" width="13.58" height="13.58" fill="#482576"/>
<rect x="1210.12" y="466.56" width="13.58" height="13.58" fill="#472c7a"/>
<rect x="1223.40" y="466.56" width="13.58" height="13.58" fill="#482878"/>
<rect x="1236.68" y="466.56" width="13.58" height="13.58" fill="#481c6e"/>
<rect x="1249.96" y="466.56" width="13.58" height="13.58" fill="#471063"/>
<rect x="1263.24" y="466.56" width="13.58" height="13.58" fill="#46085c"/>
<rect x="1276.52" y="466.56" width="13.58" height="13.58" fill="#450559"/>
<rect x="1289.80" y="466.56" width="106.54" height="13.58" fill="#450457"/>
<rect x="1396.04" y="466.56" width="13.58" height="13.58" fill="#450559"/>
<rect x="1409.32" y="466.56" width="13.58" height="13.58" fill="#460a5d"/>
<rect x="1422.60" y="466.56" width="26.86" height="13.58" fill="#470e61"/>
<rect x="1449.16" y="466.56" width="26.86" height="13.58" fill="#470d60"/>
<rect x="1475.72" y="466.56" width="13.58" height="13.58" fill="#471063"/>
<rect x="1489.00" y="466.56" width="13.58" height="13.58" fill="#471164"/>
<rect x="1502.28" y="466.56" width="40.14" height="13.58" fill="#481467"/>
<rect x="1542.12" y="466.56" width="26.86" height="13.58" fill="#471365"/>
<rect x="1568.68" y="466.56" width="13.58" height="13.58" fill="#481769"/>
<rect x="1581.96" y="466.56" width="13.58" height="13.58" fill="#482071"/>
<rect x="1595.24" y="466.56" width="13.58" height="13.58" fill="#46307e"/>
<rect x="1608.52" y="466.56" width="13.58" height="13.58" fill="#423f85"/>
<rect x="1621.80" y="466.56" width="13.58" height="13.58" fill="#414487"/>
<rect x="1635.08" y="466.56" width="13.58" height="13.58" fill="#424186"/>
<rect x="1648.36" y="466.56" width="13.58" height="13.58" fill="#3e4c8a"/>
<rect x="1661.64" y="466.56" width="13.58" height="13.58" fill="#297b8e"/>
<rect x="1674.92" y="466.56" width="13.58" height="13.58" fill="#90d743"/>
<rect x="1010.92" y="479.84" width="13.58" height="13.58" fill="#450457"/>
<rect x="1024.20" y="479.84" width="13.58" height="13.58" fill="#46075a"/>
<rect x="1037.48" y="479.84" width="13.58" height="13.58" fill="#460b5e"/>
<rect x="1050.76" y="479.84" width="13.58" height="13.58" fill="#470e61"/>
<rect x="1064.04" y="479.84" width="26.86" height="13.58" fill="#471164"/>
<rect x="1090.60" y="479.84" width="13.58" height="13.58" fill="#471063"/>
<rect x="1103.88" y="479.84" width="13.58" height="13.58" fill="#471164"/>
<rect x="1117.16" y="479.84" width="13.58" height="13.58" fill="#481668"/>
<rect x="1130.44" y="479.84" width="13.58" height="13.58" fill="#481b6d"/>
<rect x="1143.72" y="479.84" width="13.58" height="13.58" fill="#481f70"/>
<rect x="1157.00" y="479.84" width="13.58" height="13.58" fill="#482173"/>
<rect x="1170.28" y="479.84" width="13.58" height="13.58" fill="#482374"/>
<rect x="1183.56" y="479.84" width="13.58" height="13.58" fill="#482475"/>
<rect x="1196.84" y="479.84" width="13.58" height="13.58" fill="#482878"/>
<rect x="1210.12" y="479.84" width="13.58" height="13.58" fill="#472a7a"/>
<rect x="1223.40" y="479.84" width="13.58" height="13.58" fill="#482576"/>
<rect x="1236.68" y="479.84" width="13.58" height="13.58" fill="#481b6d"/>
<rect x="1249.96" y="479.84" width="13.58" height="13.58" fill="#471063"/>
<rect x="1263.24" y="479.84" width="13.58" height="13.58" fill="#46085c"/>
<rect x="1276.52" y="479.84" width="26.86" height="13.58" fill="#46075a"/>
<rect x="1303.08" y="479.84" width="53.42" height="13.58" fill="#450559"/>
<rect x="1356.20" y="479.84" width="40.14" height="13.58" fill="#450457"/>
<rect x="1396.04" y="479.84" width="13.58" height="13.58" fill="#450559"/>
<rect x="1409.32" y="479.84" width="13.58" height="13.58" fill="#460b5e"/>
<rect x="1422.60" y="479.84" width="26.86" height="13.58" fill="#471063"/>
<rect x="1449.16" y="479.84" width="13.58" height="13.58" fill="#460a5d"/>
<rect x="1462.44" y="479.84" width="26.86" height="13.58" fill="#46085c"/>
<rect x="1489.00" y="479.84" width="66.70" height="13.58" fill="#460a5d"/>
<rect x="1555.40" y="479.84" width="13.58" height="13.58" fill="#460b5e"/>
<rect x="1568.68" y="479.84" width="13.58" height="13.58" fill="#471164"/>
<rect x="1581.96" y="479.84" width="13.58" height="13.58" fill="#481f70"/>
<rect x="1595.24" y="479.84" width="13.58" height="13.58" fill="#46327e"/>
<rect x="1608.52" y="479.84" width="13.58" height="13.58" fill="#414287"/>
<rect x="1621.80" y="479.84" width="13.58" height="13.58" fill="#3f4788"/>
<rect x="1635.08" y="479.84" width="13.58" height="13.58" fill="#414487"/>
<rect x="1648.36" y="479.84" width="13.58" height="13.58" fill="#3e4c8a"/>
<rect x="1661.64" y="479.84" width="13.58" height="13.58" fill="#29798e"/>
<rect x="1674.92" y="479.84" width="13.58" height="13.58" fill="#7fd34e"/>
<rect x="1010.92" y="493.12" width="13.58" height="13.58" fill="#450559"/>
<rect x="1024.20" y="493.12" width="13.58" height="13.58" fill="#460a5d"/>
<rect x="1037.48" y="493.12" width="13.58" height="13.58" fill="#471365"/>
<rect x="1050.76" y="493.12" width="13.58" height="13.58" fill="#481a6c"/>
<rect x="1064.04" y="493.12" width="13.58" height="13.58" fill="#481d6f"/>
<rect x="1077.32" y="493.12" width="13.58" height="13.58" fill="#481c6e"/>
<rect x="1090.60" y="493.12" width="13.58" height="13.58" fill="#48186a"/>
<rect x="1103.88" y="493.12" width="13.58" height="13.58" fill="#481769"/>
<rect x="1117.16" y="493.12" width="13.58" height="13.58" fill="#481a6c"/>
<rect x="1130.44" y="493.12" width="13.58" height="13.58" fill="#481f70"/>
<rect x="1143.72" y="493.12" width="13.58" height="13.58" fill="#482475"/>
<rect x="1157.00" y="493.12" width="26.86" height="13.58" fill="#482878"/>
<rect x="1183.56" y="493.12" width="26.86" height="13.58" fill="#482677"/>
<rect x="1210.12" y="493.12" width="13.58" height="13.58" fill="#482576"/>
<rect x="1223.40" y="493.12" width="13.58" height="13.58" fill="#482071"/>
<rect x="1236.68" y="493.12" width="13.58" height="13.58" fill="#48186a"/>
<rect x="1249.96" y="493.12" width="13.58" height="13.58" fill="#471164"/>
<rect x="1263.24" y="493.12" width="26.86" height="13.58" fill="#470d60"/>
<rect x="1289.80" y="493.12" width="26.86" height="13.58" fill="#460b5e"/>
<rect x="1316.36" y="493.12" width="13.58" height="13.58" fill="#460a5d"/>
<rect x="1329.64" y="493.12" width="26.86" height="13.58" fill="#46085c"/>
<rect x="1356.20" y="493.12" width="13.58" height="13.58" fill="#46075a"/>
<rect x="1369.48" y="493.12" width="13.58" height="13.58" fill="#450559"/>
<rect x="1382.76" y="493.12" width="13.58" height="13.58" fill="#450457"/>
<rect x="1396.04" y="493.12" width="13.58" height="13.58" fill="#46075a"/>
<rect x="1409.32" y="493.12" width="13.58" height="13.58" fill="#470e61"/>
<rect x="1422.60" y="493.12" width="13.58" height="13.58" fill="#481668"/>
<rect x="1435.88" y="493.12" width="13.58" height="13.58" fill="#471365"/>
<rect x="1449.16" y="493.12" width="13.58" height="13.58" fill="#460b5e"/>
<rect x="1462.44" y="493.12" width="93.26" height="13.58" fill="#450559"/>
<rect x="1555.40" y="493.12" width="13.58" height="13.58" fill="#46085c"/>
<rect x="1568.68" y="493.12" width="13.58" height="13.58" fill="#470e61"/>
<rect x="1581.96" y="493.12" width="13.58" height="13.58" fill="#481c6e"/>
<rect x="1595.24" y="493.12" width="13.58" height="13.58" fill="#472f7d"/>
<rect x="1608.52" y="493.12" width="13.58" height="13.58" fill="#424086"/>
<rect x="1621.80" y="493.12" width="13.58" height="13.58" fill="#404588"/>
<rect x="1635.08" y="493.12" width="13.58" height="13.58" fill="#424186"/>
<rect x="1648.36" y="493.12" width="13.58" height="13.58" fill="#404688"/>
<rect x="1661.64" y="493.12" width="13.58" height="13.58" fill="#2e6d8e"/>
<rect x="1674.92" y="493.12" width="13.58" height="13.58" fill="#44bf70"/>
<rect x="1010.92" y="506.40" width="13.58" height="13.58" fill="#46075a"/>
<rect x="1024.20" y="506.40" width="13.58" height="13.58" fill="#471063"/>
<rect x="1037.48" y="506.40" width="13.58" height="13.58" fill="#481d6f"/>
<rect x="1050.76" y="506.40" width="13.58" height="13.58" fill="#482979"/>
<rect x="1064.04" y="506.40" width="13.58" height="13.58" fill="#472e7c"/>
<rect x="1077.32" y="506.40" width="13.58" height="13.58" fill="#482979"/>
<rect x="1090.60" y="506.40" width="13.58" height="13.58" fill="#481f70"/>
<rect x="1103.88" y="506.40" width="13.58" height="13.58" fill="#48186a"/>
<rect x="1117.16" y="506.40" width="13.58" height="13.58" fill="#481769"/>
<rect x="1130.44" y="506.40" width="13.58" height="13.58" fill="#481b6d"/>
<rect x="1143.72" y="506.40" width="13.58" height="13.58" fill="#481f70"/>
<rect x="1157.00" y="506.40" width="26.86" height="13.58" fill="#482173"/>
<rect x="1183.56" y="506.40" width="13.58" height="13.58" fill="#481f70"/>
<rect x="1196.84" y="506.40" width="13.58" height="13.58" fill="#481d6f"/>
<rect x="1210.12" y="506.40" width="13.58" height="13.58" fill="#481c6e"/>
<rect x="1223.40" y="506.40" width="13.58" height="13.58" fill="#481a6c"/>
<rect x="1236.68" y="506.40" width="13.58" height="13.58" fill="#481769"/>
<rect x="1249.96" y="506.40" width="13.58" height="13.58" fill="#481668"/>
<rect x="1263.24" y="506.40" width="40.14" height="13.58" fill="#481769"/>
<rect x="1303.08" y="506.40" width="13.58" height="13.58" fill="#481668"/>
<rect x="1316.36" y="506.40" width="13.58" height="13.58" fill="#481467"/>
<rect x="1329.64" y="506.40" width="13.58" height="13.58" fill="#471164"/>
<rect x="1342.92" y="506.40" width="13.58" height="13.58" fill="#470d60"/>
<rect x="1356.20" y="506.40" width="13.58" height="13.58" fill="#460a5d"/>
<rect x="1369.48" y="506.40" width="13.58" height="13.58" fill="#46075a"/>
<rect x="1382.76" y="506.40" width="13.58" height="13.58" fill="#450559"/>
<rect x="1396.04" y="506.40" width="13.58" height="13.58" fill="#46085c"/>
<rect x="1409.32" y="506.40" width="13.58" height="13.58" fill="#471164"/>
<rect x="1422.60" y="506.40" width="13.58" height="13.58" fill="#481c6e"/>
<rect x="1435.88" y="506.40" width="13.58" height="13.58" fill="#48186a"/>
<rect x="1449.16" y="506.40" width="13.58" height="13.58" fill="#470d60"/>
<rect x="1462.44" y="506.40" width="13.58" height="13.58" fill="#450559"/>
<rect x="1475.72" y="506.40" width="79.98" height="13.58" fill="#450457"/>
<rect x="1555.40" y="506.40" width="13.58" height="13.58" fill="#46075a"/>
<rect x="1568.68" y="506.40" width="13.58" height="13.58" fill="#470d60"/>
<rect x="1581.96" y="506.40" width="13.58" height="13.58" fill="#48186a"/>
<rect x="1595.24" y="506.40" width="13.58" height="13.58" fill="#482979"/>
<rect x="1608.52" y="506.40" width="13.58" height="13.58" fill="#453882"/>
<rect x="1621.80" y="506.40" width="13.58" height="13.58" fill="#443b84"/>
<rect x="1635.08" y="506.40" width="13.58" height="13.58" fill="#453882"/>
<rect x="1648.36" y="506.40" width="13.58" height="13.58" fill="#443a83"/>
<rect x="1661.64" y="506.40" width="13.58" height="13.58" fill="#375a8c"/>
<rect x="1674.92" y="506.40" width="13.58" height="13.58" fill="#1e9b8a"/>
<rect x="1010.92" y="519.68" width="13.58" height="13.58" fill="#460a5d"/>
<rect x="1024.20" y="519.68" width="13.58" height="13.58" fill="#481668"/>
<rect x="1037.48" y="519.68" width="13.58" height="13.58" fill="#482878"/>
<rect x="1050.76" y="519.68" width="13.58" height="13.58" fill="#453781"/>
<rect x="1064.04" y="519.68" width="13.58" height="13.58" fill="#443b84"/>
<rect x="1077.32" y="519.68" width="13.58" height="13.58" fill="#463480"/>
<rect x="1090.60" y="519.68" width="13.58" height="13.58" fill="#482576"/>
<rect x="1103.88" y="519.68" width="13.58" height="13.58" fill="#48186a"/>
<rect x="1117.16" y="519.68" width="13.58" height="13.58" fill="#471164"/>
<rect x="1130.44" y="519.68" width="13.58" height="13.58" fill="#471365"/>
<rect x="1143.72" y="519.68" width="13.58" height="13.58" fill="#481467"/>
<rect x="1157.00" y="519.68" width="26.86" height="13.58" fill="#481668"/>
<rect x="1183.56" y="519.68" width="40.14" height="13.58" fill="#481467"/>
<rect x="1223.40" y="519.68" width="13.58" height="13.58" fill="#481668"/>
<rect x="1236.68" y="519.68" width="13.58" height="13.58" fill="#481a6c"/>
<rect x="1249.96" y="519.68" width="13.58" height="13.58" fill="#481f70"/>
<rect x="1263.24" y="519.68" width="13.58" height="13.58" fill="#482475"/>
<rect x="1276.52" y="519.68" width="26.86" height="13.58" fill="#482677"/>
<rect x="1303.08" y="519.68" width="13.58" height="13.58" fill="#482475"/>
<rect x="1316.36" y="519.68" width="13.58" height="13.58" fill="#482071"/>
<rect x="1329.64" y="519.68" width="13.58" height="13.58" fill="#481c6e"/>
<rect x="1342.92" y="519.68" width="13.58" height="13.58" fill="#481769"/>
<rect x="1356.20" y="519.68" width="13.58" height="13.58" fill="#471063"/>
<rect x="1369.48" y="519.68" width="13.58" height="13.58" fill="#460a5d"/>
<rect x="1382.76" y="519.68" width="13.58" height="13.58" fill="#46075a"/>
<rect x="1396.04" y="519.68" width="13.58" height="13.58" fill="#460a5d"/>
<rect x="1409.32" y="519.68" width="13.58" height="13.58" fill="#481668"/>
<rect x="1422.60" y="519.68" width="13.58" height="13.58" fill="#482374"/>
<rect x="1435.88" y="519.68" width="13.58" height="13.58" fill="#481d6f"/>
<rect x="1449.16" y="519.68" width="13.58" height="13.58" fill="#470e61"/>
<rect x="1462.44" y="519.68" width="13.58" height="13.58" fill="#450559"/>
<rect x="1475.72" y="519.68" width="79.98" height="13.58" fill="#450457"/>
<rect x="1555.40" y="519.68" width="13.58" height="13.58" fill="#450559"/>
<rect x="1568.68" y="519.68" width="13.58" height="13.58" fill="#460a5d"/>
<rect x="1581.96" y="519.68" width="13.58" height="13.58" fill="#471365"/>
<rect x="1595.24" y="519.68" width="13.58" height="13.58" fill="#482071"/>
<rect x="1608.52" y="519.68" width="13.58" height="13.58" fill="#472c7a"/>
<rect x="1621.80" y="519.68" width="13.58" height="13.58" fill="#472f7d"/>
<rect x="1635.08" y="519.68" width="13.58" height="13.58" fill="#472c7a"/>
<rect x="1648.36" y="519.68" width="13.58" height="13.58" fill="#472d7b"/>
<rect x="1661.64" y="519.68" width="13.58" height="13.58" fill="#414487"/>
<rect x="1674.92" y="519.68" width="13.58" height="13.58" fill="#2c738e"/>
<rect x="1010.92" y="532.96" width="13.58" height="13.58" fill="#460b5e"/>
<rect x="1024.20" y="532.96" width="13.58" height="13.58" fill="#481b6d"/>
<rect x="1037.48" y="532.96" width="13.58" height="13.58" fill="#46307e"/>
<rect x="1050.76" y="532.96" width="13.58" height="13.58" fill="#423f85"/>
<rect x="1064.04" y="532.96" width="13.58" height="13.58" fill="#414287"/>
<rect x="1077.32" y="532.96" width="13.58" height="13.58" fill="#443983"/>
<rect x="1090.60" y="532.96" width="13.58" height="13.58" fill="#482677"/>
<rect x="1103.88" y="532.96" width="13.58" height="13.58" fill="#481668"/>
<rect x="1117.16" y="532.96" width="13.58" height="13.58" fill="#470d60"/>
<rect x="1130.44" y="532.96" width="26.86" height="13.58" fill="#460a5d"/>
<rect x="1157.00" y="532.96" width="53.42" height="13.58" fill="#460b5e"/>
<rect x="1210.12" y="532.96" width="13.58" height="13.58" fill="#470e61"/>
<rect x="1223.40" y="532.96" width="13.58" height="13.58" fill="#481467"/>
<rect x="1236.68" y="532.96" width="13.58" height="13.58" fill="#481d6f"/>
<rect x="1249.96" y="532.96" width="13.58" height="13.58" fill="#482677"/>
<rect x="1263.24" y="532.96" width="13.58" height="13.58" fill="#472f7d"/>
<rect x="1276.52" y="532.96" width="26.86" height="13.58" fill="#463480"/>
<rect x="1303.08" y="532.96" width="13.58" height="13.58" fill="#46307e"/>
<rect x="1316.36" y="532.96" width="13.58" height="13.58" fill="#472d7b"/>
<rect x="1329.64" y="532.96" width="13.58" height="13.58" fill="#482878"/>
<rect x="1342.92" y="532.96" width="13.58" height="13.58" fill="#482071"/>
<rect x="1356.20" y="532.96" width="13.58" height="13.58" fill="#48186a"/>
<rect x="1369.48" y="532.96" width="13.58" height="13.58" fill="#471063"/>
<rect x="1382.76" y="532.96" width="13.58" height="13.58" fill="#460a5d"/>
<rect x="1396.04" y="532.96" width="13.58" height="13.58" fill="#460b5e"/>
<rect x="1409.32" y="532.96" width="13.58" height="13.58" fill="#481a6c"/>
<rect x="1422.60" y="532.96" width="13.58" height="13.58" fill="#482677"/>
<rect x="1435.88" y="532.96" width="13.58" height="13.58" fill="#482374"/>
<rect x="1449.16" y="532.96" width="13.58" height="13.58" fill="#471164"/>
<rect x="1462.44" y="532.96" width="13.58" height="13.58" fill="#46075a"/>
<rect x="1475.72" y="532.96" width="79.98" height="13.58" fill="#450457"/>
<rect x="1555.40" y="532.96" width="13.58" height="13.58" fill="#450559"/>
<rect x="1568.68" y="532.96" width="13.58" height="13.58" fill="#46085c"/>
<rect x="1581.96" y="532.96" width="13.58" height="13.58" fill="#470e61"/>
<rect x="1595.24" y="532.96" width="13.58" height="13.58" fill="#48186a"/>
<rect x="1608.52" y="532.96" width="13.58" height="13.58" fill="#482071"/>
<rect x="1621.80" y="532.96" width="13.58" height="13.58" fill="#482374"/>
<rect x="1635.08" y="532.96" width="26.86" height="13.58" fill="#482173"/>
<rect x="1661.64" y="532.96" width="13.58" height="13.58" fill="#472e7c"/>
<rect x="1674.92" y="532.96" width="13.58" height="13.58" fill="#3c4f8a"/>
<rect x="1010.92" y="546.24" width="13.58" height="13.58" fill="#470d60"/>
<rect x="1024.20" y="546.24" width="13.58" height="13.58" fill="#481f70"/>
<rect x="1037.48" y="546.24" width="13.58" height="13.58" fill="#463480"/>
<rect x="1050.76" y="546.24" width="26.86" height="13.58" fill="#423f85"/>
<rect x="1077.32" y="546.24" width="13.58" height="13.58" fill="#463480"/>
<rect x="1090.60" y="546.24" width="13.58" height="13.58" fill="#482374"/>
<rect x="1103.88" y="546.24" width="13.58" height="13.58" fill="#471365"/>
<rect x="1117.16" y="546.24" width="13.58" height="13.58" fill="#460a5d"/>
<rect x="1130.44" y="546.24" width="53.42" height="13.58" fill="#450559"/>
<rect x="1183.56" y="546.24" width="13.58" height="13.58" fill="#46075a"/>
<rect x="1196.84" y="546.24" width="13.58" height="13.58" fill="#46085c"/>
<rect x="1210.12" y="546.24" width="13.58" height="13.58" fill="#470d60"/>
<rect x="1223.40" y="546.24" width="13.58" height="13.58" fill="#481467"/>
<rect x="1236.68" y="546.24" width="13.58" height="13.58" fill="#481d6f"/>
<rect x="1249.96" y="546.24" width="13.58" height="13.58" fill="#482979"/>
<rect x="1263.24" y="546.24" width="13.58" height="13.58" fill="#46327e"/>
<rect x="1276.52" y="546.24" width="26.86" height="13.58" fill="#453882"/>
<rect x="1303.08" y="546.24" width="13.58" height="13.58" fill="#453581"/>
<rect x="1316.36" y="546.24" width="13.58" height="13.58" fill="#46337f"/>
<rect x="1329.64" y="546.24" width="13.58" height="13.58" fill="#472e7c"/>
<rect x="1342.92" y="546.24" width="13.58" height="13.58" fill="#482878"/>
<rect x="1356.20" y="546.24" width="13.58" height="13.58" fill="#481f70"/>
<rect x="1369.48" y="546.24" width="13.58" height="13.58" fill="#481668"/>
<rect x="1382.76" y="546.24" width="26.86" height="13.58" fill="#470e61"/>
<rect x="1409.32" y="546.24" width="13.58" height="13.58" fill="#481b6d"/>
<rect x="1422.60" y="546.24" width="13.58" height="13.58" fill="#482979"/>
<rect x="1435.88" y="546.24" width="13.58" height="13.58" fill="#482475"/>
<rect x="1449.16" y="546.24" width="13.58" height="13.58" fill="#471164"/>
<rect x="1462.44" y="546.24" width="13.58" height="13.58" fill="#46075a"/>
<rect x="1475.72" y="546.24" width="93.26" height="13.58" fill="#450457"/>
<rect x="1568.68" y="546.24" width="13.58" height="13.58" fill="#46075a"/>
<rect x="1581.96" y="546.24" width="13.58" height="13.58" fill="#460b5e"/>
<rect x="1595.24" y="546.24" width="13.58" height="13.58" fill="#471164"/>
<rect x="1608.52" y="546.24" width="13.58" height="13.58" fill="#48186a"/>
<rect x="1621.80" y="546.24" width="26.86" height="13.58" fill="#481b6d"/>
<rect x="1648.36" y="546.24" width="13.58" height="13.58" fill="#481a6c"/>
<rect x="1661.64" y="546.24" width="13.58" height="13.58" fill="#482071"/>
<rect x="1674.92" y="546.24" width="13.58" height="13.58" fill="#46327e"/>
<rect x="1010.92" y="559.52" width="13.58" height="13.58" fill="#470d60"/>
<rect x="1024.20" y="559.52" width="13.58" height="13.58" fill="#482071"/>
<rect x="1037.48" y="559.52" width="13.58" height="13.58" fill="#463480"/>
<rect x="1050.76" y="559.52" width="13.58" height="13.58" fill="#443983"/>
<rect x="1064.04" y="559.52" width="13.58" height="13.58" fill="#46337f"/>
<rect x="1077.32" y="559.52" width="13.58" height="13.58" fill="#482979"/>
<rect x="1090.60" y="559.52" width="13.58" height="13.58" fill="#481b6d"/>
<rect x="1103.88" y="559.52" width="13.58" height="13.58" fill="#470e61"/>
<rect x="1117.16" y="559.52" width="13.58" height="13.58" fill="#46075a"/>
<rect x="1130.44" y="559.52" width="53.42" height="13.58" fill="#450457"/>
<rect x="1183.56" y="559.52" width="13.58" height="13.58" fill="#450559"/>
<rect x="1196.84" y="559.52" width="13.58" height="13.58" fill="#46075a"/>
<rect x="1210.12" y="559.52" width="13.58" height="13.58" fill="#460a5d"/>
<rect x="1223.40" y="559.52" width="13.58" height="13.58" fill="#471063"/>
<rect x="1236.68" y="559.52" width="13.58" height="13.58" fill="#481a6c"/>
<rect x="1249.96" y="559.52" width="13.58" height="13.58" fill="#482374"/>
<rect x="1263.24" y="559.52" width="13.58" height="13.58" fill="#472a7a"/>
<rect x="1276.52" y="559.52" width="13.58" height="13.58" fill="#472f7d"/>
<rect x="1289.80" y="559.52" width="13.58" height="13.58" fill="#46307e"/>
<rect x="1303.08" y="559.52" width="26.86" height="13.58" fill="#472f7d"/>
<rect x="1329.64" y="559.52" width="13.58" height="13.58" fill="#472e7c"/>
<rect x="1342.92" y="559.52" width="13.58" height="13.58" fill="#472c7a"/>
<rect x="1356.20" y="559.52" width="13.58" height="13.58" fill="#482576"/>
<rect x="1369.48" y="559.52" width="13.58" height="13.58" fill="#481c6e"/>
<rect x="1382.76" y="559.52" width="13.58" height="13.58" fill="#481467"/>
<rect x="1396.04" y="559.52" width="13.58" height="13.58" fill="#471164"/>
<rect x="1409.32" y="559.52" width="13.58" height="13.58" fill="#481c6e"/>
<rect x="1422.60" y="559.52" width="13.58" height="13.58" fill="#482979"/>
<rect x="1435.88" y="559.52" width="13.58" height="13.58" fill="#482374"/>
<rect x="1449.16" y="559.52" width="13.58" height="13.58" fill="#471164"/>
<rect x="1462.44" y="559.52" width="13.58" height="13.58" fill="#46075a"/>
<rect x="1475.72" y="559.52" width="93.26" height="13.58" fill="#450457"/>
<rect x="1568.68" y="559.52" width="13.58" height="13.58" fill="#450559"/>
<rect x="1581.96" y="559.52" width="13.58" height="13.58" fill="#46085c"/>
<rect x="1595.24" y="559.52" width="13.58" height="13.58" fill="#470e61"/>
<rect x="1608.52" y="559.52" width="13.58" height="13.58" fill="#481467"/>
<rect x="1621.80" y="559.52" width="13.58" height="13.58" fill="#48186a"/>
<rect x="1635.08" y="559.52" width="13.58" height="13.58" fill="#481a6c"/>
<rect x="1648.36" y="559.52" width="13.58" height="13.58" fill="#481769"/>
<rect x="1661.64" y="559.52" width="13.58" height="13.58" fill="#48186a"/>
<rect x="1674.92" y="559.52" width="13.58" height="13.58" fill="#481f70"/>
<rect x="1010.92" y="572.80" width="13.58" height="13.58" fill="#470d60"/>
<rect x="1024.20" y="572.80" width="13.58" height="13.58" fill="#482071"/>
<rect x="1037.48" y="572.80" width="26.86" height="13.58" fill="#46307e"/>
<rect x="1064.04" y="572.80" width="13.58" height="13.58" fill="#482576"/>
<rect x="1077.32" y="572.80" width="13.58" height="13.58" fill="#481b6d"/>
<rect x="1090.60" y="572.80" width="13.58" height="13.58" fill="#471164"/>
<rect x="1103.88" y="572.80" width="13.58" height="13.58" fill="#460a5d"/>
<rect x="1117.16" y="572.80" width="13.58" height="13.58" fill="#450559"/>
<rect x="1130.44" y="572.80" width="66.70" height="13.58" fill="#450457"/>
<rect x="1196.84" y="572.80" width="13.58" height="13.58" fill="#450559"/>
<rect x="1210.12" y="572.80" width="13.58" height="13.58" fill="#46075a"/>
<rect x="1223.40" y="572.80" width="13.58" height="13.58" fill="#460b5e"/>
<rect x="1236.68" y="572.80" width="13.58" height="13.58" fill="#471164"/>
<rect x="1249.96" y="572.80" width="13.58" height="13.58" fill="#481769"/>
<rect x="1263.24" y="572.80" width="13.58" height="13.58" fill="#481c6e"/>
<rect x="1276.52" y="572.80" width="13.58" height="13.58" fill="#482071"/>
<rect x="1289.80" y="572.80" width="13.58" height="13.58" fill="#482173"/>
<rect x="1303.08" y="572.80" width="13.58" height="13.58" fill="#482374"/>
<rect x="1316.36" y="572.80" width="13.58" height="13.58" fill="#482576"/>
<rect x="1329.64" y="572.80" width="13.58" height="13.58" fill="#482979"/>
<rect x="1342.92" y="572.80" width="13.58" height="13.58" fill="#472c7a"/>
<rect x="1356.20" y="572.80" width="13.58" height="13.58" fill="#472a7a"/>
<rect x="1369.48" y="572.80" width="13.58" height="13.58" fill="#482475"/>
<rect x="1382.76" y="572.80" width="13.58" height="13.58" fill="#481b6d"/>
<rect x="1396.04" y="572.80" width="13.58" height="13.58" fill="#481668"/>
<rect x="1409.32" y="572.80" width="13.58" height="13.58" fill="#481b6d"/>
<rect x="1422.60" y="572.80" width="13.58" height="13.58" fill="#482576"/>
<rect x="1435.88" y="572.80" width="13.58" height="13.58" fill="#482071"/>
<rect x="1449.16" y="572.80" width="13.58" height="13.58" fill="#471063"/>
<rect x="1462.44" y="572.80" width="13.58" height="13.58" fill="#450559"/>
<rect x="1475.72" y="572.80" width="93.26" height="13.58" fill="#450457"/>
<rect x="1568.68" y="572.80" width="13.58" height="13.58" fill="#450559"/>
<rect x="1581.96" y="572.80" width="13.58" height="13.58" fill="#46085c"/>
<rect x="1595.24" y="572.80" width="13.58" height="13.58" fill="#470e61"/>
<rect x="1608.52" y="572.80" width="13.58" height="13.58" fill="#481668"/>
<rect x="1621.80" y="572.80" width="13.58" height="13.58" fill="#481b6d"/>
<rect x="1635.08" y="572.80" width="13.58" height="13.58" fill="#481c6e"/>
<rect x="1648.36" y="572.80" width="13.58" height="13.58" fill="#481a6c"/>
<rect x="1661.64" y="572.80" width="26.86" height="13.58" fill="#481668"/>
<rect x="1010.92" y="586.08" width="13.58" height="13.58" fill="#470d60"/>
<rect x="1024.20" y="586.08" width="13.58" height="13.58" fill="#481d6f"/>
<rect x="1037.48" y="586.08" width="13.58" height="13.58" fill="#472c7a"/>
<rect x="1050.76" y="586.08" width="13.58" height="13.58" fill="#482677"/>
<rect x="1064.04" y="586.08" width="13.58" height="13.58" fill="#481a6c"/>
<rect x="1077.32" y="586.08" width="13.58" height="13.58" fill="#471063"/>
<rect x="1090.60" y="586.08" width="13.58" height="13.58" fill="#460a5d"/>
<rect x="1103.88" y="586.08" width="13.58" height="13.58" fill="#46075a"/>
<rect x="1117.16" y="586.08" width="93.26" height="13.58" fill="#450457"/>
<rect x="1210.12" y="586.08" width="13.58" height="13.58" fill="#450559"/>
<rect x="1223.40" y="586.08" width="13.58" height="13.58" fill="#46075a"/>
<rect x="1236.68" y="586.08" width="13.58" height="13.58" fill="#460a5d"/>
<rect x="1249.96" y="586.08" width="13.58" height="13.58" fill="#470d60"/>
<rect x="1263.24" y="586.08" width="13.58" height="13.58" fill="#471063"/>
<rect x="1276.52" y="586.08" width="13.58" height="13.58" fill="#471365"/>
<rect x="1289.80" y="586.08" width="13.58" height="13.58" fill="#481467"/>
<rect x="1303.08" y="586.08" width="13.58" height="13.58" fill="#481769"/>
<rect x="1316.36" y="586.08" width="13.58" height="13.58" fill="#481b6d"/>
<rect x="1329.64" y="586.08" width="13.58" height="13.58" fill="#482374"/>
<rect x="1342.92" y="586.08" width="13.58" height="13.58" fill="#472a7a"/>
<rect x="1356.20" y="586.08" width="13.58" height="13.58" fill="#472f7d"/>
<rect x="1369.48" y="586.08" width="13.58" height="13.58" fill="#472c7a"/>
<rect x="1382.76" y="586.08" width="13.58" height="13.58" fill="#482173"/>
<rect x="1396.04" y="586.08" width="13.58" height="13.58" fill="#48186a"/>
<rect x="1409.32" y="586.08" width="13.58" height="13.58" fill="#481a6c"/>
<rect x="1422.60" y="586.08" width="13.58" height="13.58" fill="#482071"/>
<rect x="1435.88" y="586.08" width="13.58" height="13.58" fill="#481b6d"/>
<rect x="1449.16" y="586.08" width="13.58" height="13.58" fill="#470d60"/>
<rect x="1462.44" y="586.08" width="13.58" height="13.58" fill="#450559"/>
<rect x="1475.72" y="586.08" width="93.26" height="13.58" fill="#450457"/>
<rect x="1568.68" y="586.08" width="13.58" height="13.58" fill="#450559"/>
<rect x="1581.96" y="586.08" width="13.58" height="13.58" fill="#460a5d"/>
<rect x="1595.24" y="586.08" width="13.58" height="13.58" fill="#471063"/>
<rect x="1608.52" y="586.08" width="13.58" height="13.58" fill="#481769"/>
<rect x="1621.80" y="586.08" width="13.58" height="13.58" fill="#481d6f"/>
<rect x="1635.08" y="586.08" width="13.58" height="13.58" fill="#481f70"/>
<rect x="1648.36" y="586.08" width="13.58" height="13.58" fill="#481c6e"/>
<rect x="1661.64" y="586.08" width="13.58" height="13.58" fill="#481668"/>
<rect x="1674.92" y="586.08" width="13.58" height="13.58" fill="#471164"/>
<rect x="1010.92" y="599.36" width="13.58" height="13.58" fill="#460b5e"/>
<rect x="1024.20" y="599.36" width="13.58" height="13.58" fill="#481b6d"/>
<rect x="1037.48" y="599.36" width="13.58" height="13.58" fill="#482576"/>
<rect x="1050.76" y="599.36" width="13.58" height="13.58" fill="#481f70"/>
<rect x="1064.04" y="599.36" width="13.58" height="13.58" fill="#471164"/>
<rect x="1077.32" y="599.36" width="13.58" height="13.58" fill="#460a5d"/>
<rect x="1090.60" y="599.36" width="13.58" height="13.58" fill="#46075a"/>
<rect x="1103.88" y="599.36" width="13.58" height="13.58" fill="#450559"/>
<rect x="1117.16" y="599.36" width="106.54" height="13.58" fill="#450457"/>
<rect x="1223.40" y="599.36" width="26.86" height="13.58" fill="#450559"/>
<rect x="1249.96" y="599.36" width="13.58" height="13.58" fill="#46075a"/>
<rect x="1263.24" y="599.36" width="26.86" height="13.58" fill="#46085c"/>
<rect x="1289.80" y="599.36" width="13.58" height="13.58" fill="#460a5d"/>
<rect x="1303.08" y="599.36" width="13.58" height="13.58" fill="#470d60"/>
<rect x="1316.36" y="599.36" width="13.58" height="13.58" fill="#481467"/>
<rect x="1329.64" y="599.36" width="13.58" height="13.58" fill="#481d6f"/>
<rect x="1342.92" y="599.36" width="13.58" height="13.58" fill="#472a7a"/>
<rect x="1356.20" y="599.36" width="13.58" height="13.58" fill="#46327e"/>
<rect x="1369.48" y="599.36" width="13.58" height="13.58" fill="#472f7d"/>
<rect x="1382.76" y="599.36" width="13.58" height="13.58" fill="#482576"/>
<rect x="1396.04" y="599.36" width="13.58" height="13.58" fill="#481a6c"/>
<rect x="1409.32" y="599.36" width="13.58" height="13.58" fill="#481769"/>
<rect x="1422.60" y="599.36" width="13.58" height="13.58" fill="#481a6c"/>
<rect x="1435.88" y="599.36" width="13.58" height="13.58" fill="#481668"/>
<rect x="1449.16" y="599.36" width="13.58" height="13.58" fill="#460b5e"/>
<rect x="1462.44" y="599.36" width="13.58" height="13.58" fill="#450559"/>
<rect x="1475.72" y="599.36" width="93.26" height="13.58" fill="#450457"/>
<rect x="1568.68" y="599.36" width="13.58" height="13.58" fill="#450559"/>
<rect x="1581.96" y="599.36" width="13.58" height="13.58" fill="#460a5d"/>
<rect x="1595.24" y="599.36" width="13.58" height="13.58" fill="#471063"/>
<rect x="1608.52" y="599.36" width="13.58" height="13.58" fill="#48186a"/>
<rect x="1621.80" y="599.36" width="13.58" height="13.58" fill="#481f70"/>
<rect x="1635.08" y="599.36" width="13.58" height="13.58" fill="#482071"/>
<rect x="1648.36" y="599.36" width="13.58" height="13.58" fill="#481d6f"/>
<rect x="1661.64" y="599.36" width="13.58" height="13.58" fill="#481668"/>
<rect x="1674.92" y="599.36" width="13.58" height="13.58" fill="#470e61"/>
<rect x="1010.92" y="612.64" width="13.58" height="13.58" fill="#460a5d"/>
<rect x="1024.20" y="612.64" width="13.58" height="13.58" fill="#481668"/>
<rect x="1037.48" y="612.64" width="13.58" height="13.58" fill="#481f70"/>
<rect x="1050.76" y="612.64" width="13.58" height="13.58" fill="#48186a"/>
<rect x="1064.04" y="612.64" width="13.58" height="13.58" fill="#460b5e"/>
<rect x="1077.32" y="612.64" width="13.58" height="13.58" fill="#450559"/>
<rect x="1090.60" y="612.64" width="172.94" height="13.58" fill="#450457"/>
<rect x="1263.24" y="612.64" width="26.86" height="13.58" fill="#450559"/>
<rect x="1289.80" y="612.64" width="13.58" height="13.58" fill="#46075a"/>
<rect x="1303.08" y="612.64" width="13.58" height="13.58" fill="#460a5d"/>
<rect x="1316.36" y="612.64" width="13.58" height="13.58" fill="#471063"/>
<rect x="1329.64" y="612.64" width="13.58" height="13.58" fill="#481b6d"/>
<rect x="1342.92" y="612.64" width="13.58" height="13.58" fill="#482878"/>
<rect x="1356.20" y="612.64" width="26.86" height="13.58" fill="#46307e"/>
<rect x="1382.76" y="612.64" width="13.58" height="13.58" fill="#482677"/>
<rect x="1396.04" y="612.64" width="13.58" height="13.58" fill="#481a6c"/>
<rect x="1409.32" y="612.64" width="26.86" height="13.58" fill="#481467"/>
<rect x="1435.88" y="612.64" width="13.58" height="13.58" fill="#471063"/>
<rect x="1449.16" y="612.64" width="13.58" height="13.58" fill="#46085c"/>
<rect x="1462.44" y="612.64" width="106.54" height="13.58" fill="#450457"/>
<rect x="1568.68" y="612.64" width="13.58" height="13.58" fill="#450559"/>
<rect x="1581.96" y="612.64" width="13.58" height="13.58" fill="#46085c"/>
<rect x="1595.24" y="612.64" width="13.58" height="13.58" fill="#470e61"/>
<rect x="1608.52" y="612.64" width="13.58" height="13.58" fill="#481668"/>
<rect x="1621.80" y="612.64" width="13.58" height="13.58" fill="#481c6e"/>
<rect x="1635.08" y="612.64" width="13.58" height="13.58" fill="#481d6f"/>
<rect x="1648.36" y="612.64" width="13.58" height="13.58" fill="#481b6d"/>
<rect x="1661.64" y="612.64" width="13.58" height="13.58" fill="#481467"/>
<rect x="1674.92" y="612.64" width="13.58" height="13.58" fill="#470d60"/>
<rect x="1010.92" y="625.92" width="13.58" height="13.58" fill="#46075a"/>
<rect x="1024.20" y="625.92" width="13.58" height="13.58" fill="#471063"/>
<rect x="1037.48" y="625.92" width="13.58" height="13.58" fill="#481769"/>
<rect x="1050.76" y="625.92" width="13.58" height="13.58" fill="#471164"/>
<rect x="1064.04" y="625.92" width="13.58" height="13.58" fill="#46085c"/>
<rect x="1077.32" y="625.92" width="13.58" height="13.58" fill="#450559"/>
<rect x="1090.60" y="625.92" width="53.42" height="13.58" fill="#450457"/>
<rect x="1143.72" y="625.92" width="40.14" height="13.58" fill="#450559"/>
<rect x="1183.56" y="625.92" width="106.54" height="13.58" fill="#450457"/>
<rect x="1289.80" y="625.92" width="13.58" height="13.58" fill="#450559"/>
<rect x="1303.08" y="625.92" width="13.58" height="13.58" fill="#46085c"/>
<rect x="1316.36" y="625.92" width="13.58" height="13.58" fill="#470e61"/>
<rect x="1329.64" y="625.92" width="13.58" height="13.58" fill="#48186a"/>
<rect x="1342.92" y="625.92" width="13.58" height="13.58" fill="#482475"/>
<rect x="1356.20" y="625.92" width="13.58" height="13.58" fill="#472d7b"/>
<rect x="1369.48" y="625.92" width="13.58" height="13.58" fill="#472c7a"/>
<rect x="1382.76" y="625.92" width="13.58" height="13.58" fill="#482374"/>
<rect x="1396.04" y="625.92" width="13.58" height="13.58" fill="#481769"/>
<rect x="1409.32" y="625.92" width="13.58" height="13.58" fill="#471063"/>
<rect x="1422.60" y="625.92" width="13.58" height="13.58" fill="#470e61"/>
<rect x="1435.88" y="625.92" width="13.58" height="13.58" fill="#460b5e"/>
<rect x="1449.16" y="625.92" width="13.58" height="13.58" fill="#46075a"/>
<rect x="1462.44" y="625.92" width="106.54" height="13.58" fill="#450457"/>
<rect x="1568.68" y="625.92" width="13.58" height="13.58" fill="#450559"/>
<rect x="1581.96" y="625.92" width="13.58" height="13.58" fill="#46075a"/>
<rect x="1595.24" y="625.92" width="13.58" height="13.58" fill="#460b5e"/>
<rect x="1608.52" y="625.92" width="13.58" height="13.58" fill="#471164"/>
<rect x="1621.80" y="625.92" width="13.58" height="13.58" fill="#481769"/>
<rect x="1635.08" y="625.92" width="13.58" height="13.58" fill="#48186a"/>
<rect x="1648.36" y="625.92" width="13.58" height="13.58" fill="#481668"/>
<rect x="1661.64" y="625.92" width="13.58" height="13.58" fill="#471063"/>
<rect x="1674.92" y="625.92" width="13.58" height="13.58" fill="#460b5e"/>
<rect x="1010.92" y="639.20" width="13.58" height="13.58" fill="#450559"/>
<rect x="1024.20" y="639.20" width="13.58" height="13.58" fill="#460b5e"/>
<rect x="1037.48" y="639.20" width="13.58" height="13.58" fill="#470e61"/>
<rect x="1050.76" y="639.20" width="13.58" height="13.58" fill="#460b5e"/>
<rect x="1064.04" y="639.20" width="13.58" height="13.58" fill="#46075a"/>
<rect x="1077.32" y="639.20" width="26.86" height="13.58" fill="#450457"/>
<rect x="1103.88" y="639.20" width="13.58" height="13.58" fill="#450559"/>
<rect x="1117.16" y="639.20" width="13.58" height="13.58" fill="#46075a"/>
<rect x="1130.44" y="639.20" width="13.58" height="13.58" fill="#46085c"/>
<rect x="1143.72" y="639.20" width="40.14" height="13.58" fill="#460a5d"/>
<rect x="1183.56" y="639.20" width="13.58" height="13.58" fill="#46075a"/>
<rect x="1196.84" y="639.20" width="13.58" height="13.58" fill="#450559"/>
<rect x="1210.12" y="639.20" width="66.70" height="13.58" fill="#450457"/>
<rect x="1276.52" y="639.20" width="13.58" height="13.58" fill="#450559"/>
<rect x="1289.80" y="639.20" width="13.58" height="13.58" fill="#46075a"/>
<rect x="1303.08" y="639.20" width="13.58" height="13.58" fill="#460b5e"/>
<rect x="1316.36" y="639.20" width="13.58" height="13.58" fill="#471164"/>
<rect x="1329.64" y="639.20" width="13.58" height="13.58" fill="#481a6c"/>
<rect x="1342.92" y="639.20" width="13.58" height="13.58" fill="#482374"/>
<rect x="1356.20" y="639.20" width="13.58" height="13.58" fill="#482878"/>
<rect x="1369.48" y="639.20" width="13.58" height="13.58" fill="#482677"/>
<rect x="1382.76" y="639.20" width="13.58" height="13.58" fill="#481d6f"/>
<rect x="1396.04" y="639.20" width="13.58" height="13.58" fill="#471365"/>
<rect x="1409.32" y="639.20" width="13.58" height="13.58" fill="#470d60"/>
<rect x="1422.60" y="639.20" width="13.58" height="13.58" fill="#460a5d"/>
<rect x="1435.88" y="639.20" width="13.58" height="13.58" fill="#46085c"/>
<rect x="1449.16" y="639.20" width="13.58" height="13.58" fill="#450559"/>
<rect x="1462.44" y="639.20" width="119.82" height="13.58" fill="#450457"/>
<rect x="1581.96" y="639.20" width="13.58" height="13.58" fill="#450559"/>
<rect x="1595.24" y="639.20" width="13.58" height="13.58" fill="#46085c"/>
<rect x="1608.52" y="639.20" width="13.58" height="13.58" fill="#470d60"/>
<rect x="1621.80" y="639.20" width="13.58" height="13.58" fill="#471063"/>
<rect x="1635.08" y="639.20" width="13.58" height="13.58" fill="#471164"/>
<rect x="1648.36" y="639.20" width="13.58" height="13.58" fill="#471063"/>
<rect x="1661.64" y="639.20" width="13.58" height="13.58" fill="#460b5e"/>
<rect x="1674.92" y="639.20" width="13.58" height="13.58" fill="#46085c"/>
<rect x="1010.92" y="652.48" width="13.58" height="13.58" fill="#450559"/>
<rect x="1024.20" y="652.48" width="13.58" height="13.58" fill="#46075a"/>
<rect x="1037.48" y="652.48" width="13.58" height="13.58" fill="#460a5d"/>
<rect x="1050.76" y="652.48" width="13.58" height="13.58" fill="#46085c"/>
<rect x="1064.04" y="652.48" width="13.58" height="13.58" fill="#450559"/>
<rect x="1077.32" y="652.48" width="13.58" height="13.58" fill="#450457"/>
<rect x="1090.60" y="652.48" width="13.58" height="13.58" fill="#450559"/>
<rect x="1103.88" y="652.48" width="13.58" height="13.58" fill="#46085c"/>
<rect x="1117.16" y="652.48" width="13.58" height="13.58" fill="#470d60"/>
<rect x="1130.44" y="652.48" width="13.58" height="13.58" fill="#471365"/>
<rect x="1143.72" y="652.48" width="13.58" height="13.58" fill="#481769"/>
<rect x="1157.00" y="652.48" width="13.58" height="13.58" fill="#48186a"/>
<rect x="1170.28" y="652.48" width="13.58" height="13.58" fill="#481668"/>
<rect x="1183.56" y="652.48" width="13.58" height="13.58" fill="#471063"/>
<rect x="1196.84" y="652.48" width="13.58" height="13.58" fill="#460a5d"/>
<rect x="1210.12" y="652.48" width="13.58" height="13.58" fill="#46075a"/>
<rect x="1223.40" y="652.48" width="40.14" height="13.58" fill="#450457"/>
<rect x="1263.24" y="652.48" width="13.58" height="13.58" fill="#450559"/>
<rect x="1276.52" y="652.48" width="13.58" height="13.58" fill="#46075a"/>
<rect x="1289.80" y="652.48" width="13.58" height="13.58" fill="#460a5d"/>
<rect x="1303.08" y="652.48" width="13.58" height="13.58" fill="#471063"/>
<rect x="1316.36" y="652.48" width="13.58" height="13.58" fill="#481769"/>
<rect x="1329.64" y="652.48" width="13.58" height="13.58" fill="#481d6f"/>
<rect x="1342.92" y="652.48" width="13.58" height="13.58" fill="#482475"/>
<rect x="1356.20" y="652.48" width="13.58" height="13.58" fill="#482576"/>
<rect x="1369.48" y="652.48" width="13.58" height="13.58" fill="#482173"/>
<rect x="1382.76" y="652.48" width="13.58" height="13.58" fill="#48186a"/>
<rect x="1396.04" y="652.48" width="13.58" height="13.58" fill="#471063"/>
<rect x="1409.32" y="652.48" width="13.58" height="13.58" fill="#460a5d"/>
<rect x="1422.60" y="652.48" width="13.58" height="13.58" fill="#46075a"/>
<rect x="1435.88" y="652.48" width="13.58" height="13.58" fill="#450559"/>
<rect x="1449.16" y="652.48" width="133.10" height="13.58" fill="#450457"/>
<rect x="1581.96" y="652.48" width="13.58" height="13.58" fill="#450559"/>
<rect x="1595.24" y="652.48" width="13.58" height="13.58" fill="#46075a"/>
<rect x="1608.52" y="652.48" width="13.58" height="13.58" fill="#46085c"/>
<rect x="1621.80" y="652.48" width="13.58" height="13.58" fill="#460a5d"/>
<rect x="1635.08" y="652.48" width="13.58" height="13.58" fill="#460b5e"/>
<rect x="1648.36" y="652.48" width="13.58" height="13.58" fill="#460a5d"/>
<rect x="1661.64" y="652.48" width="13.58" height="13.58" fill="#46085c"/>
<rect x="1674.92" y="652.48" width="13.58" height="13.58" fill="#450559"/>
<rect x="1010.92" y="665.76" width="13.58" height="13.58" fill="#450457"/>
<rect x="1024.20" y="665.76" width="13.58" height="13.58" fill="#450559"/>
<rect x="1037.48" y="665.76" width="13.58" height="13.58" fill="#46075a"/>
<rect x="1050.76" y="665.76" width="13.58" height="13.58" fill="#450559"/>
<rect x="1064.04" y="665.76" width="26.86" height="13.58" fill="#450457"/>
<rect x="1090.60" y="665.76" width="13.58" height="13.58" fill="#46075a"/>
<rect x="1103.88" y="665.76" width="13.58" height="13.58" fill="#460b5e"/>
<rect x="1117.16" y="665.76" width="13.58" height="13.58" fill="#481467"/>
<rect x="1130.44" y="665.76" width="13.58" height="13.58" fill="#481d6f"/>
<rect x="1143.72" y="665.76" width="13.58" height="13.58" fill="#482576"/>
<rect x="1157.00" y="665.76" width="13.58" height="13.58" fill="#482677"/>
<rect x="1170.28" y="665.76" width="13.58" height="13.58" fill="#482173"/>
<rect x="1183.56" y="665.76" width="13.58" height="13.58" fill="#48186a"/>
<rect x="1196.84" y="665.76" width="13.58" height="13.58" fill="#470e61"/>
<rect x="1210.12" y="665.76" width="13.58" height="13.58" fill="#46085c"/>
<rect x="1223.40" y="665.76" width="13.58" height="13.58" fill="#450559"/>
<rect x="1236.68" y="665.76" width="26.86" height="13.58" fill="#450457"/>
<rect x="1263.24" y="665.76" width="13.58" height="13.58" fill="#450559"/>
<rect x="1276.52" y="665.76" width="13.58" height="13.58" fill="#46075a"/>
<rect x="1289.80" y="665.76" width="13.58" height="13.58" fill="#460b5e"/>
<rect x="1303.08" y="665.76" width="13.58" height="13.58" fill="#471164"/>
<rect x="1316.36" y="665.76" width="13.58" height="13.58" fill="#481a6c"/>
<rect x="1329.64" y="665.76" width="13.58" height="13.58" fill="#481f70"/>
<rect x="1342.92" y="665.76" width="13.58" height="13.58" fill="#482374"/>
<rect x="1356.20" y="665.76" width="13.58" height="13.58" fill="#482173"/>
<rect x="1369.48" y="665.76" width="13.58" height="13.58" fill="#481c6e"/>
<rect x="1382.76" y="665.76" width="13.58" height="13.58" fill="#481467"/>
<rect x="1396.04" y="665.76" width="13.58" height="13.58" fill="#470d60"/>
<rect x="1409.32" y="665.76" width="13.58" height="13.58" fill="#46085c"/>
<rect x="1422.60" y="665.76" width="26.86" height="13.58" fill="#450559"/>
<rect x="1449.16" y="665.76" width="146.38" height="13.58" fill="#450457"/>
<rect x="1595.24" y="665.76" width="26.86" height="13.58" fill="#450559"/>
<rect x="1621.80" y="665.76" width="40.14" height="13.58" fill="#46075a"/>
<rect x="1661.64" y="665.76" width="26.86" height="13.58" fill="#450559"/>
<rect x="1010.92" y="679.04" width="26.86" height="13.58" fill="#450457"/>
<rect x="1037.48" y="679.04" width="13.58" height="13.58" fill="#450559"/>
<rect x="1050.76" y="679.04" width="40.14" height="13.58" fill="#450457"/>
<rect x="1090.60" y="679.04" width="13.58" height="13.58" fill="#46075a"/>
<rect x="1103.88" y="679.04" width="13.58" height="13.58" fill="#460b5e"/>
<rect x="1117.16" y="679.04" width="13.58" height="13.58" fill="#481467"/>
<rect x="1130.44" y="679.04" width="13.58" height="13.58" fill="#481f70"/>
<rect x="1143.72" y="679.04" width="13.58" height="13.58" fill="#482677"/>
<rect x="1157.00" y="679.04" width="13.58" height="13.58" fill="#482878"/>
<rect x="1170.28" y="679.04" width="13.58" height="13.58" fill="#482374"/>
<rect x="1183.56" y="679.04" width="13.58" height="13.58" fill="#481a6c"/>
<rect x="1196.84" y="679.04" width="13.58" height="13.58" fill="#471063"/>
<rect x="1210.12" y="679.04" width="13.58" height="13.58" fill="#46085c"/>
<rect x="1223.40" y="679.04" width="13.58" height="13.58" fill="#450559"/>
<rect x="1236.68" y="679.04" width="26.86" height="13.58" fill="#450457"/>
<rect x="1263.24" y="679.04" width="13.58" height="13.58" fill="#450559"/>
<rect x="1276.52" y="679.04" width="13.58" height="13.58" fill="#46075a"/>
<rect x="1289.80" y="679.04" width="13.58" height="13.58" fill="#460a5d"/>
<rect x="1303.08" y="679.04" width="13.58" height="13.58" fill="#471063"/>
<rect x="1316.36" y="679.04" width="13.58" height="13.58" fill="#481769"/>
<rect x="1329.64" y="679.04" width="13.58" height="13.58" fill="#481b6d"/>
<rect x="1342.92" y="679.04" width="13.58" height="13.58" fill="#481d6f"/>
<rect x="1356.20" y="679.04" width="13.58" height="13.58" fill="#481b6d"/>
<rect x="1369.48" y="679.04" width="13.58" height="13.58" fill="#481668"/>
<rect x="1382.76" y="679.04" width="13.58" height="13.58" fill="#471063"/>
<rect x="1396.04" y="679.04" width="13.58" height="13.58" fill="#460a5d"/>
<rect x="1409.32" y="679.04" width="13.58" height="13.58" fill="#46075a"/>
<rect x="1422.60" y="679.04" width="13.58" height="13.58" fill="#450559"/>
<rect x="1435.88" y="679.04" width="186.22" height="13.58" fill="#450457"/>
<rect x="1621.80" y="679.04" width="40.14" height="13.58" fill="#450559"/>
<rect x="1661.64" y="679.04" width="26.86" height="13.58" fill="#450457"/>
</g>
<rect x="1177.0" y="193.0" width="241.4" height="241.0" fill="none" stroke="#fff" stroke-width="1.6"/>
<line x1="1531.90" y1="36.70" x2="1655.40" y2="36.70" stroke="#fff" stroke-width="3.00" />
<text x="1594.20" y="57.00" font-size="21.60" text-anchor="middle" fill="#fff" >1000 au</text>
<ellipse cx="1087" cy="619.5" rx="37" ry="43" fill="none" stroke="#fff" stroke-width="2.6"/>
<ellipse cx="1087" cy="619.5" rx="9.5" ry="11" fill="#fff"/>
<path d="M1273.5 295.7C1273.8 293.4 1274.7 290.3 1275.8 288.8C1277.0 287.3 1278.5 286.4 1280.4 286.5C1282.3 286.6 1284.6 288.2 1287.3 289.4C1290.0 290.5 1293.8 292.0 1296.5 293.4C1299.2 294.9 1301.6 296.1 1303.4 298.0C1305.2 299.9 1306.5 302.4 1307.5 304.9C1308.4 307.4 1308.1 310.9 1309.2 313.0C1310.2 315.1 1311.3 316.0 1313.8 317.6C1316.3 319.1 1320.7 320.7 1324.1 322.2C1327.6 323.6 1332.0 324.7 1334.5 326.2C1337.0 327.7 1338.7 329.6 1338.9 331.4C1339.1 333.2 1337.7 335.4 1335.6 337.1C1333.6 338.9 1329.5 340.1 1326.4 341.7C1323.4 343.4 1319.9 345.4 1317.2 346.9C1314.6 348.5 1312.2 350.6 1310.3 350.9C1308.4 351.3 1307.3 350.6 1305.7 349.2C1304.2 347.9 1302.5 345.3 1301.1 342.9C1299.8 340.5 1299.0 337.1 1297.7 334.8C1296.3 332.5 1295.0 330.8 1293.1 329.1C1291.2 327.4 1288.3 326.2 1286.2 324.5C1284.1 322.8 1282.0 321.0 1280.4 318.7C1278.8 316.4 1277.4 313.4 1276.4 310.7C1275.3 308.0 1274.6 305.1 1274.1 302.6C1273.6 300.1 1273.2 298.0 1273.5 295.7Z" fill="none" stroke="#fff" stroke-width="1.25"/>
<path d="M1277.5 298.0C1278.0 296.4 1278.8 294.8 1280.4 294.0C1282.0 293.2 1284.6 292.9 1287.3 293.2C1290.0 293.5 1293.9 294.6 1296.5 295.7C1299.1 296.8 1301.2 298.0 1302.9 299.7C1304.5 301.5 1305.5 303.7 1306.3 306.1C1307.1 308.5 1306.6 311.9 1307.5 314.1C1308.3 316.3 1309.5 317.8 1311.5 319.3C1313.5 320.8 1317.3 321.5 1319.5 323.3C1321.7 325.2 1324.1 327.9 1324.7 330.2C1325.3 332.5 1324.2 335.0 1323.0 337.1C1321.7 339.3 1319.3 341.2 1317.2 342.9C1315.1 344.6 1312.2 346.9 1310.3 347.5C1308.5 348.1 1307.6 347.7 1306.3 346.3C1305.1 345.0 1303.9 341.9 1302.9 339.4C1301.8 336.9 1301.2 333.6 1300.0 331.4C1298.7 329.2 1297.3 327.6 1295.4 326.2C1293.5 324.8 1290.6 324.2 1288.5 322.8C1286.4 321.3 1284.2 319.6 1282.7 317.6C1281.2 315.6 1280.1 313.0 1279.3 310.7C1278.4 308.4 1277.8 305.9 1277.5 303.8C1277.2 301.7 1277.1 299.6 1277.5 298.0Z" fill="none" stroke="#fff" stroke-width="1.25"/>
<path d="M1279.5 301.5C1279.7 299.3 1281.2 297.7 1282.7 296.6C1284.2 295.6 1286.2 295.1 1288.5 295.3C1290.8 295.4 1294.3 296.5 1296.5 297.6C1298.7 298.6 1300.4 300.0 1301.7 301.7C1303.0 303.3 1303.9 305.3 1304.6 307.5C1305.2 309.6 1305.1 312.3 1305.7 314.4C1306.4 316.4 1306.7 318.1 1308.6 319.6C1310.5 321.2 1314.6 322.0 1317.0 323.8C1319.4 325.6 1322.1 328.3 1322.8 330.5C1323.4 332.6 1322.1 334.7 1321.0 336.6C1319.9 338.4 1317.9 340.1 1316.1 341.5C1314.3 342.9 1311.8 344.6 1310.3 345.0C1308.8 345.3 1308.1 345.0 1307.1 343.8C1306.1 342.6 1305.2 339.9 1304.3 337.7C1303.5 335.5 1303.1 332.6 1301.8 330.5C1300.6 328.3 1298.7 326.3 1296.8 324.7C1294.8 323.1 1291.9 322.4 1289.8 321.0C1287.8 319.6 1286.1 318.3 1284.7 316.4C1283.2 314.5 1282.1 312.0 1281.2 309.5C1280.4 307.0 1279.2 303.6 1279.5 301.5Z" fill="none" stroke="#fff" stroke-width="1.25"/>
<ellipse cx="1291.7" cy="308.9" rx="8.3" ry="10.9" fill="none" stroke="#fff" stroke-width="1.2" transform="rotate(-8 1291.7 308.9)"/>
<ellipse cx="1291.7" cy="308.9" rx="5.2" ry="7.5" fill="none" stroke="#fff" stroke-width="1.2" transform="rotate(-8 1291.7 308.9)"/>
<ellipse cx="1291.7" cy="308.9" rx="2.5" ry="4.6" fill="none" stroke="#fff" stroke-width="1.2" transform="rotate(-8 1291.7 308.9)"/>
<circle cx="1311.7" cy="333.9" r="4.7" fill="none" stroke="#fff" stroke-width="1.3"/>
<ellipse cx="1071.0" cy="79.0" rx="2.5" ry="3.5" fill="none" stroke="#fff" stroke-width="1.4" stroke-dasharray="4.5 1.9" transform="rotate(0 1071.0 79.0)"/>
<ellipse cx="1128.0" cy="68.0" rx="1.5" ry="1.2" fill="#fff"/>
<ellipse cx="1225.0" cy="27.0" rx="3.0" ry="4.0" fill="none" stroke="#fff" stroke-width="1.4" stroke-dasharray="5.2 2.2" transform="rotate(30 1225.0 27.0)"/>
<ellipse cx="1390.0" cy="47.0" rx="3.5" ry="3.5" fill="none" stroke="#fff" stroke-width="1.4" stroke-dasharray="4.5 1.9" transform="rotate(0 1390.0 47.0)"/>
<ellipse cx="1424.0" cy="33.0" rx="1.5" ry="3.0" fill="none" stroke="#fff" stroke-width="1.4" transform="rotate(20 1424.0 33.0)"/>
<ellipse cx="1659.0" cy="120.0" rx="3.5" ry="4.0" fill="none" stroke="#fff" stroke-width="1.4" transform="rotate(0 1659.0 120.0)"/>
<ellipse cx="1115.0" cy="198.0" rx="3.0" ry="3.0" fill="none" stroke="#fff" stroke-width="1.4" stroke-dasharray="3.9 1.7" transform="rotate(0 1115.0 198.0)"/>
<ellipse cx="1071.0" cy="323.0" rx="6.0" ry="5.5" fill="none" stroke="#fff" stroke-width="1.4" stroke-dasharray="7.8 3.3" transform="rotate(0 1071.0 323.0)"/>
<ellipse cx="1243.0" cy="364.0" rx="1.5" ry="1.5" fill="#fff"/>
<ellipse cx="1269.0" cy="387.0" rx="6.0" ry="6.5" fill="none" stroke="#fff" stroke-width="1.4" stroke-dasharray="8.5 3.6" transform="rotate(-20 1269.0 387.0)"/>
<ellipse cx="1631.0" cy="322.0" rx="1.8" ry="3.0" fill="none" stroke="#fff" stroke-width="1.4" transform="rotate(0 1631.0 322.0)"/>
<ellipse cx="1585.0" cy="342.0" rx="3.5" ry="3.5" fill="none" stroke="#fff" stroke-width="1.4" transform="rotate(0 1585.0 342.0)"/>
<ellipse cx="1665.0" cy="358.0" rx="2.0" ry="2.5" fill="none" stroke="#fff" stroke-width="1.4" stroke-dasharray="3.2 1.4" transform="rotate(0 1665.0 358.0)"/>
<ellipse cx="1460.0" cy="404.0" rx="1.5" ry="3.0" fill="none" stroke="#fff" stroke-width="1.4" transform="rotate(-20 1460.0 404.0)"/>
<ellipse cx="1441.0" cy="444.0" rx="3.5" ry="3.0" fill="none" stroke="#fff" stroke-width="1.4" stroke-dasharray="4.5 1.9" transform="rotate(0 1441.0 444.0)"/>
<ellipse cx="1569.0" cy="441.0" rx="3.0" ry="4.0" fill="none" stroke="#fff" stroke-width="1.4" stroke-dasharray="5.2 2.2" transform="rotate(-40 1569.0 441.0)"/>
<ellipse cx="1219.0" cy="480.0" rx="1.8" ry="3.5" fill="none" stroke="#fff" stroke-width="1.4" transform="rotate(-10 1219.0 480.0)"/>
<ellipse cx="1352.0" cy="531.0" rx="1.2" ry="1.2" fill="#fff"/>
<ellipse cx="1267.0" cy="557.0" rx="5.5" ry="5.0" fill="none" stroke="#fff" stroke-width="1.4" stroke-dasharray="7.2 3.0" transform="rotate(0 1267.0 557.0)"/>
<ellipse cx="1611.0" cy="541.0" rx="0.9" ry="0.9" fill="#fff"/>
<ellipse cx="1580.0" cy="585.5" rx="2.0" ry="2.0" fill="#fff"/>
<ellipse cx="1097.0" cy="563.0" rx="2.0" ry="3.0" fill="none" stroke="#fff" stroke-width="1.4" stroke-dasharray="3.9 1.7" transform="rotate(0 1097.0 563.0)"/>
<ellipse cx="1196.0" cy="622.0" rx="2.6" ry="6.0" fill="none" stroke="#fff" stroke-width="1.4" transform="rotate(-5 1196.0 622.0)"/>
<ellipse cx="1183.0" cy="688.0" rx="5.0" ry="5.0" fill="none" stroke="#fff" stroke-width="1.4" stroke-dasharray="6.5 2.8" transform="rotate(0 1183.0 688.0)"/>
<ellipse cx="1359.0" cy="354.5" rx="1.3" ry="1.3" fill="#fff"/>
<ellipse cx="1388.0" cy="379.0" rx="4.5" ry="4.5" fill="none" stroke="#fff" stroke-width="1.4" stroke-dasharray="5.9 2.5" transform="rotate(0 1388.0 379.0)"/>
<ellipse cx="1669.5" cy="475.0" rx="1.6" ry="2.0" fill="#fff"/>
<ellipse cx="1700.0" cy="540.0" rx="1.0" ry="1.0" fill="#fff"/>
<line x1="1186.30" y1="151.30" x2="1220.30" y2="151.30" stroke="#ff0000" stroke-width="2.90" />
<line x1="1203.30" y1="134.30" x2="1203.30" y2="168.30" stroke="#ff0000" stroke-width="2.90" />
<text x="1185.30" y="184.50" font-size="32.20" text-anchor="middle" fill="#ff0000" >2</text>
<line x1="1189.80" y1="188.20" x2="1223.80" y2="188.20" stroke="#ff0000" stroke-width="2.90" />
<line x1="1206.80" y1="171.20" x2="1206.80" y2="205.20" stroke="#ff0000" stroke-width="2.90" />
<text x="1188.80" y="221.40" font-size="32.20" text-anchor="middle" fill="#ff0000" >3</text>
<line x1="1274.10" y1="306.40" x2="1308.10" y2="306.40" stroke="#ff0000" stroke-width="2.90" />
<line x1="1291.10" y1="289.40" x2="1291.10" y2="323.40" stroke="#ff0000" stroke-width="2.90" />
<text x="1273.10" y="339.60" font-size="32.20" text-anchor="middle" fill="#ff0000" >4</text>
<line x1="1328.90" y1="364.80" x2="1362.90" y2="364.80" stroke="#ff0000" stroke-width="2.90" />
<line x1="1345.90" y1="347.80" x2="1345.90" y2="381.80" stroke="#ff0000" stroke-width="2.90" />
<text x="1327.90" y="398.00" font-size="32.20" text-anchor="middle" fill="#ff0000" >5</text>
<line x1="1373.80" y1="374.20" x2="1407.80" y2="374.20" stroke="#ff0000" stroke-width="2.90" />
<line x1="1390.80" y1="357.20" x2="1390.80" y2="391.20" stroke="#ff0000" stroke-width="2.90" />
<text x="1372.80" y="407.40" font-size="32.20" text-anchor="middle" fill="#ff0000" >6</text>
<line x1="1425.60" y1="489.20" x2="1459.60" y2="489.20" stroke="#ff0000" stroke-width="2.90" />
<line x1="1442.60" y1="472.20" x2="1442.60" y2="506.20" stroke="#ff0000" stroke-width="2.90" />
<text x="1424.60" y="522.40" font-size="32.20" text-anchor="middle" fill="#ff0000" >7</text>
<line x1="1656.70" y1="551.80" x2="1690.70" y2="551.80" stroke="#ff0000" stroke-width="2.90" />
<line x1="1673.70" y1="534.80" x2="1673.70" y2="568.80" stroke="#ff0000" stroke-width="2.90" />
<text x="1655.70" y="585.00" font-size="32.20" text-anchor="middle" fill="#ff0000" >8</text>
</g>
<line x1="1113.00" y1="23.60" x2="1113.00" y2="33.20" stroke="#fff" stroke-width="2.00" />
<line x1="1113.00" y1="685.80" x2="1113.00" y2="676.20" stroke="#fff" stroke-width="2.00" />
<line x1="1310.30" y1="23.60" x2="1310.30" y2="33.20" stroke="#fff" stroke-width="2.00" />
<line x1="1310.30" y1="685.80" x2="1310.30" y2="676.20" stroke="#fff" stroke-width="2.00" />
<line x1="1507.60" y1="23.60" x2="1507.60" y2="33.20" stroke="#fff" stroke-width="2.00" />
<line x1="1507.60" y1="685.80" x2="1507.60" y2="676.20" stroke="#fff" stroke-width="2.00" />
<line x1="1034.08" y1="23.60" x2="1034.08" y2="28.30" stroke="#fff" stroke-width="1.90" />
<line x1="1034.08" y1="685.80" x2="1034.08" y2="681.10" stroke="#fff" stroke-width="1.90" />
<line x1="1073.54" y1="23.60" x2="1073.54" y2="28.30" stroke="#fff" stroke-width="1.90" />
<line x1="1073.54" y1="685.80" x2="1073.54" y2="681.10" stroke="#fff" stroke-width="1.90" />
<line x1="1152.46" y1="23.60" x2="1152.46" y2="28.30" stroke="#fff" stroke-width="1.90" />
<line x1="1152.46" y1="685.80" x2="1152.46" y2="681.10" stroke="#fff" stroke-width="1.90" />
<line x1="1191.92" y1="23.60" x2="1191.92" y2="28.30" stroke="#fff" stroke-width="1.90" />
<line x1="1191.92" y1="685.80" x2="1191.92" y2="681.10" stroke="#fff" stroke-width="1.90" />
<line x1="1231.38" y1="23.60" x2="1231.38" y2="28.30" stroke="#fff" stroke-width="1.90" />
<line x1="1231.38" y1="685.80" x2="1231.38" y2="681.10" stroke="#fff" stroke-width="1.90" />
<line x1="1270.84" y1="23.60" x2="1270.84" y2="28.30" stroke="#fff" stroke-width="1.90" />
<line x1="1270.84" y1="685.80" x2="1270.84" y2="681.10" stroke="#fff" stroke-width="1.90" />
<line x1="1349.76" y1="23.60" x2="1349.76" y2="28.30" stroke="#fff" stroke-width="1.90" />
<line x1="1349.76" y1="685.80" x2="1349.76" y2="681.10" stroke="#fff" stroke-width="1.90" />
<line x1="1389.22" y1="23.60" x2="1389.22" y2="28.30" stroke="#fff" stroke-width="1.90" />
<line x1="1389.22" y1="685.80" x2="1389.22" y2="681.10" stroke="#fff" stroke-width="1.90" />
<line x1="1428.68" y1="23.60" x2="1428.68" y2="28.30" stroke="#fff" stroke-width="1.90" />
<line x1="1428.68" y1="685.80" x2="1428.68" y2="681.10" stroke="#fff" stroke-width="1.90" />
<line x1="1468.14" y1="23.60" x2="1468.14" y2="28.30" stroke="#fff" stroke-width="1.90" />
<line x1="1468.14" y1="685.80" x2="1468.14" y2="681.10" stroke="#fff" stroke-width="1.90" />
<line x1="1547.06" y1="23.60" x2="1547.06" y2="28.30" stroke="#fff" stroke-width="1.90" />
<line x1="1547.06" y1="685.80" x2="1547.06" y2="681.10" stroke="#fff" stroke-width="1.90" />
<line x1="1586.52" y1="23.60" x2="1586.52" y2="28.30" stroke="#fff" stroke-width="1.90" />
<line x1="1586.52" y1="685.80" x2="1586.52" y2="681.10" stroke="#fff" stroke-width="1.90" />
<line x1="1625.98" y1="23.60" x2="1625.98" y2="28.30" stroke="#fff" stroke-width="1.90" />
<line x1="1625.98" y1="685.80" x2="1625.98" y2="681.10" stroke="#fff" stroke-width="1.90" />
<line x1="1665.44" y1="23.60" x2="1665.44" y2="28.30" stroke="#fff" stroke-width="1.90" />
<line x1="1665.44" y1="685.80" x2="1665.44" y2="681.10" stroke="#fff" stroke-width="1.90" />
<line x1="1018.00" y1="89.86" x2="1027.60" y2="89.86" stroke="#fff" stroke-width="2.00" />
<line x1="1680.70" y1="89.86" x2="1671.10" y2="89.86" stroke="#fff" stroke-width="2.00" />
<line x1="1018.00" y1="222.36" x2="1027.60" y2="222.36" stroke="#fff" stroke-width="2.00" />
<line x1="1680.70" y1="222.36" x2="1671.10" y2="222.36" stroke="#fff" stroke-width="2.00" />
<line x1="1018.00" y1="354.86" x2="1027.60" y2="354.86" stroke="#fff" stroke-width="2.00" />
<line x1="1680.70" y1="354.86" x2="1671.10" y2="354.86" stroke="#fff" stroke-width="2.00" />
<line x1="1018.00" y1="487.36" x2="1027.60" y2="487.36" stroke="#fff" stroke-width="2.00" />
<line x1="1680.70" y1="487.36" x2="1671.10" y2="487.36" stroke="#fff" stroke-width="2.00" />
<line x1="1018.00" y1="619.86" x2="1027.60" y2="619.86" stroke="#fff" stroke-width="2.00" />
<line x1="1680.70" y1="619.86" x2="1671.10" y2="619.86" stroke="#fff" stroke-width="2.00" />
<line x1="1018.00" y1="36.86" x2="1022.70" y2="36.86" stroke="#fff" stroke-width="1.90" />
<line x1="1680.70" y1="36.86" x2="1676.00" y2="36.86" stroke="#fff" stroke-width="1.90" />
<line x1="1018.00" y1="63.36" x2="1022.70" y2="63.36" stroke="#fff" stroke-width="1.90" />
<line x1="1680.70" y1="63.36" x2="1676.00" y2="63.36" stroke="#fff" stroke-width="1.90" />
<line x1="1018.00" y1="116.36" x2="1022.70" y2="116.36" stroke="#fff" stroke-width="1.90" />
<line x1="1680.70" y1="116.36" x2="1676.00" y2="116.36" stroke="#fff" stroke-width="1.90" />
<line x1="1018.00" y1="142.86" x2="1022.70" y2="142.86" stroke="#fff" stroke-width="1.90" />
<line x1="1680.70" y1="142.86" x2="1676.00" y2="142.86" stroke="#fff" stroke-width="1.90" />
<line x1="1018.00" y1="169.36" x2="1022.70" y2="169.36" stroke="#fff" stroke-width="1.90" />
<line x1="1680.70" y1="169.36" x2="1676.00" y2="169.36" stroke="#fff" stroke-width="1.90" />
<line x1="1018.00" y1="195.86" x2="1022.70" y2="195.86" stroke="#fff" stroke-width="1.90" />
<line x1="1680.70" y1="195.86" x2="1676.00" y2="195.86" stroke="#fff" stroke-width="1.90" />
<line x1="1018.00" y1="248.86" x2="1022.70" y2="248.86" stroke="#fff" stroke-width="1.90" />
<line x1="1680.70" y1="248.86" x2="1676.00" y2="248.86" stroke="#fff" stroke-width="1.90" />
<line x1="1018.00" y1="275.36" x2="1022.70" y2="275.36" stroke="#fff" stroke-width="1.90" />
<line x1="1680.70" y1="275.36" x2="1676.00" y2="275.36" stroke="#fff" stroke-width="1.90" />
<line x1="1018.00" y1="301.86" x2="1022.70" y2="301.86" stroke="#fff" stroke-width="1.90" />
<line x1="1680.70" y1="301.86" x2="1676.00" y2="301.86" stroke="#fff" stroke-width="1.90" />
<line x1="1018.00" y1="328.36" x2="1022.70" y2="328.36" stroke="#fff" stroke-width="1.90" />
<line x1="1680.70" y1="328.36" x2="1676.00" y2="328.36" stroke="#fff" stroke-width="1.90" />
<line x1="1018.00" y1="381.36" x2="1022.70" y2="381.36" stroke="#fff" stroke-width="1.90" />
<line x1="1680.70" y1="381.36" x2="1676.00" y2="381.36" stroke="#fff" stroke-width="1.90" />
<line x1="1018.00" y1="407.86" x2="1022.70" y2="407.86" stroke="#fff" stroke-width="1.90" />
<line x1="1680.70" y1="407.86" x2="1676.00" y2="407.86" stroke="#fff" stroke-width="1.90" />
<line x1="1018.00" y1="434.36" x2="1022.70" y2="434.36" stroke="#fff" stroke-width="1.90" />
<line x1="1680.70" y1="434.36" x2="1676.00" y2="434.36" stroke="#fff" stroke-width="1.90" />
<line x1="1018.00" y1="460.86" x2="1022.70" y2="460.86" stroke="#fff" stroke-width="1.90" />
<line x1="1680.70" y1="460.86" x2="1676.00" y2="460.86" stroke="#fff" stroke-width="1.90" />
<line x1="1018.00" y1="513.86" x2="1022.70" y2="513.86" stroke="#fff" stroke-width="1.90" />
<line x1="1680.70" y1="513.86" x2="1676.00" y2="513.86" stroke="#fff" stroke-width="1.90" />
<line x1="1018.00" y1="540.36" x2="1022.70" y2="540.36" stroke="#fff" stroke-width="1.90" />
<line x1="1680.70" y1="540.36" x2="1676.00" y2="540.36" stroke="#fff" stroke-width="1.90" />
<line x1="1018.00" y1="566.86" x2="1022.70" y2="566.86" stroke="#fff" stroke-width="1.90" />
<line x1="1680.70" y1="566.86" x2="1676.00" y2="566.86" stroke="#fff" stroke-width="1.90" />
<line x1="1018.00" y1="593.36" x2="1022.70" y2="593.36" stroke="#fff" stroke-width="1.90" />
<line x1="1680.70" y1="593.36" x2="1676.00" y2="593.36" stroke="#fff" stroke-width="1.90" />
<line x1="1018.00" y1="646.36" x2="1022.70" y2="646.36" stroke="#fff" stroke-width="1.90" />
<line x1="1680.70" y1="646.36" x2="1676.00" y2="646.36" stroke="#fff" stroke-width="1.90" />
<line x1="1018.00" y1="672.86" x2="1022.70" y2="672.86" stroke="#fff" stroke-width="1.90" />
<line x1="1680.70" y1="672.86" x2="1676.00" y2="672.86" stroke="#fff" stroke-width="1.90" />
<rect x="1018.00" y="23.60" width="662.70" height="662.20" fill="none" stroke="#000" stroke-width="0.90"/>
<text x="1112.10" y="703.70" font-size="19.40" text-anchor="middle" fill="#000" ><tspan dy="0.00" font-size="19.40">19</tspan><tspan dy="-6.98" font-size="13.58">h</tspan><tspan dy="6.98" font-size="19.40">06</tspan><tspan dy="-6.98" font-size="13.58">m</tspan><tspan dy="6.98" font-size="19.40">01.65</tspan><tspan dy="-6.98" font-size="13.58">s</tspan></text>
<text x="1309.40" y="703.70" font-size="19.40" text-anchor="middle" fill="#000" ><tspan dy="0.00" font-size="19.40">01.60</tspan><tspan dy="-6.98" font-size="13.58">s</tspan></text>
<text x="1506.70" y="703.70" font-size="19.40" text-anchor="middle" fill="#000" ><tspan dy="0.00" font-size="19.40">01.55</tspan><tspan dy="-6.98" font-size="13.58">s</tspan></text>
<text x="1014.70" y="95.46" font-size="19.40" text-anchor="end" fill="#000" >6°46'37.0"</text>
<text x="1014.70" y="227.96" font-size="19.40" text-anchor="end" fill="#000" >36.5"</text>
<text x="1014.70" y="360.46" font-size="19.40" text-anchor="end" fill="#000" >36.0"</text>
<text x="1014.70" y="492.96" font-size="19.40" text-anchor="end" fill="#000" >35.5"</text>
<text x="1014.70" y="625.46" font-size="19.40" text-anchor="end" fill="#000" >35.0"</text>
<text x="1349.00" y="733.70" font-size="24.00" text-anchor="middle" fill="#000" >RA (J2000)</text>
<text x="1349.20" y="17.80" font-size="24.00" text-anchor="middle" fill="#000" >IRAS 19035+0641 A</text>
<text transform="translate(943.0,354.3) rotate(-90)" font-size="24.00" text-anchor="middle" fill="#000">Dec (J2000)</text>
<rect x="1722.30" y="23.60" width="33.30" height="662.20" fill="url(#vir)" stroke="#1a1a1a" stroke-width="0.7"/>
<line x1="1755.60" y1="680.00" x2="1759.20" y2="680.00" stroke="#000" stroke-width="0.80" />
<text x="1762.20" y="685.70" font-size="17.60" text-anchor="start" fill="#000" >0</text>
<line x1="1755.60" y1="548.80" x2="1759.20" y2="548.80" stroke="#000" stroke-width="0.80" />
<text x="1762.20" y="554.50" font-size="17.60" text-anchor="start" fill="#000" >20</text>
<line x1="1755.60" y1="417.60" x2="1759.20" y2="417.60" stroke="#000" stroke-width="0.80" />
<text x="1762.20" y="423.30" font-size="17.60" text-anchor="start" fill="#000" >40</text>
<line x1="1755.60" y1="286.40" x2="1759.20" y2="286.40" stroke="#000" stroke-width="0.80" />
<text x="1762.20" y="292.10" font-size="17.60" text-anchor="start" fill="#000" >60</text>
<line x1="1755.60" y1="155.20" x2="1759.20" y2="155.20" stroke="#000" stroke-width="0.80" />
<text x="1762.20" y="160.90" font-size="17.60" text-anchor="start" fill="#000" >80</text>
<line x1="1755.60" y1="24.00" x2="1759.20" y2="24.00" stroke="#000" stroke-width="0.80" />
<text x="1762.20" y="29.70" font-size="17.60" text-anchor="start" fill="#000" >100</text>
<text transform="translate(1813.6,355.0) rotate(-90)" font-size="19.40" text-anchor="middle" fill="#000"><tspan font-style="italic">μ</tspan>Jy/beam</text>
</svg>
</body></html>
